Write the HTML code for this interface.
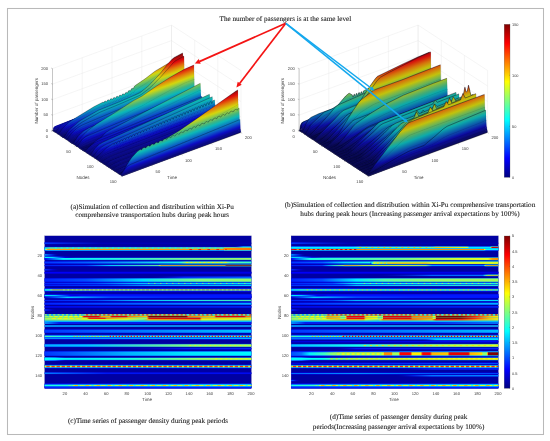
<!DOCTYPE html>
<html><head><meta charset="utf-8"><title>Figure</title>
<style>html,body{margin:0;padding:0;background:#fff;}svg{display:block;}text{text-rendering:geometricPrecision;}</style>
</head><body>
<svg width="550" height="441" viewBox="0 0 550 441">
<rect width="550" height="441" fill="#fff"/>
<rect x="7.5" y="8.5" width="536" height="426" fill="#fff" stroke="#b9b9b9" stroke-width="1.05"/>
<g transform="translate(0.0,0)"><defs><linearGradient id="jza" gradientUnits="userSpaceOnUse" x1="0" y1="0" x2="-13.39" y2="-36.64"><stop offset="0" stop-color="#0c0c72"/><stop offset="0.04167" stop-color="#0c0c8b"/><stop offset="0.08333" stop-color="#0c0ca1"/><stop offset="0.125" stop-color="#0c0cc2"/><stop offset="0.1667" stop-color="#0c2bc6"/><stop offset="0.2083" stop-color="#0c4bc8"/><stop offset="0.25" stop-color="#0c68c4"/><stop offset="0.2917" stop-color="#0c84bf"/><stop offset="0.3333" stop-color="#0c9ebb"/><stop offset="0.375" stop-color="#0cb8b8"/><stop offset="0.4167" stop-color="#29b699"/><stop offset="0.4583" stop-color="#45b67d"/><stop offset="0.5" stop-color="#66bf66"/><stop offset="0.5417" stop-color="#89c74a"/><stop offset="0.5833" stop-color="#afd02c"/><stop offset="0.625" stop-color="#d5d50c"/><stop offset="0.6667" stop-color="#dab80c"/><stop offset="0.7083" stop-color="#de980c"/><stop offset="0.75" stop-color="#e2780c"/><stop offset="0.7917" stop-color="#e1530c"/><stop offset="0.8333" stop-color="#e02f0c"/><stop offset="0.875" stop-color="#e00c0c"/><stop offset="0.9167" stop-color="#bc0c0c"/><stop offset="0.9583" stop-color="#980c0c"/><stop offset="1" stop-color="#750c0c"/></linearGradient></defs><line x1="52.5" y1="130.6" x2="171.5" y2="87.1" stroke="#e3e3e3" stroke-width="0.35"/><line x1="171.5" y1="87.1" x2="241.0" y2="132.5" stroke="#e3e3e3" stroke-width="0.35"/><line x1="52.5" y1="115.1" x2="171.5" y2="71.6" stroke="#e3e3e3" stroke-width="0.35"/><line x1="171.5" y1="71.6" x2="241.0" y2="117.0" stroke="#e3e3e3" stroke-width="0.35"/><line x1="52.5" y1="99.6" x2="171.5" y2="56.1" stroke="#e3e3e3" stroke-width="0.35"/><line x1="171.5" y1="56.1" x2="241.0" y2="101.5" stroke="#e3e3e3" stroke-width="0.35"/><line x1="52.5" y1="84.1" x2="171.5" y2="40.6" stroke="#e3e3e3" stroke-width="0.35"/><line x1="171.5" y1="40.6" x2="241.0" y2="86.0" stroke="#e3e3e3" stroke-width="0.35"/><line x1="52.5" y1="68.6" x2="171.5" y2="25.1" stroke="#e3e3e3" stroke-width="0.35"/><line x1="171.5" y1="25.1" x2="241.0" y2="70.5" stroke="#e3e3e3" stroke-width="0.35"/><line x1="52.5" y1="130.6" x2="52.5" y2="68.6" stroke="#e3e3e3" stroke-width="0.35"/><line x1="52.5" y1="130.6" x2="122.0" y2="176.0" stroke="#e3e3e3" stroke-width="0.35"/><line x1="82.2" y1="119.7" x2="82.2" y2="57.7" stroke="#e3e3e3" stroke-width="0.35"/><line x1="82.2" y1="119.7" x2="151.8" y2="165.1" stroke="#e3e3e3" stroke-width="0.35"/><line x1="112.0" y1="108.8" x2="112.0" y2="46.8" stroke="#e3e3e3" stroke-width="0.35"/><line x1="112.0" y1="108.8" x2="181.5" y2="154.2" stroke="#e3e3e3" stroke-width="0.35"/><line x1="141.8" y1="98.0" x2="141.8" y2="36.0" stroke="#e3e3e3" stroke-width="0.35"/><line x1="141.8" y1="98.0" x2="211.2" y2="143.4" stroke="#e3e3e3" stroke-width="0.35"/><line x1="171.5" y1="87.1" x2="171.5" y2="25.1" stroke="#e3e3e3" stroke-width="0.35"/><line x1="171.5" y1="87.1" x2="241.0" y2="132.5" stroke="#e3e3e3" stroke-width="0.35"/><line x1="171.5" y1="87.1" x2="171.5" y2="25.1" stroke="#e3e3e3" stroke-width="0.35"/><line x1="52.5" y1="130.6" x2="171.5" y2="87.1" stroke="#e3e3e3" stroke-width="0.35"/><line x1="194.7" y1="102.2" x2="194.7" y2="40.2" stroke="#e3e3e3" stroke-width="0.35"/><line x1="75.7" y1="145.7" x2="194.7" y2="102.2" stroke="#e3e3e3" stroke-width="0.35"/><line x1="217.8" y1="117.4" x2="217.8" y2="55.4" stroke="#e3e3e3" stroke-width="0.35"/><line x1="98.8" y1="160.9" x2="217.8" y2="117.4" stroke="#e3e3e3" stroke-width="0.35"/><line x1="241.0" y1="132.5" x2="241.0" y2="70.5" stroke="#e3e3e3" stroke-width="0.35"/><line x1="122.0" y1="176.0" x2="241.0" y2="132.5" stroke="#e3e3e3" stroke-width="0.35"/><polygon points="52.5,130.6 171.5,87.1 241.0,132.5 122.0,176.0" fill="#00005c"/><polygon transform="translate(52.7,130.8)" points="-0.2,-0.2 0.4,-1 1.6,-1.6 118.8,-44.7 119.2,-47.9 18.1,-10.3 2,-4.1 0.8,-2.7 0.2,0.6" fill="url(#jza)" stroke="#001" stroke-opacity="0.20" stroke-width="0.3"/><polygon transform="translate(53.2,131.1)" points="-0.2,-0.2 0.4,-3.5 1.6,-4.8 17.6,-11 118.8,-48.6 119.2,-45.5 2,-2.2 0.8,-1.2 0.2,0.6" fill="url(#jza)" stroke="#001" stroke-opacity="0.20" stroke-width="0.3"/><polygon transform="translate(53.7,131.4)" points="-0.2,-0.2 0.4,-2 1.6,-2.9 118.8,-46.3 119.2,-49.1 18.1,-10.9 6.2,-5.6 2.6,-4.9 1.4,-3.2 0.2,0.6" fill="url(#jza)" stroke="#001" stroke-opacity="0.20" stroke-width="0.3"/><polygon transform="translate(54.1,131.7)" points="-0.2,-0.2 1,-4 2.1,-5.7 5.7,-6.4 17.6,-11.6 118.8,-49.9 119.2,-47.1 18.1,-9.3 6.2,-4.3 2.6,-3.4 1.4,-2.2 0.2,0.6" fill="url(#jza)" stroke="#001" stroke-opacity="0.20" stroke-width="0.3"/><polygon transform="translate(54.6,132)" points="-0.2,-0.2 1,-2.9 2.1,-4.2 5.7,-5.1 17.6,-10.1 118.8,-47.9 119.2,-50.3 18.1,-11.8 5,-6.4 2,-2.5 0.2,0.6" fill="url(#jza)" stroke="#001" stroke-opacity="0.20" stroke-width="0.3"/><polygon transform="translate(55,132.3)" points="-0.2,-0.2 1.6,-3.3 4.5,-7.2 17.6,-12.6 118.8,-51.1 119.2,-46.8 18.1,-9 5,-3.9 0.2,0.4" fill="url(#jza)" stroke="#001" stroke-opacity="0.20" stroke-width="0.3"/><polygon transform="translate(55.5,132.6)" points="-0.2,-0.3 4.5,-4.7 17.6,-9.8 118.8,-47.6 119.2,-52.2 8.6,-8.7 6.2,-7.4 4.4,-5.8 0.2,-0.2" fill="url(#jza)" stroke="#001" stroke-opacity="0.20" stroke-width="0.3"/><polygon transform="translate(56,132.9)" points="-0.2,-1 3.9,-6.6 5.7,-8.1 8.1,-9.4 118.8,-52.9 119.2,-50.4 8.6,-7.5 6.2,-6.3 4.4,-4.9 0.2,-0.1" fill="url(#jza)" stroke="#001" stroke-opacity="0.20" stroke-width="0.3"/><polyline transform="translate(56,132.9)" points="-0.2,-1 3.9,-6.6 5.7,-8.1 8.1,-9.4 118.8,-52.9" fill="none" stroke="#000820" stroke-opacity="0.55" stroke-width="0.45"/><polygon transform="translate(56.4,133.2)" points="-0.2,-0.8 3.9,-5.6 5.7,-7 8.1,-8.2 118.8,-51.2 119.2,-48.7 8.6,-6.3 6.2,-5.2 4.4,-4 0.2,0.1" fill="url(#jza)" stroke="#001" stroke-opacity="0.20" stroke-width="0.3"/><polygon transform="translate(56.9,133.5)" points="-0.2,-0.7 3.9,-4.7 5.7,-5.9 8.1,-7 118.8,-49.4 119.2,-46.9 8.6,-5.1 4.4,-3 0.2,0.3" fill="url(#jza)" stroke="#001" stroke-opacity="0.20" stroke-width="0.3"/><polygon transform="translate(57.4,133.8)" points="-0.2,-0.5 3.9,-3.8 8.1,-5.9 118.8,-47.6 119.2,-45.1 8.6,-3.9 4.4,-2.1 0.2,0.4" fill="url(#jza)" stroke="#001" stroke-opacity="0.20" stroke-width="0.3"/><polygon transform="translate(57.8,134.1)" points="-0.2,-0.3 3.9,-2.9 8.1,-4.7 118.8,-45.9 119.2,-49.6 96.6,-40.5 77.6,-32.1 75.8,-31.3 75.2,-30.7 74.6,-30.4 74,-30.5 72.8,-29.9 72.2,-29.4 69.8,-28.6 68.7,-27.8 68.1,-27.9 66.9,-27.4 66.3,-26.9 65.1,-26.7 63.9,-26.2 63.3,-25.8 60.9,-25.1 59.7,-24.4 59.1,-24.5 57.9,-24 56.8,-23.3 56.2,-23.3 55,-22.9 53.8,-22.2 53.2,-22.2 52,-21.8 50.8,-21.1 50.2,-21.1 49,-20.7 47.8,-20 47.2,-20 46,-19.6 45.5,-19.1 44.9,-19.1 18.1,-8.2 9.2,-4.3 0.2,0.5" fill="url(#jza)" stroke="#001" stroke-opacity="0.20" stroke-width="0.3"/><polygon transform="translate(58.3,134.4)" points="-0.2,-0.3 8.7,-5 17.6,-8.9 44.4,-19.9 45,-19.9 45.6,-20.3 46.8,-20.8 47.4,-20.8 48.6,-21.4 49.7,-21.9 50.3,-21.9 51.5,-22.6 52.7,-23 53.3,-23 54.5,-23.7 55.7,-24.1 56.3,-24.1 57.5,-24.8 58.7,-25.2 59.3,-25.2 60.5,-25.9 62.8,-26.5 63.4,-27 64.6,-27.4 65.8,-27.6 66.4,-28.1 67.6,-28.6 68.2,-28.6 69.4,-29.4 71.8,-30.1 72.4,-30.7 73.5,-31.2 74.1,-31.2 74.7,-31.5 75.3,-32 77.1,-32.9 96.2,-41.3 118.8,-50.4 119.2,-75.1 109.1,-70.1 96.6,-62.7 87.1,-55.3 77.6,-48.8 75.8,-47.3 75.2,-45.4 74.6,-45 74,-45.8 72.8,-44.9 72.2,-43.2 71.6,-42.8 71,-43.6 69.8,-42.8 69.3,-41.2 68.7,-40.8 68.1,-41.6 66.9,-41 66.3,-39.4 65.7,-39.2 65.1,-40.1 63.9,-39.6 63.3,-38.2 62.7,-38 62.1,-38.9 60.9,-38.5 60.3,-37 59.7,-36.8 59.1,-37.7 57.9,-37.3 57.4,-35.9 56.8,-35.6 56.2,-36.6 55,-36.1 54.4,-34.7 53.8,-34.5 53.2,-35.4 52,-34.9 51.4,-33.5 50.8,-33.3 50.2,-34.2 49,-33.7 48.4,-32.3 47.8,-32.1 47.2,-33 46,-32.5 45.5,-31.1 44.9,-31.9 35.9,-27.5 18.1,-16.6 12.1,-12.7 9.2,-10.3 4.4,-5.5 0.2,0" fill="url(#jza)" stroke="#001" stroke-opacity="0.20" stroke-width="0.3"/><polygon transform="translate(58.8,134.7)" points="-0.2,-0.8 3.9,-6.2 8.7,-11 11.7,-13.5 17.6,-17.3 35.5,-28.2 44.4,-32.7 45,-31.8 45.6,-33.2 46.8,-33.8 47.4,-32.9 48,-33.1 48.6,-34.5 49.7,-35 50.3,-34 50.9,-34.3 51.5,-35.7 52.7,-36.1 53.3,-35.2 53.9,-35.4 54.5,-36.8 55.7,-37.3 56.3,-36.4 56.9,-36.6 57.5,-38 58.7,-38.5 59.3,-37.6 59.9,-37.8 60.5,-39.2 61.6,-39.7 62.2,-38.7 62.8,-39 63.4,-40.4 64.6,-40.9 65.2,-39.9 65.8,-40.2 66.4,-41.7 67.6,-42.4 68.2,-41.5 68.8,-41.9 69.4,-43.6 70.6,-44.4 71.2,-43.5 71.8,-43.9 72.4,-45.7 73.5,-46.6 74.1,-45.7 74.7,-46.2 75.3,-48.1 77.1,-49.6 86.6,-56.1 96.2,-63.5 108.7,-70.9 118.8,-75.8 119.2,-69 109.1,-64.3 96.6,-57.4 87.1,-50.7 77.6,-44.8 75.8,-43.5 75.2,-41.9 74.6,-41.5 74,-42.1 72.8,-41.3 72.2,-39.9 71.6,-39.5 71,-40.1 69.8,-39.4 69.3,-38 68.7,-37.7 68.1,-38.3 66.9,-37.7 66.3,-36.4 65.7,-36.2 65.1,-36.9 63.9,-36.4 63.3,-35.2 62.7,-35 62.1,-35.7 60.9,-35.2 60.3,-34.1 59.7,-33.8 59.1,-34.5 57.9,-34.1 57.4,-32.9 56.8,-32.7 56.2,-33.4 55,-32.9 54.4,-31.7 53.8,-31.5 53.2,-32.2 52,-31.8 51.4,-30.6 50.8,-30.4 50.2,-31.1 49,-30.6 48.4,-29.4 47.8,-29.2 47.2,-29.9 46,-29.4 45.5,-28.2 44.9,-28.8 35.9,-24.6 18.1,-14.6 12.1,-11 9.2,-8.8 4.4,-4.6 0.2,0.1" fill="url(#jza)" stroke="#001" stroke-opacity="0.20" stroke-width="0.3"/><polyline transform="translate(58.8,134.7)" points="-0.2,-0.8 3.9,-6.2 8.7,-11 11.7,-13.5 17.6,-17.3 35.5,-28.2 44.4,-32.7 45,-31.8 45.6,-33.2 46.8,-33.8 47.4,-32.9 48,-33.1 48.6,-34.5 49.7,-35 50.3,-34 50.9,-34.3 51.5,-35.7 52.7,-36.1 53.3,-35.2 53.9,-35.4 54.5,-36.8 55.7,-37.3 56.3,-36.4 56.9,-36.6 57.5,-38 58.7,-38.5 59.3,-37.6 59.9,-37.8 60.5,-39.2 61.6,-39.7 62.2,-38.7 62.8,-39 63.4,-40.4 64.6,-40.9 65.2,-39.9 65.8,-40.2 66.4,-41.7 67.6,-42.4 68.2,-41.5 68.8,-41.9 69.4,-43.6 70.6,-44.4 71.2,-43.5 71.8,-43.9 72.4,-45.7 73.5,-46.6 74.1,-45.7 74.7,-46.2 75.3,-48.1 77.1,-49.6 86.6,-56.1 96.2,-63.5 108.7,-70.9 118.8,-75.8" fill="none" stroke="#000820" stroke-opacity="0.55" stroke-width="0.45"/><polygon transform="translate(59.2,135)" points="-0.2,-0.7 3.9,-5.4 8.7,-9.6 11.7,-11.8 17.6,-15.3 35.5,-25.4 44.4,-29.6 45,-28.9 45.6,-30.1 46.8,-30.6 47.4,-29.9 48,-30.2 48.6,-31.4 49.7,-31.8 50.3,-31.1 50.9,-31.3 51.5,-32.5 52.7,-33 53.3,-32.3 53.9,-32.5 54.5,-33.7 55.7,-34.1 56.3,-33.4 56.9,-33.7 57.5,-34.8 58.7,-35.3 59.3,-34.6 59.9,-34.8 60.5,-36 61.6,-36.5 62.2,-35.7 62.8,-36 63.4,-37.2 64.6,-37.6 65.2,-36.9 65.8,-37.2 66.4,-38.4 67.6,-39.1 68.2,-38.4 68.8,-38.8 69.4,-40.2 70.6,-40.9 71.2,-40.2 71.8,-40.6 72.4,-42.1 73.5,-42.9 74.1,-42.2 74.7,-42.6 75.3,-44.2 77.1,-45.5 86.6,-51.5 96.2,-58.2 108.7,-65 118.8,-69.7 119.2,-62.8 109.1,-58.4 96.6,-52.1 87.1,-46.1 77.6,-40.8 75.8,-39.6 75.2,-38.4 74.6,-38 74,-38.4 72.8,-37.7 72.2,-36.5 71.6,-36.2 71,-36.7 69.8,-36 69.3,-34.9 68.7,-34.6 68.1,-35 66.9,-34.4 66.3,-33.4 65.7,-33.1 65.1,-33.6 63.9,-33.2 63.3,-32.2 62.7,-32 62.1,-32.5 60.9,-32 60.3,-31.1 59.7,-30.9 59.1,-31.4 57.9,-30.9 57.4,-29.9 56.8,-29.7 56.2,-30.2 55,-29.8 54.4,-28.8 53.8,-28.6 53.2,-29.1 52,-28.6 51.4,-27.7 50.8,-27.4 50.2,-27.9 49,-27.5 48.4,-26.5 47.8,-26.3 47.2,-26.8 46,-26.3 45.5,-25.3 44.9,-25.8 35.9,-21.8 18.1,-12.5 12.1,-9.3 9.2,-7.4 5,-4.2 0.2,0.2" fill="url(#jza)" stroke="#001" stroke-opacity="0.20" stroke-width="0.3"/><polygon transform="translate(59.7,135.3)" points="-0.2,-0.5 4.5,-5 8.7,-8.1 11.7,-10.1 17.6,-13.3 35.5,-22.5 44.4,-26.5 45,-26.1 45.6,-27 46.8,-27.5 47.4,-27 48,-27.3 48.6,-28.2 49.7,-28.7 50.3,-28.2 50.9,-28.4 51.5,-29.4 52.7,-29.8 53.3,-29.3 53.9,-29.6 54.5,-30.5 55.7,-31 56.3,-30.5 56.9,-30.7 57.5,-31.7 58.7,-32.1 59.3,-31.6 59.9,-31.8 60.5,-32.8 61.6,-33.3 62.2,-32.7 62.8,-33 63.4,-33.9 64.6,-34.4 65.2,-33.9 65.8,-34.2 66.4,-35.2 67.6,-35.8 68.2,-35.3 68.8,-35.6 69.4,-36.7 70.6,-37.4 71.2,-36.9 71.8,-37.3 72.4,-38.5 73.5,-39.2 74.1,-38.7 74.7,-39.1 75.3,-40.4 77.1,-41.5 86.6,-46.9 96.2,-52.8 108.7,-59.1 118.8,-63.6 119.2,-56.7 109.1,-52.5 96.6,-46.7 87.1,-41.5 77.6,-36.8 75.8,-35.8 75.2,-34.8 74.6,-34.5 74,-34.7 72.8,-34.1 72.2,-33.2 71.6,-32.9 71,-33.2 69.8,-32.6 69.3,-31.7 68.7,-31.5 68.1,-31.7 66.9,-31.2 66.3,-30.4 65.7,-30.1 65.1,-30.4 63.9,-30 63.3,-29.2 62.7,-29 62.1,-29.3 60.9,-28.8 60.3,-28.1 59.7,-27.9 59.1,-28.2 57.9,-27.7 57.4,-27 56.8,-26.8 56.2,-27 55,-26.6 54.4,-25.9 53.8,-25.6 53.2,-25.9 52,-25.5 51.4,-24.7 50.8,-24.5 50.2,-24.8 49,-24.3 48.4,-23.6 47.8,-23.4 47.2,-23.6 46,-23.2 45.5,-22.4 44.9,-22.7 35.9,-18.9 18.1,-10.5 12.1,-7.6 9.2,-5.9 5,-3.3 0.2,0.3" fill="url(#jza)" stroke="#001" stroke-opacity="0.20" stroke-width="0.3"/><polygon transform="translate(60.1,135.6)" points="-0.2,-0.4 4.5,-4 8.7,-6.7 11.7,-8.4 17.6,-11.3 35.5,-19.7 44.4,-23.4 45,-23.2 45.6,-23.9 46.8,-24.4 47.4,-24.1 48,-24.4 48.6,-25.1 49.7,-25.5 50.3,-25.3 50.9,-25.5 51.5,-26.2 52.7,-26.7 53.3,-26.4 53.9,-26.6 54.5,-27.3 55.7,-27.8 56.3,-27.5 56.9,-27.7 57.5,-28.5 58.7,-28.9 59.3,-28.6 59.9,-28.9 60.5,-29.6 61.6,-30 62.2,-29.8 62.8,-30 63.4,-30.7 64.6,-31.2 65.2,-30.9 65.8,-31.1 66.4,-31.9 67.6,-32.4 68.2,-32.2 68.8,-32.5 69.4,-33.3 70.6,-33.9 71.2,-33.7 71.8,-34 72.4,-34.9 73.5,-35.5 74.1,-35.2 74.7,-35.6 75.3,-36.5 77.1,-37.5 86.6,-42.3 96.2,-47.5 108.7,-53.3 118.8,-57.5 119.2,-50.6 109.1,-46.6 96.6,-41.4 77.6,-32.7 75.8,-31.9 75.2,-31.3 74.6,-31 74,-31 72.8,-30.5 72.2,-29.9 71.6,-29.6 71,-29.7 69.8,-29.2 68.7,-28.3 68.1,-28.4 66.9,-27.9 66.3,-27.4 65.7,-27.1 65.1,-27.2 63.9,-26.7 63.3,-26.2 62.7,-26 62.1,-26.1 60.9,-25.6 59.7,-24.9 59.1,-25 57.9,-24.5 56.8,-23.8 56.2,-23.9 55,-23.4 53.8,-22.7 53.2,-22.7 52,-22.3 50.8,-21.6 50.2,-21.6 49,-21.2 47.8,-20.5 47.2,-20.5 46,-20.1 45.5,-19.6 44.9,-19.6 35.9,-16.1 18.1,-8.5 9.2,-4.5 5,-2.3 0.2,0.5" fill="url(#jza)" stroke="#001" stroke-opacity="0.20" stroke-width="0.3"/><polygon transform="translate(60.6,135.9)" points="-0.2,-0.3 4.5,-3.1 8.7,-5.2 17.6,-9.2 35.5,-16.8 44.4,-20.4 45,-20.3 45.6,-20.8 46.8,-21.3 47.4,-21.2 48.6,-21.9 49.7,-22.4 50.3,-22.3 51.5,-23.1 52.7,-23.5 53.3,-23.4 54.5,-24.2 55.7,-24.6 56.3,-24.6 57.5,-25.3 58.7,-25.7 59.3,-25.7 60.5,-26.4 61.6,-26.8 62.2,-26.8 62.8,-27 63.4,-27.5 64.6,-27.9 65.2,-27.9 65.8,-28.1 66.4,-28.6 67.6,-29.1 68.2,-29.1 69.4,-29.9 70.6,-30.4 71.2,-30.4 71.8,-30.7 72.4,-31.2 73.5,-31.8 74.1,-31.7 74.7,-32 75.3,-32.6 77.1,-33.5 96.2,-42.1 108.7,-47.4 118.8,-51.4 119.2,-44.5 96.6,-36 68.7,-25.2 18.1,-6.5 0.2,0.6" fill="url(#jza)" stroke="#001" stroke-opacity="0.20" stroke-width="0.3"/><polygon transform="translate(61.1,136.2)" points="-0.2,-0.2 17.6,-7.2 68.2,-26 96.2,-36.8 118.8,-45.3 119.2,-44.2 68.7,-25 18.1,-6.3 0.2,0.6" fill="url(#jza)" stroke="#001" stroke-opacity="0.20" stroke-width="0.3"/><polygon transform="translate(61.5,136.5)" points="-0.2,-0.2 17.6,-7.1 68.2,-25.8 118.8,-44.9 119.2,-43.9 68.7,-24.9 18.1,-6.2 0.2,0.6" fill="url(#jza)" stroke="#001" stroke-opacity="0.20" stroke-width="0.3"/><polygon transform="translate(62,136.8)" points="-0.2,-0.2 17.6,-7 68.2,-25.7 118.8,-44.6 119.2,-43.7 0.2,0.6" fill="url(#jza)" stroke="#001" stroke-opacity="0.20" stroke-width="0.3"/><polygon transform="translate(62.5,137.1)" points="-0.2,-0.2 118.8,-44.4 119.2,-43.5 0.2,0.6" fill="url(#jza)" stroke="#001" stroke-opacity="0.20" stroke-width="0.3"/><polygon transform="translate(62.9,137.4)" points="-0.2,-0.2 118.8,-44.2 119.2,-51.6 108.5,-47.2 88.3,-36.4 77,-31.1 34.7,-15.1 17.5,-8.1 6.2,-2.9 0.2,0.5" fill="url(#jza)" stroke="#001" stroke-opacity="0.20" stroke-width="0.3"/><polygon transform="translate(63.4,137.7)" points="-0.2,-0.3 5.7,-3.6 17,-8.8 34.3,-15.9 76.5,-31.9 87.8,-37.1 108.1,-47.9 118.8,-52.3 119.2,-84.3 110.9,-79.9 108.5,-78 104.4,-73.4 95.4,-62.2 88.3,-54.5 84.7,-51.2 77,-44.9 74.6,-43.5 56.2,-35.4 34.7,-26.9 17.5,-16.9 13.9,-14.4 6.2,-7.7 4.4,-5.6 1.4,-1.3 0.2,0" fill="url(#jza)" stroke="#001" stroke-opacity="0.20" stroke-width="0.3"/><polygon transform="translate(63.9,138)" points="-0.2,-0.7 1,-2.1 3.9,-6.4 5.7,-8.4 13.5,-15.1 17,-17.7 34.3,-27.6 55.7,-36.2 74.1,-44.3 76.5,-45.6 84.3,-51.9 87.8,-55.3 95,-63 103.9,-74.1 108.1,-78.8 110.4,-80.6 118.8,-85.1 119.2,-76.1 110.9,-71.9 108.5,-70.2 104.4,-66.2 95.4,-56.6 88.3,-49.9 84.7,-47 77,-41.4 74.6,-40.1 56.2,-32.3 34.7,-23.9 17.5,-14.7 13.9,-12.4 6.2,-6.5 4.4,-4.7 1.4,-1 0.2,0.1" fill="url(#jza)" stroke="#001" stroke-opacity="0.20" stroke-width="0.3"/><polyline transform="translate(63.9,138)" points="-0.2,-0.7 1,-2.1 3.9,-6.4 5.7,-8.4 13.5,-15.1 17,-17.7 34.3,-27.6 55.7,-36.2 74.1,-44.3 76.5,-45.6 84.3,-51.9 87.8,-55.3 95,-63 103.9,-74.1 108.1,-78.8 110.4,-80.6 118.8,-85.1" fill="none" stroke="#000820" stroke-opacity="0.55" stroke-width="0.45"/><polygon transform="translate(64.3,138.3)" points="-0.2,-0.6 1,-1.8 3.9,-5.4 5.7,-7.2 13.5,-13.1 17,-15.5 34.3,-24.6 55.7,-33.1 74.1,-40.9 76.5,-42.1 84.3,-47.7 87.8,-50.7 95,-57.4 103.9,-66.9 108.1,-71 110.4,-72.6 118.8,-76.8 119.2,-67.8 110.9,-63.9 108.5,-62.4 104.4,-59 95.4,-51 88.3,-45.4 84.7,-42.8 77,-37.9 74.6,-36.7 56.2,-29.2 34.7,-20.9 17.5,-12.5 13.9,-10.4 6.2,-5.2 0.2,0.2" fill="url(#jza)" stroke="#001" stroke-opacity="0.20" stroke-width="0.3"/><polygon transform="translate(64.8,138.6)" points="-0.2,-0.5 5.7,-6 13.5,-11.1 17,-13.2 34.3,-21.7 55.7,-30 74.1,-37.5 76.5,-38.7 84.3,-43.6 87.8,-46.1 95,-51.8 103.9,-59.8 108.1,-63.2 110.4,-64.6 118.8,-68.5 119.2,-82.2 110.9,-77.4 108.5,-75.6 95.4,-60.6 88.3,-53.2 84.7,-50 77,-43.9 74.6,-42.6 56.2,-34.5 34.7,-25.6 17.5,-16 13.9,-13.5 6.2,-7 4.4,-5.1 1.4,-1.2 0.2,0.1" fill="url(#jza)" stroke="#001" stroke-opacity="0.20" stroke-width="0.3"/><polygon transform="translate(65.2,138.9)" points="-0.2,-0.7 1,-1.9 3.9,-5.9 5.7,-7.8 13.5,-14.2 17,-16.7 34.3,-26.4 55.7,-35.3 74.1,-43.3 76.5,-44.7 84.3,-50.7 87.8,-54 95,-61.4 108.1,-76.3 110.4,-78.2 118.8,-82.9 119.2,-63.5 110.9,-59.6 108.5,-58.2 95.4,-48.1 88.3,-42.9 84.7,-40.6 77,-36.1 74.6,-35 56.2,-27.5 34.7,-19.2 17.5,-11.1 13.9,-9.2 6.2,-4.4 0.2,0.3" fill="url(#jza)" stroke="#001" stroke-opacity="0.20" stroke-width="0.3"/><polyline transform="translate(65.2,138.9)" points="-0.2,-0.7 1,-1.9 3.9,-5.9 5.7,-7.8 13.5,-14.2 17,-16.7 34.3,-26.4 55.7,-35.3 74.1,-43.3 76.5,-44.7 84.3,-50.7 87.8,-54 95,-61.4 108.1,-76.3 110.4,-78.2 118.8,-82.9" fill="none" stroke="#000820" stroke-opacity="0.55" stroke-width="0.45"/><polygon transform="translate(65.7,139.2)" points="-0.2,-0.4 5.7,-5.2 13.5,-9.9 17,-11.9 34.3,-19.9 55.7,-28.3 74.1,-35.7 76.5,-36.9 84.3,-41.4 87.8,-43.7 95,-48.8 108.1,-58.9 110.4,-60.3 118.8,-64.3 119.2,-54.6 108.5,-50.1 95.4,-42.1 88.3,-38.1 77,-32.4 56.2,-24.3 34.7,-16.2 17.5,-8.9 6.2,-3.3 0.2,0.4" fill="url(#jza)" stroke="#001" stroke-opacity="0.20" stroke-width="0.3"/><polygon transform="translate(66.2,139.5)" points="-0.2,-0.3 5.7,-4.1 17,-9.6 34.3,-17 55.7,-25 76.5,-33.1 87.8,-38.8 95,-42.9 108.1,-50.8 118.8,-55.4 119.2,-52 108.5,-47.6 88.3,-36.7 77,-31.3 34.7,-15.3 17.5,-8.2 6.2,-2.9 0.2,0.5" fill="url(#jza)" stroke="#001" stroke-opacity="0.20" stroke-width="0.3"/><polygon transform="translate(66.6,139.8)" points="-0.2,-0.3 5.7,-3.7 17,-8.9 34.3,-16 76.5,-32.1 87.8,-37.4 108.1,-48.4 118.8,-52.8 119.2,-58.4 15.7,-14.3 11.5,-11.9 8.6,-9.6 5,-6.1 1.4,-1.2 0.2,0" fill="url(#jza)" stroke="#001" stroke-opacity="0.20" stroke-width="0.3"/><polygon transform="translate(67.1,140.1)" points="-0.2,-0.7 1,-2 4.5,-6.8 8.1,-10.4 11.1,-12.7 15.2,-15 118.8,-59.1 119.2,-55.9 15.7,-12.8 11.5,-10.6 8.6,-8.5 5,-5.3 1.4,-1 0.2,0.1" fill="url(#jza)" stroke="#001" stroke-opacity="0.20" stroke-width="0.3"/><polyline transform="translate(67.1,140.1)" points="-0.2,-0.7 1,-2 4.5,-6.8 8.1,-10.4 11.1,-12.7 15.2,-15 118.8,-59.1" fill="none" stroke="#000820" stroke-opacity="0.55" stroke-width="0.45"/><polygon transform="translate(67.6,140.4)" points="-0.2,-0.6 1,-1.8 4.5,-6 8.1,-9.3 11.1,-11.4 15.2,-13.6 118.8,-56.7 119.2,-53.5 15.7,-11.4 11.5,-9.3 8.6,-7.4 5,-4.5 0.2,0.2" fill="url(#jza)" stroke="#001" stroke-opacity="0.20" stroke-width="0.3"/><polygon transform="translate(68,140.7)" points="-0.2,-0.5 4.5,-5.3 8.1,-8.1 11.1,-10 15.2,-12.1 118.8,-54.2 119.2,-51 15.7,-9.9 11.5,-7.9 8.6,-6.2 5,-3.7 0.2,0.3" fill="url(#jza)" stroke="#001" stroke-opacity="0.20" stroke-width="0.3"/><polygon transform="translate(68.5,141)" points="-0.2,-0.4 4.5,-4.5 8.1,-7 11.1,-8.7 15.2,-10.6 118.8,-51.8 119.2,-48.6 15.7,-8.4 8.6,-5.1 5,-2.9 0.2,0.4" fill="url(#jza)" stroke="#001" stroke-opacity="0.20" stroke-width="0.3"/><polygon transform="translate(68.9,141.3)" points="-0.2,-0.4 4.5,-3.7 8.1,-5.8 15.2,-9.2 118.8,-49.3 119.2,-46.1 15.7,-7 8.6,-3.9 0.2,0.5" fill="url(#jza)" stroke="#001" stroke-opacity="0.20" stroke-width="0.3"/><polygon transform="translate(69.4,141.6)" points="-0.2,-0.3 8.1,-4.7 15.2,-7.7 118.8,-46.9 119.2,-44.5 108.5,-40.5 77,-28.1 14.5,-5.1 0.2,0.6" fill="url(#jza)" stroke="#001" stroke-opacity="0.20" stroke-width="0.3"/><polygon transform="translate(69.9,141.9)" points="-0.2,-0.2 14,-5.8 76.5,-28.9 108.1,-41.2 118.8,-45.2 119.2,-44.1 77,-28 14.5,-5 0.2,0.6" fill="url(#jza)" stroke="#001" stroke-opacity="0.20" stroke-width="0.3"/><polygon transform="translate(70.3,142.3)" points="-0.2,-0.2 14,-5.7 76.5,-28.7 118.8,-44.9 119.2,-43.9 77,-27.9 14.5,-4.9 0.2,0.6" fill="url(#jza)" stroke="#001" stroke-opacity="0.20" stroke-width="0.3"/><polygon transform="translate(70.8,142.6)" points="-0.2,-0.2 14,-5.6 76.5,-28.6 118.8,-44.6 119.2,-43.6 77,-27.8 14.5,-4.8 0.2,0.6" fill="url(#jza)" stroke="#001" stroke-opacity="0.20" stroke-width="0.3"/><polygon transform="translate(71.3,142.9)" points="-0.2,-0.2 14,-5.6 76.5,-28.5 118.8,-44.4 119.2,-43.5 0.2,0.6" fill="url(#jza)" stroke="#001" stroke-opacity="0.20" stroke-width="0.3"/><polygon transform="translate(71.7,143.2)" points="-0.2,-0.2 118.8,-44.2 119.2,-43.4 0.2,0.6" fill="url(#jza)" stroke="#001" stroke-opacity="0.20" stroke-width="0.3"/><polygon transform="translate(72.2,143.5)" points="-0.2,-0.2 118.8,-44.1 119.2,-46.1 16.3,-7.4 8.6,-4.1 0.2,0.5" fill="url(#jza)" stroke="#001" stroke-opacity="0.20" stroke-width="0.3"/><polygon transform="translate(72.7,143.8)" points="-0.2,-0.3 8.1,-4.8 15.8,-8.2 118.8,-46.9 119.2,-58.4 16.3,-15.4 11.5,-12.7 8.6,-10.2 5,-6.4 1.4,-1.3 0.2,0" fill="url(#jza)" stroke="#001" stroke-opacity="0.20" stroke-width="0.3"/><polygon transform="translate(73.1,144.1)" points="-0.2,-0.7 1,-2.1 4.5,-7.2 8.1,-10.9 11.1,-13.4 15.8,-16.2 118.8,-59.1 119.2,-54.8 16.3,-13 11.5,-10.5 8.6,-8.4 5,-5.2 1.4,-1 0.2,0.1" fill="url(#jza)" stroke="#001" stroke-opacity="0.20" stroke-width="0.3"/><polyline transform="translate(73.1,144.1)" points="-0.2,-0.7 1,-2.1 4.5,-7.2 8.1,-10.9 11.1,-13.4 15.8,-16.2 118.8,-59.1" fill="none" stroke="#000820" stroke-opacity="0.55" stroke-width="0.45"/><polygon transform="translate(73.6,144.4)" points="-0.2,-0.6 1,-1.7 4.5,-5.9 8.1,-9.1 11.1,-11.3 15.8,-13.8 118.8,-55.5 119.2,-51.2 16.3,-10.7 11.5,-8.4 8.6,-6.6 5,-4 0.2,0.3" fill="url(#jza)" stroke="#001" stroke-opacity="0.20" stroke-width="0.3"/><polygon transform="translate(74,144.7)" points="-0.2,-0.5 4.5,-4.7 8.1,-7.3 11.1,-9.1 15.8,-11.4 118.8,-51.9 119.2,-50.6 109.7,-46.9 95.4,-41.1 67.5,-29.1 33,-14.7 14.5,-7.6 10.9,-6 6.8,-3.8 0.2,0.4" fill="url(#jza)" stroke="#001" stroke-opacity="0.20" stroke-width="0.3"/><polygon transform="translate(74.5,145)" points="-0.2,-0.3 6.3,-4.5 10.5,-6.7 14,-8.3 32.5,-15.4 67,-29.9 95,-41.9 109.2,-47.7 118.8,-51.3 119.2,-79.4 109.7,-75.2 95.4,-67.2 82.3,-58.8 67.5,-48.4 59.1,-44 38.9,-30.9 21.7,-20.3 13.9,-14.4 11.5,-12.3 6.2,-6.7 2,-1.7 0.2,0.1" fill="url(#jza)" stroke="#001" stroke-opacity="0.20" stroke-width="0.3"/><polygon transform="translate(75,145.3)" points="-0.2,-0.6 1.6,-2.4 5.7,-7.5 11.1,-13.1 13.5,-15.2 21.2,-21.1 38.4,-31.7 58.7,-44.7 67,-49.2 81.9,-59.5 95,-67.9 109.2,-76 118.8,-80.2 119.2,-65.6 109.7,-61.6 95.4,-54.7 82.3,-47.6 67.5,-39.1 59.1,-35.2 38.9,-24.3 21.7,-15.4 11.5,-9 6.2,-4.8 0.2,0.3" fill="url(#jza)" stroke="#001" stroke-opacity="0.20" stroke-width="0.3"/><polyline transform="translate(75,145.3)" points="-0.2,-0.6 1.6,-2.4 5.7,-7.5 11.1,-13.1 13.5,-15.2 21.2,-21.1 38.4,-31.7 58.7,-44.7 67,-49.2 81.9,-59.5 95,-67.9 109.2,-76 118.8,-80.2" fill="none" stroke="#000820" stroke-opacity="0.55" stroke-width="0.45"/><polygon transform="translate(75.4,145.6)" points="-0.2,-0.4 5.7,-5.5 11.1,-9.7 21.2,-16.1 38.4,-25.1 58.7,-36 67,-39.9 81.9,-48.4 95,-55.4 109.2,-62.4 118.8,-66.3 119.2,-51.7 109.7,-48 95.4,-42.1 67.5,-29.8 59.1,-26.5 21.7,-10.4 11.5,-5.6 0.2,0.5" fill="url(#jza)" stroke="#001" stroke-opacity="0.20" stroke-width="0.3"/><polygon transform="translate(75.9,145.9)" points="-0.2,-0.3 11.1,-6.4 21.2,-11.1 58.7,-27.2 67,-30.6 95,-42.9 109.2,-48.8 118.8,-52.4 119.2,-44.6 16.3,-6.4 8.6,-3.3 0.2,0.5" fill="url(#jza)" stroke="#001" stroke-opacity="0.20" stroke-width="0.3"/><polygon transform="translate(76.4,146.2)" points="-0.2,-0.2 8.1,-4 15.8,-7.1 118.8,-45.4 119.2,-44.2 16.3,-6.1 8.6,-3.1 0.2,0.6" fill="url(#jza)" stroke="#001" stroke-opacity="0.20" stroke-width="0.3"/><polygon transform="translate(76.8,146.5)" points="-0.2,-0.2 8.1,-3.9 15.8,-6.9 118.8,-45 119.2,-45.8 10.3,-4.7 5,-2.3 0.2,0.4" fill="url(#jza)" stroke="#001" stroke-opacity="0.20" stroke-width="0.3"/><polygon transform="translate(77.3,146.8)" points="-0.2,-0.3 4.5,-3.1 9.9,-5.4 118.8,-46.5 119.2,-56.5 10.3,-10.6 7.4,-8.9 5,-6.8 3.8,-5.4 0.2,-0.2" fill="url(#jza)" stroke="#001" stroke-opacity="0.20" stroke-width="0.3"/><polygon transform="translate(77.8,147.1)" points="-0.2,-0.9 3.3,-6.1 4.5,-7.6 6.9,-9.7 9.9,-11.3 118.8,-57.3 119.2,-53.3 10.3,-8.8 7.4,-7.3 5,-5.5 0.2,0" fill="url(#jza)" stroke="#001" stroke-opacity="0.20" stroke-width="0.3"/><polyline transform="translate(77.8,147.1)" points="-0.2,-0.9 3.3,-6.1 4.5,-7.6 6.9,-9.7 9.9,-11.3 118.8,-57.3" fill="none" stroke="#000820" stroke-opacity="0.55" stroke-width="0.45"/><polygon transform="translate(78.2,147.4)" points="-0.2,-0.7 4.5,-6.2 6.9,-8 9.9,-9.6 118.8,-54 119.2,-50 10.3,-7 7.4,-5.6 5,-4.1 0.2,0.2" fill="url(#jza)" stroke="#001" stroke-opacity="0.20" stroke-width="0.3"/><polygon transform="translate(78.7,147.7)" points="-0.2,-0.6 4.5,-4.9 6.9,-6.4 9.9,-7.8 118.8,-50.8 119.2,-46.8 10.3,-5.2 5,-2.8 0.2,0.4" fill="url(#jza)" stroke="#001" stroke-opacity="0.20" stroke-width="0.3"/><polygon transform="translate(79.1,148)" points="-0.2,-0.4 4.5,-3.5 9.9,-6 118.8,-47.6 119.2,-43.6 10.3,-3.5 0.2,0.6" fill="url(#jza)" stroke="#001" stroke-opacity="0.20" stroke-width="0.3"/><polygon transform="translate(79.6,148.3)" points="-0.2,-0.2 9.9,-4.2 118.8,-44.3 119.2,-43.4 10.3,-3.4 0.2,0.6" fill="url(#jza)" stroke="#001" stroke-opacity="0.20" stroke-width="0.3"/><polygon transform="translate(80.1,148.6)" points="-0.2,-0.2 9.9,-4.1 118.8,-44.2 119.2,-43.3 10.3,-3.3 0.2,0.6" fill="url(#jza)" stroke="#001" stroke-opacity="0.20" stroke-width="0.3"/><polygon transform="translate(80.5,148.9)" points="-0.2,-0.2 9.9,-4.1 118.8,-44.1 119.2,-47.6 28.2,-11.5 22.2,-8.8 16.9,-5.7 0.2,0.6" fill="url(#jza)" stroke="#001" stroke-opacity="0.20" stroke-width="0.3"/><polygon transform="translate(81,149.2)" points="-0.2,-0.2 16.4,-6.4 21.8,-9.5 27.7,-12.2 118.8,-48.4 119.2,-65.5 28.2,-18.4 25.2,-16.5 22.2,-13.8 20.5,-11.6 17.5,-7 15.7,-5.2 0.2,0.6" fill="url(#jza)" stroke="#001" stroke-opacity="0.20" stroke-width="0.3"/><polygon transform="translate(81.5,149.5)" points="-0.2,-0.2 15.2,-5.9 17,-7.7 20,-12.3 21.8,-14.6 24.8,-17.3 27.7,-19.1 118.8,-66.2 119.2,-59.1 28.2,-15.9 25.2,-14.3 22.2,-12.1 20.5,-10.2 17.5,-6.6 15.7,-5.2 0.2,0.6" fill="url(#jza)" stroke="#001" stroke-opacity="0.20" stroke-width="0.3"/><polyline transform="translate(81.5,149.5)" points="-0.2,-0.2 15.2,-5.9 17,-7.7 20,-12.3 21.8,-14.6 24.8,-17.3 27.7,-19.1 118.8,-66.2" fill="none" stroke="#000820" stroke-opacity="0.55" stroke-width="0.45"/><polygon transform="translate(81.9,149.8)" points="-0.2,-0.2 15.2,-5.9 17,-7.4 20,-11 21.8,-12.8 24.8,-15 27.7,-16.7 118.8,-59.9 119.2,-52.8 28.2,-13.5 25.2,-12 22.2,-10.3 16.3,-5.4 0.2,0.6" fill="url(#jza)" stroke="#001" stroke-opacity="0.20" stroke-width="0.3"/><polygon transform="translate(82.4,150.1)" points="-0.2,-0.2 15.8,-6.2 21.8,-11 24.8,-12.8 27.7,-14.2 118.8,-53.6 119.2,-48.9 28.2,-11.9 24,-10.1 20.5,-8.1 12.1,-4.7 5.6,-1.4 0.2,0.6" fill="url(#jza)" stroke="#001" stroke-opacity="0.20" stroke-width="0.3"/><polygon transform="translate(82.8,150.4)" points="-0.2,-0.2 5.1,-2.2 11.7,-5.5 20,-8.9 23.6,-10.8 27.7,-12.7 118.8,-49.6 119.2,-53.4 18.7,-12.3 15.1,-10.5 12.1,-8.3 9.8,-6.1 6.8,-2.6 5.6,-1.6 4.4,-1 0.2,0.6" fill="url(#jza)" stroke="#001" stroke-opacity="0.20" stroke-width="0.3"/><polygon transform="translate(83.3,150.7)" points="-0.2,-0.2 3.9,-1.7 5.1,-2.4 6.3,-3.4 9.3,-6.8 11.7,-9.1 14.6,-11.2 18.2,-13.1 118.8,-54.2 119.2,-50.1 18.7,-10.4 15.1,-8.7 12.1,-6.9 5.6,-1.5 0.2,0.6" fill="url(#jza)" stroke="#001" stroke-opacity="0.20" stroke-width="0.3"/><polyline transform="translate(83.3,150.7)" points="-0.2,-0.2 3.9,-1.7 5.1,-2.4 6.3,-3.4 9.3,-6.8 11.7,-9.1 14.6,-11.2 18.2,-13.1 118.8,-54.2" fill="none" stroke="#000820" stroke-opacity="0.55" stroke-width="0.45"/><polygon transform="translate(83.8,151)" points="-0.2,-0.2 5.1,-2.3 11.7,-7.6 14.6,-9.4 18.2,-11.1 118.8,-50.8 119.2,-46.8 18.7,-8.4 12.1,-5.4 5.6,-1.4 0.2,0.6" fill="url(#jza)" stroke="#001" stroke-opacity="0.20" stroke-width="0.3"/><polygon transform="translate(84.2,151.3)" points="-0.2,-0.2 5.1,-2.2 11.7,-6.2 18.2,-9.2 118.8,-47.5 119.2,-45.1 85.3,-32.2 12.7,-5.1 6.2,-2.4 0.2,0.5" fill="url(#jza)" stroke="#001" stroke-opacity="0.20" stroke-width="0.3"/><polygon transform="translate(84.7,151.6)" points="-0.2,-0.2 5.7,-3.2 12.3,-5.9 84.9,-33 118.8,-45.8 119.2,-52.2 12.7,-9.5 9.2,-7.7 6.2,-5.7 4.4,-4.1 0.2,0.2" fill="url(#jza)" stroke="#001" stroke-opacity="0.20" stroke-width="0.3"/><polygon transform="translate(85.2,151.9)" points="-0.2,-0.6 3.9,-4.9 5.7,-6.4 8.7,-8.5 12.3,-10.3 118.8,-52.9 119.2,-50 12.7,-8.2 9.2,-6.5 6.2,-4.7 0.2,0.3" fill="url(#jza)" stroke="#001" stroke-opacity="0.20" stroke-width="0.3"/><polyline transform="translate(85.2,151.9)" points="-0.2,-0.6 3.9,-4.9 5.7,-6.4 8.7,-8.5 12.3,-10.3 118.8,-52.9" fill="none" stroke="#000820" stroke-opacity="0.55" stroke-width="0.45"/><polygon transform="translate(85.6,152.2)" points="-0.2,-0.5 5.7,-5.5 8.7,-7.3 12.3,-9 118.8,-50.7 119.2,-47.8 12.7,-6.9 9.2,-5.3 6.2,-3.7 0.2,0.4" fill="url(#jza)" stroke="#001" stroke-opacity="0.20" stroke-width="0.3"/><polygon transform="translate(86.1,152.5)" points="-0.2,-0.4 5.7,-4.5 8.7,-6.1 12.3,-7.6 118.8,-48.5 119.2,-45.6 12.7,-5.6 6.2,-2.8 0.2,0.5" fill="url(#jza)" stroke="#001" stroke-opacity="0.20" stroke-width="0.3"/><polygon transform="translate(86.6,152.8)" points="-0.2,-0.3 5.7,-3.5 12.3,-6.3 118.8,-46.3 119.2,-43.5 12.1,-4 0.2,0.6" fill="url(#jza)" stroke="#001" stroke-opacity="0.20" stroke-width="0.3"/><polygon transform="translate(87,153.1)" points="-0.2,-0.2 11.7,-4.8 118.8,-44.3 119.2,-44.6 12.7,-4.9 6.2,-2.2 0.2,0.5" fill="url(#jza)" stroke="#001" stroke-opacity="0.20" stroke-width="0.3"/><polygon transform="translate(87.5,153.5)" points="-0.2,-0.2 5.7,-3 12.3,-5.6 118.8,-45.3 119.2,-50.9 12.7,-8.3 9.2,-6.6 6.2,-4.8 0.2,0.3" fill="url(#jza)" stroke="#001" stroke-opacity="0.20" stroke-width="0.3"/><polygon transform="translate(87.9,153.8)" points="-0.2,-0.5 5.7,-5.5 8.7,-7.4 12.3,-9.1 118.8,-51.7 119.2,-49 12.7,-7.3 9.2,-5.7 6.2,-4 0.2,0.3" fill="url(#jza)" stroke="#001" stroke-opacity="0.20" stroke-width="0.3"/><polygon transform="translate(88.4,154.1)" points="-0.2,-0.4 5.7,-4.8 8.7,-6.4 12.3,-8 118.8,-49.8 119.2,-47.1 12.7,-6.2 6.2,-3.3 0.2,0.4" fill="url(#jza)" stroke="#001" stroke-opacity="0.20" stroke-width="0.3"/><polygon transform="translate(88.9,154.4)" points="-0.2,-0.3 5.7,-4 12.3,-7 118.8,-47.9 119.2,-45.2 12.7,-5.2 6.2,-2.5 0.2,0.5" fill="url(#jza)" stroke="#001" stroke-opacity="0.20" stroke-width="0.3"/><polygon transform="translate(89.3,154.7)" points="-0.2,-0.2 5.7,-3.2 12.3,-6 118.8,-46 119.2,-43.3 12.7,-4.2 0.2,0.6" fill="url(#jza)" stroke="#001" stroke-opacity="0.20" stroke-width="0.3"/><polygon transform="translate(89.8,155)" points="-0.2,-0.2 12.3,-4.9 118.8,-44.1 119.2,-46.6 12.7,-5.8 6.2,-2.9 0.2,0.5" fill="url(#jza)" stroke="#001" stroke-opacity="0.20" stroke-width="0.3"/><polygon transform="translate(90.3,155.3)" points="-0.2,-0.3 5.7,-3.7 12.3,-6.5 118.8,-47.3 119.2,-60.5 12.7,-12.7 9.2,-10.6 6.2,-8 4.4,-5.9 0.2,-0.1" fill="url(#jza)" stroke="#001" stroke-opacity="0.20" stroke-width="0.3"/><polygon transform="translate(90.7,155.6)" points="-0.2,-0.8 3.9,-6.7 5.7,-8.7 8.7,-11.3 12.3,-13.4 118.8,-61.3 119.2,-54.9 12.7,-9.9 9.2,-8 6.2,-5.9 4.4,-4.3 0.2,0.1" fill="url(#jza)" stroke="#001" stroke-opacity="0.20" stroke-width="0.3"/><polyline transform="translate(90.7,155.6)" points="-0.2,-0.8 3.9,-6.7 5.7,-8.7 8.7,-11.3 12.3,-13.4 118.8,-61.3" fill="none" stroke="#000820" stroke-opacity="0.55" stroke-width="0.45"/><polygon transform="translate(91.2,155.9)" points="-0.2,-0.6 3.9,-5.1 5.7,-6.7 8.7,-8.8 12.3,-10.6 118.8,-55.6 119.2,-49.2 12.7,-7.1 9.2,-5.5 6.2,-3.9 0.2,0.4" fill="url(#jza)" stroke="#001" stroke-opacity="0.20" stroke-width="0.3"/><polygon transform="translate(91.7,156.2)" points="-0.2,-0.4 5.7,-4.6 8.7,-6.3 12.3,-7.8 118.8,-50 119.2,-46 12.7,-5.5 6.2,-2.7 0.2,0.5" fill="url(#jza)" stroke="#001" stroke-opacity="0.20" stroke-width="0.3"/><polygon transform="translate(92.1,156.5)" points="-0.2,-0.3 5.7,-3.5 12.3,-6.3 118.8,-46.8 119.2,-45.3 12.7,-5.2 6.2,-2.5 0.2,0.5" fill="url(#jza)" stroke="#001" stroke-opacity="0.20" stroke-width="0.3"/><polygon transform="translate(92.6,156.8)" points="-0.2,-0.2 5.7,-3.2 12.3,-5.9 118.8,-46.1 119.2,-46.5 12.7,-5.7 6.2,-2.8 0.2,0.5" fill="url(#jza)" stroke="#001" stroke-opacity="0.20" stroke-width="0.3"/><polygon transform="translate(93,157.1)" points="-0.2,-0.3 5.7,-3.6 12.3,-6.4 118.8,-47.2 119.2,-59.9 12.7,-12 9.2,-10 6.2,-7.5 4.4,-5.6 0.2,0" fill="url(#jza)" stroke="#001" stroke-opacity="0.20" stroke-width="0.3"/><polygon transform="translate(93.5,157.4)" points="-0.2,-0.8 3.9,-6.3 5.7,-8.3 8.7,-10.7 12.3,-12.8 118.8,-60.7 119.2,-53.4 12.7,-9 9.2,-7.2 6.2,-5.3 4.4,-3.8 0.2,0.2" fill="url(#jza)" stroke="#001" stroke-opacity="0.20" stroke-width="0.3"/><polyline transform="translate(93.5,157.4)" points="-0.2,-0.8 3.9,-6.3 5.7,-8.3 8.7,-10.7 12.3,-12.8 118.8,-60.7" fill="none" stroke="#000820" stroke-opacity="0.55" stroke-width="0.45"/><polygon transform="translate(94,157.7)" points="-0.2,-0.5 3.9,-4.6 5.7,-6 8.7,-8 12.3,-9.7 118.8,-54.2 119.2,-47 12.7,-5.9 6.2,-3 0.2,0.4" fill="url(#jza)" stroke="#001" stroke-opacity="0.20" stroke-width="0.3"/><polygon transform="translate(94.4,158)" points="-0.2,-0.3 5.7,-3.8 12.3,-6.7 118.8,-47.7 119.2,-43.6 12.7,-4.3 0.2,0.6" fill="url(#jza)" stroke="#001" stroke-opacity="0.20" stroke-width="0.3"/><polygon transform="translate(94.9,158.3)" points="-0.2,-0.2 12.3,-5.1 118.8,-44.4 119.2,-46.1 117.4,-45.4 116.9,-44.7 116.3,-44.5 115.7,-44.7 114.5,-44.3 113.9,-43.6 113.3,-43.4 112.7,-43.6 111.5,-43.2 110.9,-42.5 110.3,-42.3 109.7,-42.5 108.5,-42.1 107.9,-41.4 107.3,-41.2 106.7,-41.4 105.5,-40.9 105,-40.3 104.4,-40.1 103.8,-40.3 102.6,-39.8 102,-39.2 101.4,-38.9 100.8,-39.1 99.6,-38.7 99,-38.1 98.4,-37.8 97.8,-38 96.6,-37.6 96,-36.9 95.4,-36.7 94.8,-36.9 93.6,-36.5 93.1,-35.8 92.5,-35.6 91.9,-35.8 90.7,-35.3 90.1,-34.7 89.5,-34.5 88.9,-34.7 87.7,-34.2 87.1,-33.6 86.5,-33.4 85.9,-33.5 84.7,-33.1 84.1,-32.5 83.5,-32.3 82.9,-32.4 81.7,-32 81.2,-31.4 80.6,-31.1 80,-31.3 78.8,-30.8 78.2,-30.2 77.6,-30 77,-30.2 75.8,-29.7 75.2,-29.1 74.6,-28.9 74,-29 72.8,-28.6 72.2,-28 71.6,-27.8 71,-27.9 69.8,-27.5 69.3,-26.9 68.7,-26.6 68.1,-26.8 66.9,-26.3 66.3,-25.7 65.7,-25.5 65.1,-25.6 63.9,-25.2 63.3,-24.6 62.7,-24.4 62.1,-24.5 60.9,-24.1 60.3,-23.5 59.7,-23.3 59.1,-23.4 57.9,-22.9 57.4,-22.4 56.8,-22.1 56.2,-22.3 55,-21.8 54.4,-21.3 53.8,-21 53.2,-21.1 52,-20.7 51.4,-20.1 50.8,-19.9 50.2,-20 49,-19.6 48.4,-19 47.8,-18.8 47.2,-18.9 46,-18.4 45.5,-17.9 44.9,-17.7 44.3,-17.7 43.1,-17.3 42.5,-16.8 41.9,-16.5 41.3,-16.6 40.1,-16.2 39.5,-15.6 38.9,-15.4 38.3,-15.5 37.1,-15 36.5,-14.5 35.9,-14.3 35.3,-14.3 34.1,-13.9 33.6,-13.4 33,-13.1 32.4,-13.2 31.2,-12.7 30.6,-12.2 30,-12 29.4,-12.1 28.2,-11.6 27.6,-11.1 27,-10.9 26.4,-10.9 25.2,-10.5 24.6,-10 24,-9.7 23.4,-9.8 22.2,-9.3 21.7,-8.8 19.3,-8.2 18.7,-7.7 18.1,-7.7 10.9,-4.7 0.2,0.5" fill="url(#jza)" stroke="#001" stroke-opacity="0.20" stroke-width="0.3"/><polygon transform="translate(95.4,158.6)" points="-0.2,-0.2 10.5,-5.5 17.6,-8.5 18.2,-8.5 18.8,-8.9 21.2,-9.6 21.8,-10.1 23,-10.5 23.6,-10.5 24.2,-10.7 24.8,-11.2 25.9,-11.7 26.5,-11.6 27.1,-11.9 27.7,-12.4 28.9,-12.8 29.5,-12.8 30.1,-13 30.7,-13.5 31.9,-14 32.5,-13.9 33.1,-14.1 33.7,-14.6 34.9,-15.1 35.5,-15 36.1,-15.2 36.7,-15.8 37.8,-16.2 38.4,-16.2 39,-16.4 39.6,-16.9 40.8,-17.4 41.4,-17.3 42,-17.5 42.6,-18 43.8,-18.5 44.4,-18.4 45,-18.6 45.6,-19.2 46.8,-19.6 47.4,-19.5 48,-19.8 48.6,-20.3 49.7,-20.8 50.3,-20.7 50.9,-20.9 51.5,-21.4 52.7,-21.9 53.3,-21.8 53.9,-22 54.5,-22.6 55.7,-23 56.3,-22.9 56.9,-23.1 57.5,-23.7 58.7,-24.1 59.3,-24 59.9,-24.2 60.5,-24.8 61.6,-25.3 62.2,-25.1 62.8,-25.4 63.4,-25.9 64.6,-26.4 65.2,-26.3 65.8,-26.5 66.4,-27.1 67.6,-27.5 68.2,-27.4 68.8,-27.6 69.4,-28.2 70.6,-28.7 71.2,-28.5 71.8,-28.7 72.4,-29.3 73.5,-29.8 74.1,-29.6 74.7,-29.9 75.3,-30.5 76.5,-30.9 77.1,-30.8 77.7,-31 78.3,-31.6 79.5,-32 80.1,-31.9 80.7,-32.1 81.3,-32.7 82.5,-33.2 83.1,-33 83.7,-33.2 84.3,-33.8 85.4,-34.3 86,-34.1 86.6,-34.3 87.2,-35 88.4,-35.4 89,-35.2 89.6,-35.5 90.2,-36.1 91.4,-36.5 92,-36.4 92.6,-36.6 93.2,-37.2 94.4,-37.7 95,-37.5 95.6,-37.7 96.2,-38.3 97.3,-38.8 97.9,-38.6 98.5,-38.8 99.1,-39.4 100.3,-39.9 100.9,-39.7 101.5,-39.9 102.1,-40.6 103.3,-41 103.9,-40.8 104.5,-41 105.1,-41.7 106.3,-42.1 106.9,-41.9 107.5,-42.2 108.1,-42.8 109.2,-43.3 109.8,-43 110.4,-43.3 111,-43.9 112.2,-44.4 112.8,-44.2 113.4,-44.4 114,-45 115.2,-45.5 115.8,-45.3 116.4,-45.5 117,-46.2 118.8,-46.8 119.2,-58.1 117.4,-57.3 116.9,-55 116.3,-54.7 115.7,-56.6 114.5,-56.1 113.9,-53.8 113.3,-53.5 112.7,-55.4 111.5,-54.9 110.9,-52.5 110.3,-52.3 109.7,-54.1 108.5,-53.6 107.9,-51.3 107.3,-51.1 106.7,-52.9 105.5,-52.4 105,-50.1 104.4,-49.9 103.8,-51.6 102.6,-51.1 102,-48.9 101.4,-48.6 100.8,-50.4 99.6,-49.9 99,-47.7 98.4,-47.4 97.8,-49.1 96.6,-48.6 96,-46.4 95.4,-46.2 94.8,-47.9 93.6,-47.4 93.1,-45.2 92.5,-45 91.9,-46.7 90.7,-46.2 90.1,-44 89.5,-43.8 88.9,-45.4 87.7,-44.9 87.1,-42.8 86.5,-42.5 85.9,-44.2 84.7,-43.7 84.1,-41.6 83.5,-41.3 82.9,-42.9 81.7,-42.4 81.2,-40.3 80.6,-40.1 80,-41.6 78.8,-41.1 78.2,-39.1 77.6,-38.8 77,-40.4 75.8,-39.8 75.2,-37.8 74.6,-37.6 74,-39.1 72.8,-38.6 72.2,-36.5 71.6,-36.3 71,-37.8 69.8,-37.3 69.3,-35.3 68.7,-35 68.1,-36.5 66.9,-36 66.3,-34 65.7,-33.8 65.1,-35.2 63.9,-34.7 63.3,-32.8 62.7,-32.5 62.1,-34 60.9,-33.4 60.3,-31.5 59.7,-31.3 59.1,-32.7 57.9,-32.2 57.4,-30.3 56.8,-30 56.2,-31.4 55,-30.9 54.4,-29 53.8,-28.8 53.2,-30.1 52,-29.6 51.4,-27.8 50.8,-27.5 50.2,-28.8 49,-28.3 48.4,-26.5 47.8,-26.3 47.2,-27.5 46,-27 45.5,-25.3 44.9,-25 44.3,-26.2 43.1,-25.7 42.5,-24 41.9,-23.7 41.3,-24.9 40.1,-24.4 39.5,-22.7 38.9,-22.4 38.3,-23.6 37.1,-23.1 36.5,-21.4 35.9,-21.1 35.3,-22.3 34.1,-21.7 33.6,-20.1 33,-19.8 32.4,-21 31.2,-20.4 30.6,-18.8 30,-18.5 29.4,-19.6 28.2,-19.1 27.6,-17.5 27,-17.3 26.4,-18.3 25.2,-17.8 24.6,-16.2 24,-16 23.4,-17 22.2,-16.5 21.7,-14.9 21.1,-14.7 20.5,-15.7 19.3,-15.1 18.7,-13.6 18.1,-14.5 12.7,-11.3 10.9,-9.9 2,-1.2 0.2,0.3" fill="url(#jza)" stroke="#001" stroke-opacity="0.20" stroke-width="0.3"/><polygon transform="translate(95.8,158.9)" points="-0.2,-0.5 1.6,-2 10.5,-10.7 12.3,-12 17.6,-15.3 18.2,-14.4 18.8,-15.9 20,-16.4 20.6,-15.4 21.2,-15.7 21.8,-17.2 23,-17.7 23.6,-16.7 24.2,-17 24.8,-18.5 25.9,-19.1 26.5,-18 27.1,-18.3 27.7,-19.9 28.9,-20.4 29.5,-19.3 30.1,-19.6 30.7,-21.2 31.9,-21.7 32.5,-20.6 33.1,-20.9 33.7,-22.5 34.9,-23 35.5,-21.9 36.1,-22.1 36.7,-23.8 37.8,-24.4 38.4,-23.2 39,-23.4 39.6,-25.1 40.8,-25.7 41.4,-24.5 42,-24.7 42.6,-26.5 43.8,-27 44.4,-25.8 45,-26 45.6,-27.8 46.8,-28.3 47.4,-27 48,-27.3 48.6,-29.1 49.7,-29.6 50.3,-28.3 50.9,-28.5 51.5,-30.4 52.7,-30.9 53.3,-29.5 53.9,-29.8 54.5,-31.6 55.7,-32.1 56.3,-30.8 56.9,-31 57.5,-32.9 58.7,-33.4 59.3,-32 59.9,-32.3 60.5,-34.2 61.6,-34.7 62.2,-33.3 62.8,-33.5 63.4,-35.5 64.6,-36 65.2,-34.5 65.8,-34.8 66.4,-36.8 67.6,-37.3 68.2,-35.8 68.8,-36 69.4,-38 70.6,-38.6 71.2,-37 71.8,-37.3 72.4,-39.3 73.5,-39.8 74.1,-38.3 74.7,-38.6 75.3,-40.6 76.5,-41.1 77.1,-39.6 77.7,-39.8 78.3,-41.9 79.5,-42.4 80.1,-40.8 80.7,-41.1 81.3,-43.2 82.5,-43.7 83.1,-42.1 83.7,-42.3 84.3,-44.4 85.4,-44.9 86,-43.3 86.6,-43.5 87.2,-45.7 88.4,-46.2 89,-44.5 89.6,-44.8 90.2,-46.9 91.4,-47.4 92,-45.7 92.6,-46 93.2,-48.2 94.4,-48.7 95,-46.9 95.6,-47.2 96.2,-49.4 97.3,-49.9 97.9,-48.2 98.5,-48.4 99.1,-50.6 100.3,-51.1 100.9,-49.4 101.5,-49.6 102.1,-51.9 103.3,-52.4 103.9,-50.6 104.5,-50.9 105.1,-53.1 106.3,-53.6 106.9,-51.8 107.5,-52.1 108.1,-54.4 109.2,-54.9 109.8,-53.1 110.4,-53.3 111,-55.6 112.2,-56.1 112.8,-54.3 113.4,-54.5 114,-56.9 115.2,-57.4 115.8,-55.5 116.4,-55.7 117,-58.1 118.8,-58.8 119.2,-54.5 117.4,-53.8 116.9,-51.9 116.3,-51.7 115.7,-53 114.5,-52.6 113.9,-50.7 113.3,-50.5 112.7,-51.8 111.5,-51.3 110.9,-49.5 110.3,-49.3 109.7,-50.6 108.5,-50.1 107.9,-48.3 107.3,-48.1 106.7,-49.4 105.5,-48.9 105,-47.2 104.4,-46.9 103.8,-48.2 102.6,-47.7 102,-46 101.4,-45.7 100.8,-47 99.6,-46.5 99,-44.8 98.4,-44.5 97.8,-45.8 96.6,-45.3 96,-43.6 95.4,-43.3 94.8,-44.6 93.6,-44.1 93.1,-42.4 92.5,-42.2 91.9,-43.4 90.7,-42.9 90.1,-41.2 89.5,-41 88.9,-42.2 87.7,-41.7 87.1,-40 86.5,-39.8 85.9,-41 84.7,-40.5 84.1,-38.8 83.5,-38.6 82.9,-39.8 81.7,-39.3 81.2,-37.6 80.6,-37.4 80,-38.5 78.8,-38 78.2,-36.4 77.6,-36.2 77,-37.3 75.8,-36.8 75.2,-35.2 74.6,-34.9 74,-36.1 72.8,-35.6 72.2,-34 71.6,-33.7 71,-34.8 69.8,-34.3 69.3,-32.8 68.7,-32.5 68.1,-33.6 66.9,-33.1 66.3,-31.5 65.7,-31.3 65.1,-32.4 63.9,-31.9 63.3,-30.3 62.7,-30.1 62.1,-31.1 60.9,-30.6 60.3,-29.1 59.7,-28.9 59.1,-29.9 57.9,-29.4 57.4,-27.9 56.8,-27.7 56.2,-28.6 55,-28.2 54.4,-26.7 53.8,-26.4 53.2,-27.4 52,-26.9 51.4,-25.5 50.8,-25.2 50.2,-26.2 49,-25.7 48.4,-24.3 47.8,-24 47.2,-24.9 46,-24.4 45.5,-23 44.9,-22.8 44.3,-23.7 43.1,-23.2 42.5,-21.8 41.9,-21.6 41.3,-22.4 40.1,-21.9 39.5,-20.6 38.9,-20.3 38.3,-21.2 37.1,-20.7 36.5,-19.3 35.9,-19.1 35.3,-19.9 34.1,-19.4 33.6,-18.1 33,-17.8 32.4,-18.6 31.2,-18.1 30.6,-16.8 30,-16.6 29.4,-17.4 28.2,-16.9 27.6,-15.6 27,-15.3 26.4,-16.1 25.2,-15.6 24.6,-14.3 24,-14.1 23.4,-14.8 22.2,-14.3 21.7,-13.1 21.1,-12.9 20.5,-13.6 19.3,-13 18.7,-11.8 18.1,-12.5 10.9,-8.4 2,-0.9 0.2,0.3" fill="url(#jza)" stroke="#001" stroke-opacity="0.20" stroke-width="0.3"/><polyline transform="translate(95.8,158.9)" points="-0.2,-0.5 1.6,-2 10.5,-10.7 12.3,-12 17.6,-15.3 18.2,-14.4 18.8,-15.9 20,-16.4 20.6,-15.4 21.2,-15.7 21.8,-17.2 23,-17.7 23.6,-16.7 24.2,-17 24.8,-18.5 25.9,-19.1 26.5,-18 27.1,-18.3 27.7,-19.9 28.9,-20.4 29.5,-19.3 30.1,-19.6 30.7,-21.2 31.9,-21.7 32.5,-20.6 33.1,-20.9 33.7,-22.5 34.9,-23 35.5,-21.9 36.1,-22.1 36.7,-23.8 37.8,-24.4 38.4,-23.2 39,-23.4 39.6,-25.1 40.8,-25.7 41.4,-24.5 42,-24.7 42.6,-26.5 43.8,-27 44.4,-25.8 45,-26 45.6,-27.8 46.8,-28.3 47.4,-27 48,-27.3 48.6,-29.1 49.7,-29.6 50.3,-28.3 50.9,-28.5 51.5,-30.4 52.7,-30.9 53.3,-29.5 53.9,-29.8 54.5,-31.6 55.7,-32.1 56.3,-30.8 56.9,-31 57.5,-32.9 58.7,-33.4 59.3,-32 59.9,-32.3 60.5,-34.2 61.6,-34.7 62.2,-33.3 62.8,-33.5 63.4,-35.5 64.6,-36 65.2,-34.5 65.8,-34.8 66.4,-36.8 67.6,-37.3 68.2,-35.8 68.8,-36 69.4,-38 70.6,-38.6 71.2,-37 71.8,-37.3 72.4,-39.3 73.5,-39.8 74.1,-38.3 74.7,-38.6 75.3,-40.6 76.5,-41.1 77.1,-39.6 77.7,-39.8 78.3,-41.9 79.5,-42.4 80.1,-40.8 80.7,-41.1 81.3,-43.2 82.5,-43.7 83.1,-42.1 83.7,-42.3 84.3,-44.4 85.4,-44.9 86,-43.3 86.6,-43.5 87.2,-45.7 88.4,-46.2 89,-44.5 89.6,-44.8 90.2,-46.9 91.4,-47.4 92,-45.7 92.6,-46 93.2,-48.2 94.4,-48.7 95,-46.9 95.6,-47.2 96.2,-49.4 97.3,-49.9 97.9,-48.2 98.5,-48.4 99.1,-50.6 100.3,-51.1 100.9,-49.4 101.5,-49.6 102.1,-51.9 103.3,-52.4 103.9,-50.6 104.5,-50.9 105.1,-53.1 106.3,-53.6 106.9,-51.8 107.5,-52.1 108.1,-54.4 109.2,-54.9 109.8,-53.1 110.4,-53.3 111,-55.6 112.2,-56.1 112.8,-54.3 113.4,-54.5 114,-56.9 115.2,-57.4 115.8,-55.5 116.4,-55.7 117,-58.1 118.8,-58.8" fill="none" stroke="#000820" stroke-opacity="0.55" stroke-width="0.45"/><polygon transform="translate(96.3,159.2)" points="-0.2,-0.4 1.6,-1.7 10.5,-9.1 17.6,-13.2 18.2,-12.6 18.8,-13.8 20,-14.3 20.6,-13.6 21.2,-13.9 21.8,-15.1 23,-15.6 23.6,-14.9 24.2,-15.1 24.8,-16.3 25.9,-16.8 26.5,-16.1 27.1,-16.3 27.7,-17.6 28.9,-18.1 29.5,-17.3 30.1,-17.6 30.7,-18.9 31.9,-19.4 32.5,-18.6 33.1,-18.8 33.7,-20.1 34.9,-20.6 35.5,-19.8 36.1,-20.1 36.7,-21.4 37.8,-21.9 38.4,-21.1 39,-21.3 39.6,-22.7 40.8,-23.2 41.4,-22.3 42,-22.6 42.6,-23.9 43.8,-24.4 44.4,-23.5 45,-23.8 45.6,-25.2 46.8,-25.7 47.4,-24.8 48,-25 48.6,-26.4 49.7,-26.9 50.3,-26 50.9,-26.2 51.5,-27.7 52.7,-28.2 53.3,-27.2 53.9,-27.4 54.5,-28.9 55.7,-29.4 56.3,-28.4 56.9,-28.7 57.5,-30.1 58.7,-30.6 59.3,-29.6 59.9,-29.9 60.5,-31.4 61.6,-31.9 62.2,-30.8 62.8,-31.1 63.4,-32.6 64.6,-33.1 65.2,-32.1 65.8,-32.3 66.4,-33.8 67.6,-34.3 68.2,-33.3 68.8,-33.5 69.4,-35.1 70.6,-35.6 71.2,-34.5 71.8,-34.7 72.4,-36.3 73.5,-36.8 74.1,-35.7 74.7,-35.9 75.3,-37.6 76.5,-38 77.1,-36.9 77.7,-37.2 78.3,-38.8 79.5,-39.3 80.1,-38.1 80.7,-38.4 81.3,-40 82.5,-40.5 83.1,-39.3 83.7,-39.6 84.3,-41.2 85.4,-41.7 86,-40.5 86.6,-40.8 87.2,-42.5 88.4,-42.9 89,-41.7 89.6,-42 90.2,-43.7 91.4,-44.1 92,-42.9 92.6,-43.1 93.2,-44.9 94.4,-45.3 95,-44.1 95.6,-44.3 96.2,-46.1 97.3,-46.6 97.9,-45.3 98.5,-45.5 99.1,-47.3 100.3,-47.8 100.9,-46.5 101.5,-46.7 102.1,-48.5 103.3,-49 103.9,-47.7 104.5,-47.9 105.1,-49.7 106.3,-50.2 106.9,-48.9 107.5,-49.1 108.1,-50.9 109.2,-51.4 109.8,-50 110.4,-50.3 111,-52.1 112.2,-52.6 112.8,-51.2 113.4,-51.5 114,-53.3 115.2,-53.8 115.8,-52.4 116.4,-52.7 117,-54.5 118.8,-55.2 119.2,-50.9 117.4,-50.2 116.9,-48.8 116.3,-48.6 115.7,-49.5 114.5,-49 113.9,-47.7 113.3,-47.4 112.7,-48.3 111.5,-47.8 110.9,-46.5 110.3,-46.3 109.7,-47.1 108.5,-46.7 107.9,-45.4 107.3,-45.1 106.7,-46 105.5,-45.5 105,-44.2 104.4,-44 103.8,-44.8 102.6,-44.3 102,-43 101.4,-42.8 100.8,-43.6 99.6,-43.2 99,-41.9 98.4,-41.7 97.8,-42.5 96.6,-42 96,-40.7 95.4,-40.5 94.8,-41.3 93.6,-40.8 93.1,-39.6 92.5,-39.3 91.9,-40.1 90.7,-39.7 90.1,-38.4 89.5,-38.2 88.9,-39 87.7,-38.5 87.1,-37.3 86.5,-37 85.9,-37.8 84.7,-37.3 84.1,-36.1 83.5,-35.9 82.9,-36.6 81.7,-36.1 81.2,-34.9 80.6,-34.7 80,-35.4 78.8,-34.9 78.2,-33.8 77.6,-33.5 77,-34.2 75.8,-33.8 75.2,-32.6 74.6,-32.3 74,-33 72.8,-32.6 72.2,-31.4 71.6,-31.2 71,-31.9 69.8,-31.4 69.3,-30.2 68.7,-30 68.1,-30.7 66.9,-30.2 66.3,-29.1 65.7,-28.8 65.1,-29.5 63.9,-29 63.3,-27.9 62.7,-27.6 62.1,-28.3 60.9,-27.8 60.3,-26.7 59.7,-26.5 59.1,-27.1 57.9,-26.6 57.4,-25.5 56.8,-25.3 56.2,-25.9 55,-25.4 54.4,-24.4 53.8,-24.1 53.2,-24.7 52,-24.2 51.4,-23.2 50.8,-22.9 50.2,-23.5 49,-23.1 48.4,-22 47.8,-21.8 47.2,-22.3 46,-21.9 45.5,-20.8 44.9,-20.6 44.3,-21.1 43.1,-20.7 42.5,-19.6 41.9,-19.4 41.3,-19.9 40.1,-19.4 39.5,-18.4 38.9,-18.2 38.3,-18.7 37.1,-18.2 36.5,-17.2 35.9,-17 35.3,-17.5 34.1,-17 33.6,-16.1 33,-15.8 32.4,-16.3 31.2,-15.8 30.6,-14.9 30,-14.6 29.4,-15.1 28.2,-14.6 27.6,-13.7 27,-13.4 26.4,-13.9 25.2,-13.4 24.6,-12.5 24,-12.2 23.4,-12.7 22.2,-12.2 21.7,-11.3 21.1,-11 20.5,-11.4 19.3,-11 18.7,-10.1 18.1,-10.4 10.9,-6.8 0.2,0.4" fill="url(#jza)" stroke="#001" stroke-opacity="0.20" stroke-width="0.3"/><polygon transform="translate(96.7,159.5)" points="-0.2,-0.3 10.5,-7.5 17.6,-11.2 18.2,-10.8 18.8,-11.7 20,-12.2 20.6,-11.8 21.2,-12 21.8,-12.9 23,-13.4 23.6,-13 24.2,-13.2 24.8,-14.1 25.9,-14.6 26.5,-14.2 27.1,-14.4 27.7,-15.4 28.9,-15.8 29.5,-15.4 30.1,-15.6 30.7,-16.6 31.9,-17 32.5,-16.6 33.1,-16.8 33.7,-17.8 34.9,-18.3 35.5,-17.8 36.1,-18 36.7,-19 37.8,-19.5 38.4,-19 39,-19.2 39.6,-20.2 40.8,-20.7 41.4,-20.1 42,-20.4 42.6,-21.4 43.8,-21.9 44.4,-21.3 45,-21.6 45.6,-22.6 46.8,-23.1 47.4,-22.5 48,-22.8 48.6,-23.8 49.7,-24.3 50.3,-23.7 50.9,-23.9 51.5,-25 52.7,-25.5 53.3,-24.9 53.9,-25.1 54.5,-26.2 55.7,-26.7 56.3,-26 56.9,-26.3 57.5,-27.4 58.7,-27.8 59.3,-27.2 59.9,-27.5 60.5,-28.6 61.6,-29 62.2,-28.4 62.8,-28.6 63.4,-29.8 64.6,-30.2 65.2,-29.6 65.8,-29.8 66.4,-30.9 67.6,-31.4 68.2,-30.7 68.8,-31 69.4,-32.1 70.6,-32.6 71.2,-31.9 71.8,-32.2 72.4,-33.3 73.5,-33.8 74.1,-33.1 74.7,-33.3 75.3,-34.5 76.5,-35 77.1,-34.3 77.7,-34.5 78.3,-35.7 79.5,-36.2 80.1,-35.4 80.7,-35.7 81.3,-36.9 82.5,-37.4 83.1,-36.6 83.7,-36.8 84.3,-38.1 85.4,-38.5 86,-37.8 86.6,-38 87.2,-39.2 88.4,-39.7 89,-38.9 89.6,-39.2 90.2,-40.4 91.4,-40.9 92,-40.1 92.6,-40.3 93.2,-41.6 94.4,-42 95,-41.2 95.6,-41.5 96.2,-42.7 97.3,-43.2 97.9,-42.4 98.5,-42.6 99.1,-43.9 100.3,-44.4 100.9,-43.6 101.5,-43.8 102.1,-45.1 103.3,-45.5 103.9,-44.7 104.5,-45 105.1,-46.2 106.3,-46.7 106.9,-45.9 107.5,-46.1 108.1,-47.4 109.2,-47.9 109.8,-47 110.4,-47.3 111,-48.6 112.2,-49.1 112.8,-48.2 113.4,-48.4 114,-49.8 115.2,-50.2 115.8,-49.4 116.4,-49.6 117,-50.9 118.8,-51.6 119.2,-47.3 117.4,-46.6 116.9,-45.8 116.3,-45.5 115.7,-45.9 114.5,-45.5 113.9,-44.6 113.3,-44.4 112.7,-44.8 111.5,-44.3 110.9,-43.5 110.3,-43.3 109.7,-43.6 108.5,-43.2 107.9,-42.4 107.3,-42.2 106.7,-42.5 105.5,-42.1 105,-41.3 104.4,-41 103.8,-41.4 102.6,-40.9 102,-40.1 101.4,-39.9 100.8,-40.2 99.6,-39.8 99,-39 98.4,-38.8 97.8,-39.1 96.6,-38.7 96,-37.9 95.4,-37.6 94.8,-38 93.6,-37.5 93.1,-36.7 92.5,-36.5 91.9,-36.9 90.7,-36.4 90.1,-35.6 89.5,-35.4 88.9,-35.7 87.7,-35.3 87.1,-34.5 86.5,-34.3 85.9,-34.6 84.7,-34.1 84.1,-33.4 83.5,-33.1 82.9,-33.5 81.7,-33 81.2,-32.2 80.6,-32 80,-32.3 78.8,-31.9 78.2,-31.1 77.6,-30.9 77,-31.2 75.8,-30.7 75.2,-30 74.6,-29.7 74,-30 72.8,-29.6 72.2,-28.8 71.6,-28.6 71,-28.9 69.8,-28.4 69.3,-27.7 68.7,-27.5 68.1,-27.7 66.9,-27.3 66.3,-26.6 65.7,-26.3 65.1,-26.6 63.9,-26.1 63.3,-25.4 62.7,-25.2 62.1,-25.4 60.9,-25 60.3,-24.3 59.7,-24.1 59.1,-24.3 57.9,-23.8 57.4,-23.2 56.8,-22.9 56.2,-23.2 55,-22.7 54.4,-22 53.8,-21.8 53.2,-22 52,-21.6 51.4,-20.9 50.8,-20.7 50.2,-20.9 49,-20.4 48.4,-19.7 47.8,-19.5 47.2,-19.7 46,-19.3 45.5,-18.6 44.9,-18.4 44.3,-18.6 43.1,-18.1 42.5,-17.5 41.9,-17.2 41.3,-17.4 40.1,-17 39.5,-16.3 38.9,-16.1 38.3,-16.3 37.1,-15.8 36.5,-15.2 35.9,-14.9 35.3,-15.1 34.1,-14.7 33.6,-14 33,-13.8 32.4,-14 31.2,-13.5 30.6,-12.9 30,-12.7 29.4,-12.8 28.2,-12.3 27.6,-11.7 27,-11.5 26.4,-11.7 25.2,-11.2 24.6,-10.6 24,-10.4 23.4,-10.5 22.2,-10 21.7,-9.4 21.1,-9.2 20.5,-9.3 19.3,-8.9 18.7,-8.3 18.1,-8.4 10.9,-5.2 0.2,0.5" fill="url(#jza)" stroke="#001" stroke-opacity="0.20" stroke-width="0.3"/><polygon transform="translate(97.2,159.8)" points="-0.2,-0.2 10.5,-6 17.6,-9.1 18.2,-9 18.8,-9.6 20,-10.1 20.6,-10 21.2,-10.2 21.8,-10.8 23,-11.3 23.6,-11.1 24.2,-11.3 24.8,-11.9 25.9,-12.4 26.5,-12.3 27.1,-12.5 27.7,-13.1 28.9,-13.6 29.5,-13.4 30.1,-13.6 30.7,-14.3 31.9,-14.7 32.5,-14.6 33.1,-14.8 33.7,-15.4 34.9,-15.9 35.5,-15.7 36.1,-15.9 36.7,-16.6 37.8,-17 38.4,-16.8 39,-17.1 39.6,-17.7 40.8,-18.2 41.4,-18 42,-18.2 42.6,-18.9 43.8,-19.3 44.4,-19.1 45,-19.4 45.6,-20 46.8,-20.5 47.4,-20.3 48,-20.5 48.6,-21.2 49.7,-21.6 50.3,-21.4 50.9,-21.6 51.5,-22.3 52.7,-22.8 53.3,-22.5 53.9,-22.8 54.5,-23.5 55.7,-23.9 56.3,-23.7 56.9,-23.9 57.5,-24.6 58.7,-25.1 59.3,-24.8 59.9,-25 60.5,-25.7 61.6,-26.2 62.2,-25.9 62.8,-26.2 63.4,-26.9 64.6,-27.3 65.2,-27.1 65.8,-27.3 66.4,-28 67.6,-28.5 68.2,-28.2 68.8,-28.4 69.4,-29.2 70.6,-29.6 71.2,-29.4 71.8,-29.6 72.4,-30.3 73.5,-30.8 74.1,-30.5 74.7,-30.7 75.3,-31.5 76.5,-31.9 77.1,-31.6 77.7,-31.9 78.3,-32.6 79.5,-33.1 80.1,-32.8 80.7,-33 81.3,-33.7 82.5,-34.2 83.1,-33.9 83.7,-34.1 84.3,-34.9 85.4,-35.3 86,-35 86.6,-35.2 87.2,-36 88.4,-36.5 89,-36.1 89.6,-36.4 90.2,-37.2 91.4,-37.6 92,-37.3 92.6,-37.5 93.2,-38.3 94.4,-38.7 95,-38.4 95.6,-38.6 96.2,-39.4 97.3,-39.9 97.9,-39.5 98.5,-39.8 99.1,-40.5 100.3,-41 100.9,-40.7 101.5,-40.9 102.1,-41.7 103.3,-42.1 103.9,-41.8 104.5,-42 105.1,-42.8 106.3,-43.3 106.9,-42.9 107.5,-43.1 108.1,-43.9 109.2,-44.4 109.8,-44 110.4,-44.3 111,-45.1 112.2,-45.5 112.8,-45.2 113.4,-45.4 114,-46.2 115.2,-46.7 115.8,-46.3 116.4,-46.5 117,-47.3 118.8,-48 119.2,-45.2 7.4,-2.7 0.2,0.5" fill="url(#jza)" stroke="#001" stroke-opacity="0.20" stroke-width="0.3"/><polygon transform="translate(97.7,160.1)" points="-0.2,-0.3 6.9,-3.5 118.8,-45.9 119.2,-44.2 10.3,-3.8 5,-1.6 0.2,0.5" fill="url(#jza)" stroke="#001" stroke-opacity="0.20" stroke-width="0.3"/><polygon transform="translate(98.1,160.4)" points="-0.2,-0.2 4.5,-2.4 9.9,-4.5 118.8,-44.9 119.2,-49.1 10.3,-6.2 7.4,-4.9 5,-3.5 0.2,0.3" fill="url(#jza)" stroke="#001" stroke-opacity="0.20" stroke-width="0.3"/><polygon transform="translate(98.6,160.7)" points="-0.2,-0.5 4.5,-4.3 6.9,-5.6 9.9,-7 118.8,-49.8 119.2,-47.1 10.3,-5.2 5,-2.8 0.2,0.4" fill="url(#jza)" stroke="#001" stroke-opacity="0.20" stroke-width="0.3"/><polygon transform="translate(99.1,161)" points="-0.2,-0.4 4.5,-3.5 9.9,-6 118.8,-47.9 119.2,-45.2 10.3,-4.2 5,-2 0.2,0.5" fill="url(#jza)" stroke="#001" stroke-opacity="0.20" stroke-width="0.3"/><polygon transform="translate(99.5,161.3)" points="-0.2,-0.3 4.5,-2.8 9.9,-5 118.8,-45.9 119.2,-43.2 0.2,0.6" fill="url(#jza)" stroke="#001" stroke-opacity="0.20" stroke-width="0.3"/><polygon transform="translate(100,161.6)" points="-0.2,-0.2 118.8,-44 119.2,-43.1 0.2,0.6" fill="url(#jza)" stroke="#001" stroke-opacity="0.20" stroke-width="0.3"/><polygon transform="translate(100.5,161.9)" points="-0.2,-0.2 118.8,-43.9 119.2,-43.2 0.2,0.6" fill="url(#jza)" stroke="#001" stroke-opacity="0.20" stroke-width="0.3"/><polygon transform="translate(100.9,162.2)" points="-0.2,-0.2 118.8,-43.9 119.2,-44.2 8,-2.9 3.8,-1.2 0.2,0.5" fill="url(#jza)" stroke="#001" stroke-opacity="0.20" stroke-width="0.3"/><polygon transform="translate(101.4,162.5)" points="-0.2,-0.3 3.3,-2 7.5,-3.6 118.8,-44.9 119.2,-47.8 10.3,-5.6 5,-3 0.2,0.3" fill="url(#jza)" stroke="#001" stroke-opacity="0.20" stroke-width="0.3"/><polygon transform="translate(101.8,162.8)" points="-0.2,-0.4 4.5,-3.8 9.9,-6.3 118.8,-48.6 119.2,-46.3 10.3,-4.8 5,-2.4 0.2,0.4" fill="url(#jza)" stroke="#001" stroke-opacity="0.20" stroke-width="0.3"/><polygon transform="translate(102.3,163.1)" points="-0.2,-0.3 4.5,-3.2 9.9,-5.6 118.8,-47 119.2,-44.7 10.3,-4 5,-1.8 0.2,0.5" fill="url(#jza)" stroke="#001" stroke-opacity="0.20" stroke-width="0.3"/><polygon transform="translate(102.8,163.4)" points="-0.2,-0.3 4.5,-2.6 9.9,-4.8 118.8,-45.5 119.2,-43.6 7.4,-2.3 0.2,0.6" fill="url(#jza)" stroke="#001" stroke-opacity="0.20" stroke-width="0.3"/><polygon transform="translate(103.2,163.7)" points="-0.2,-0.2 6.9,-3 118.8,-44.4 119.2,-43.3 0.2,0.6" fill="url(#jza)" stroke="#001" stroke-opacity="0.20" stroke-width="0.3"/><polygon transform="translate(103.7,164)" points="-0.2,-0.2 118.8,-44 119.2,-44.7 8,-3 3.8,-1.3 0.2,0.5" fill="url(#jza)" stroke="#001" stroke-opacity="0.20" stroke-width="0.3"/><polygon transform="translate(104.2,164.3)" points="-0.2,-0.3 3.3,-2.1 7.5,-3.8 118.8,-45.4 119.2,-43.6 8,-2.5 0.2,0.6" fill="url(#jza)" stroke="#001" stroke-opacity="0.20" stroke-width="0.3"/><polygon transform="translate(104.6,164.6)" points="-0.2,-0.2 7.5,-3.3 118.8,-44.4 119.2,-43.8 10.3,-3.6 0.2,0.5" fill="url(#jza)" stroke="#001" stroke-opacity="0.20" stroke-width="0.3"/><polygon transform="translate(105.1,165)" points="-0.2,-0.2 9.9,-4.4 118.8,-44.6 119.2,-47.2 10.3,-5.6 5,-3 0.2,0.3" fill="url(#jza)" stroke="#001" stroke-opacity="0.20" stroke-width="0.3"/><polygon transform="translate(105.6,165.3)" points="-0.2,-0.4 4.5,-3.8 9.9,-6.3 118.8,-48 119.2,-45.9 10.3,-4.8 5,-2.4 0.2,0.4" fill="url(#jza)" stroke="#001" stroke-opacity="0.20" stroke-width="0.3"/><polygon transform="translate(106,165.6)" points="-0.2,-0.3 4.5,-3.2 9.9,-5.6 118.8,-46.6 119.2,-44.5 10.3,-4 5,-1.8 0.2,0.5" fill="url(#jza)" stroke="#001" stroke-opacity="0.20" stroke-width="0.3"/><polygon transform="translate(106.5,165.9)" points="-0.2,-0.2 4.5,-2.6 9.9,-4.8 118.8,-45.2 119.2,-45 8,-3.1 3.8,-1.4 0.2,0.5" fill="url(#jza)" stroke="#001" stroke-opacity="0.20" stroke-width="0.3"/><polygon transform="translate(106.9,166.2)" points="-0.2,-0.3 3.3,-2.2 7.5,-3.9 118.8,-45.7 119.2,-43.7 8,-2.6 0.2,0.5" fill="url(#jza)" stroke="#001" stroke-opacity="0.20" stroke-width="0.3"/><polygon transform="translate(107.4,166.5)" points="-0.2,-0.2 7.5,-3.3 118.8,-44.5 119.2,-43.1 0.2,0.6" fill="url(#jza)" stroke="#001" stroke-opacity="0.20" stroke-width="0.3"/><polygon transform="translate(107.9,166.8)" points="-0.2,-0.2 118.8,-43.8 119.2,-43.4 8,-2.5 0.2,0.6" fill="url(#jza)" stroke="#001" stroke-opacity="0.20" stroke-width="0.3"/><polygon transform="translate(108.3,167.1)" points="-0.2,-0.2 7.5,-3.3 118.8,-44.1 119.2,-45.1 8,-3.7 3.8,-1.9 0.2,0.4" fill="url(#jza)" stroke="#001" stroke-opacity="0.20" stroke-width="0.3"/><polygon transform="translate(108.8,167.4)" points="-0.2,-0.4 3.3,-2.6 7.5,-4.5 118.8,-45.8 119.2,-47.2 10.3,-5.6 5,-3 0.2,0.3" fill="url(#jza)" stroke="#001" stroke-opacity="0.20" stroke-width="0.3"/><polygon transform="translate(109.3,167.7)" points="-0.2,-0.4 4.5,-3.8 9.9,-6.3 118.8,-48 119.2,-45.9 10.3,-4.8 5,-2.4 0.2,0.4" fill="url(#jza)" stroke="#001" stroke-opacity="0.20" stroke-width="0.3"/><polygon transform="translate(109.7,168)" points="-0.2,-0.3 4.5,-3.2 9.9,-5.6 118.8,-46.6 119.2,-44.5 10.3,-4 5,-1.8 0.2,0.5" fill="url(#jza)" stroke="#001" stroke-opacity="0.20" stroke-width="0.3"/><polygon transform="translate(110.2,168.3)" points="-0.2,-0.2 4.5,-2.6 9.9,-4.8 118.8,-45.2 119.2,-44.6 8,-3.1 3.8,-1.4 0.2,0.5" fill="url(#jza)" stroke="#001" stroke-opacity="0.20" stroke-width="0.3"/><polygon transform="translate(110.6,168.6)" points="-0.2,-0.3 3.3,-2.1 7.5,-3.9 118.8,-45.4 119.2,-43.6 8,-2.6 0.2,0.5" fill="url(#jza)" stroke="#001" stroke-opacity="0.20" stroke-width="0.3"/><polygon transform="translate(111.1,168.9)" points="-0.2,-0.2 7.5,-3.3 118.8,-44.4 119.2,-43.3 8,-2.4 0.2,0.6" fill="url(#jza)" stroke="#001" stroke-opacity="0.20" stroke-width="0.3"/><polygon transform="translate(111.6,169.2)" points="-0.2,-0.2 7.5,-3.2 118.8,-44.1 119.2,-44.9 8,-3.1 3.8,-1.4 0.2,0.5" fill="url(#jza)" stroke="#001" stroke-opacity="0.20" stroke-width="0.3"/><polygon transform="translate(112,169.5)" points="-0.2,-0.3 3.3,-2.2 7.5,-3.9 118.8,-45.6 119.2,-43.7 10.3,-3.6 0.2,0.5" fill="url(#jza)" stroke="#001" stroke-opacity="0.20" stroke-width="0.3"/><polygon transform="translate(112.5,169.8)" points="-0.2,-0.2 9.9,-4.3 118.8,-44.5 119.2,-46.9 10.3,-5.3 5,-2.8 0.2,0.4" fill="url(#jza)" stroke="#001" stroke-opacity="0.20" stroke-width="0.3"/><polygon transform="translate(113,170.1)" points="-0.2,-0.4 4.5,-3.5 9.9,-6 118.8,-47.7 119.2,-45.6 10.3,-4.6 5,-2.3 0.2,0.4" fill="url(#jza)" stroke="#001" stroke-opacity="0.20" stroke-width="0.3"/><polygon transform="translate(113.4,170.4)" points="-0.2,-0.3 4.5,-3 9.9,-5.3 118.8,-46.4 119.2,-44.4 10.3,-3.9 5,-1.7 0.2,0.5" fill="url(#jza)" stroke="#001" stroke-opacity="0.20" stroke-width="0.3"/><polygon transform="translate(113.9,170.7)" points="-0.2,-0.2 4.5,-2.5 9.9,-4.6 118.8,-45.1 119.2,-43.1 0.2,0.6" fill="url(#jza)" stroke="#001" stroke-opacity="0.20" stroke-width="0.3"/><polygon transform="translate(114.4,171)" points="-0.2,-0.2 118.8,-43.9 119.2,-43.2 8,-2.4 0.2,0.6" fill="url(#jza)" stroke="#001" stroke-opacity="0.20" stroke-width="0.3"/><polygon transform="translate(114.8,171.3)" points="-0.2,-0.2 7.5,-3.2 118.8,-44 119.2,-44.4 8,-3.1 3.8,-1.4 0.2,0.5" fill="url(#jza)" stroke="#001" stroke-opacity="0.20" stroke-width="0.3"/><polygon transform="translate(115.3,171.6)" points="-0.2,-0.3 3.3,-2.2 7.5,-3.9 118.8,-45.2 119.2,-43.7 10.3,-3.6 0.2,0.5" fill="url(#jza)" stroke="#001" stroke-opacity="0.20" stroke-width="0.3"/><polygon transform="translate(115.7,171.9)" points="-0.2,-0.2 9.9,-4.3 118.8,-44.5 119.2,-46.9 10.3,-5.3 5,-2.8 0.2,0.4" fill="url(#jza)" stroke="#001" stroke-opacity="0.20" stroke-width="0.3"/><polygon transform="translate(116.2,172.2)" points="-0.2,-0.4 4.5,-3.5 9.9,-6 118.8,-47.7 119.2,-45.6 10.3,-4.6 5,-2.3 0.2,0.4" fill="url(#jza)" stroke="#001" stroke-opacity="0.20" stroke-width="0.3"/><polygon transform="translate(116.7,172.5)" points="-0.2,-0.3 4.5,-3 9.9,-5.3 118.8,-46.4 119.2,-44.4 10.3,-3.9 5,-1.7 0.2,0.5" fill="url(#jza)" stroke="#001" stroke-opacity="0.20" stroke-width="0.3"/><polygon transform="translate(117.1,172.8)" points="-0.2,-0.2 4.5,-2.5 9.9,-4.6 118.8,-45.1 119.2,-44.2 8,-3.5 3.8,-1.7 0.2,0.4" fill="url(#jza)" stroke="#001" stroke-opacity="0.20" stroke-width="0.3"/><polygon transform="translate(117.6,173.1)" points="-0.2,-0.4 3.3,-2.5 7.5,-4.3 118.8,-44.9 119.2,-43.4 8,-2.7 0.2,0.5" fill="url(#jza)" stroke="#001" stroke-opacity="0.20" stroke-width="0.3"/><polygon transform="translate(118.1,173.4)" points="-0.2,-0.2 7.5,-3.5 118.8,-44.2 119.2,-51.4 60.3,-25.8 42.5,-18.4 25.2,-11.5 15.1,-7.2 10.3,-4.7 5,-1.3 0.2,0.6" fill="url(#jza)" stroke="#001" stroke-opacity="0.20" stroke-width="0.3"/><polygon transform="translate(118.5,173.7)" points="-0.2,-0.2 4.5,-2.1 9.9,-5.5 14.6,-7.9 24.8,-12.3 42,-19.1 59.9,-26.5 118.8,-52.1 119.2,-83.3 117.4,-82.3 76.4,-53.3 60.3,-42.3 42.5,-31.6 25.2,-22.7 15.1,-15.9 12.7,-13.8 10.3,-10.9 8.6,-8.2 6.2,-3.8 5,-2 3.8,-0.9 0.2,0.6" fill="url(#jza)" stroke="#001" stroke-opacity="0.20" stroke-width="0.3"/><polygon transform="translate(119,174)" points="-0.2,-0.2 3.3,-1.6 4.5,-2.8 5.7,-4.5 8.1,-9 9.9,-11.7 12.3,-14.6 14.6,-16.7 24.8,-23.5 42,-32.4 59.9,-43.1 75.9,-54 117,-83 118.8,-84.1 119.2,-69.2 76.4,-44.2 60.3,-35 42.5,-25.8 25.2,-17.7 15.1,-12 12.7,-10.4 10.3,-8.2 5,-1.7 3.8,-0.8 0.2,0.6" fill="url(#jza)" stroke="#001" stroke-opacity="0.20" stroke-width="0.3"/><polyline transform="translate(119,174)" points="-0.2,-0.2 3.3,-1.6 4.5,-2.8 5.7,-4.5 8.1,-9 9.9,-11.7 12.3,-14.6 14.6,-16.7 24.8,-23.5 42,-32.4 59.9,-43.1 75.9,-54 117,-83 118.8,-84.1" fill="none" stroke="#000820" stroke-opacity="0.55" stroke-width="0.45"/><polygon transform="translate(119.5,174.3)" points="-0.2,-0.2 3.3,-1.6 4.5,-2.5 9.9,-8.9 12.3,-11.1 14.6,-12.8 24.8,-18.5 42,-26.5 59.9,-35.8 75.9,-44.9 118.8,-69.9 119.2,-55 60.3,-27.7 42.5,-19.9 25.2,-12.8 15.1,-8.2 12.1,-6.6 3.8,-1.4 0.2,0.5" fill="url(#jza)" stroke="#001" stroke-opacity="0.20" stroke-width="0.3"/><polygon transform="translate(119.9,174.6)" points="-0.2,-0.2 3.3,-2.1 11.7,-7.3 14.6,-8.9 24.8,-13.5 42,-20.6 59.9,-28.4 118.8,-55.8 119.2,-66.1 118.6,-65.9 118,-64.5 116.9,-64 116.3,-64.9 114.5,-64.2 113.9,-62.8 112.7,-62.3 112.1,-63.2 110.3,-62.4 109.7,-61 108.5,-60.5 107.9,-61.4 106.1,-60.7 105.5,-59.3 104.4,-58.8 103.8,-59.7 102,-58.9 101.4,-57.6 100.2,-57.1 99.6,-57.9 97.8,-57.2 97.2,-55.8 96,-55.4 95.4,-56.2 93.6,-55.5 93.1,-54.1 91.9,-53.6 91.3,-54.5 89.5,-53.7 88.9,-52.4 87.7,-51.9 87.1,-52.7 85.3,-52 84.7,-50.7 83.5,-50.2 82.9,-51 81.2,-50.2 80.6,-48.9 79.4,-48.4 78.8,-49.3 77,-48.5 76.4,-47.2 75.2,-46.7 74.6,-47.5 72.8,-46.8 72.2,-45.5 71,-45 70.4,-45.8 68.7,-45 68.1,-43.7 66.9,-43.3 66.3,-44 64.5,-43.3 63.9,-42 62.7,-41.5 62.1,-42.3 60.3,-41.5 59.7,-40.3 58.5,-39.8 57.9,-40.6 56.2,-39.8 55.6,-38.6 54.4,-38.1 53.8,-38.8 52,-38.1 51.4,-36.9 50.2,-36.4 49.6,-37.1 47.8,-36.4 47.2,-35.2 46,-34.7 45.5,-35.4 43.7,-34.7 43.1,-33.4 41.9,-33 41.3,-33.7 39.5,-32.9 38.9,-31.7 37.7,-31.2 37.1,-32 35.3,-31.2 34.7,-30 33.6,-29.5 33,-30.2 31.2,-29.5 30.6,-28.3 29.4,-27.8 28.8,-28.5 27,-27.8 26.4,-26.6 25.2,-26.1 24.6,-26.8 22.8,-26.1 22.2,-24.9 21.1,-24.3 20.5,-24.9 17.5,-22.6 12.1,-16.9 9.8,-13.6 4.4,-4.8 2,-1.7 0.2,0.1" fill="url(#jza)" stroke="#001" stroke-opacity="0.20" stroke-width="0.3"/><polygon transform="translate(120.4,174.9)" points="-0.2,-0.6 1.6,-2.4 3.9,-5.6 9.3,-14.4 11.7,-17.7 17,-23.3 20,-25.6 20.6,-25 21.8,-25.6 22.4,-26.8 24.2,-27.5 24.8,-26.9 25.9,-27.4 26.5,-28.5 28.3,-29.3 28.9,-28.6 30.1,-29.1 30.7,-30.2 32.5,-31 33.1,-30.3 34.3,-30.8 34.9,-32 36.7,-32.7 37.3,-32 38.4,-32.5 39,-33.7 40.8,-34.4 41.4,-33.7 42.6,-34.2 43.2,-35.4 45,-36.1 45.6,-35.4 46.8,-35.9 47.4,-37.1 49.2,-37.9 49.7,-37.1 50.9,-37.6 51.5,-38.9 53.3,-39.6 53.9,-38.8 55.1,-39.3 55.7,-40.6 57.5,-41.3 58.1,-40.6 59.3,-41 59.9,-42.3 61.6,-43 62.2,-42.3 63.4,-42.8 64,-44 65.8,-44.8 66.4,-44 67.6,-44.5 68.2,-45.8 70,-46.5 70.6,-45.7 71.8,-46.2 72.4,-47.5 74.1,-48.3 74.7,-47.5 75.9,-48 76.5,-49.3 78.3,-50 78.9,-49.2 80.1,-49.7 80.7,-51 82.5,-51.7 83.1,-50.9 84.3,-51.4 84.9,-52.7 86.6,-53.5 87.2,-52.7 88.4,-53.1 89,-54.5 90.8,-55.2 91.4,-54.4 92.6,-54.9 93.2,-56.2 95,-57 95.6,-56.1 96.8,-56.6 97.3,-58 99.1,-58.7 99.7,-57.8 100.9,-58.3 101.5,-59.7 103.3,-60.4 103.9,-59.6 105.1,-60.1 105.7,-61.4 107.5,-62.2 108.1,-61.3 109.2,-61.8 109.8,-63.2 111.6,-63.9 112.2,-63 113.4,-63.5 114,-64.9 115.8,-65.7 116.4,-64.8 117.6,-65.2 118.2,-66.6 118.8,-66.9 119.2,-53.9 118.6,-53.6 118,-52.9 116.9,-52.4 116.3,-52.7 114.5,-52 113.9,-51.2 112.7,-50.8 112.1,-51.1 110.3,-50.4 109.7,-49.6 108.5,-49.2 107.9,-49.5 106.1,-48.8 105.5,-48 104.4,-47.5 103.8,-47.8 102,-47.1 101.4,-46.4 100.2,-45.9 99.6,-46.2 97.8,-45.5 97.2,-44.8 96,-44.3 95.4,-44.6 93.6,-43.9 93.1,-43.1 91.9,-42.7 91.3,-43 89.5,-42.3 88.9,-41.5 87.7,-41.1 87.1,-41.3 85.3,-40.6 84.7,-39.9 83.5,-39.4 82.9,-39.7 81.2,-39 80.6,-38.3 79.4,-37.8 78.8,-38.1 77,-37.4 76.4,-36.7 75.2,-36.2 74.6,-36.5 72.8,-35.8 72.2,-35 71,-34.6 70.4,-34.8 68.7,-34.1 68.1,-33.4 66.9,-33 66.3,-33.2 64.5,-32.5 63.9,-31.8 62.7,-31.3 62.1,-31.6 60.3,-30.9 59.7,-30.2 58.5,-29.7 57.9,-30 56.2,-29.3 55.6,-28.6 54.4,-28.1 53.8,-28.4 52,-27.7 51.4,-27 50.2,-26.5 49.6,-26.7 47.8,-26 47.2,-25.4 46,-24.9 45.5,-25.1 43.7,-24.4 43.1,-23.7 41.9,-23.3 41.3,-23.5 39.5,-22.8 38.9,-22.1 37.7,-21.7 37.1,-21.9 35.3,-21.2 34.7,-20.5 33.6,-20.1 33,-20.3 31.2,-19.6 30.6,-18.9 29.4,-18.4 28.8,-18.7 27,-18 26.4,-17.3 25.2,-16.8 24.6,-17 22.8,-16.3 22.2,-15.7 21.1,-15.2 20.5,-15.3 17.5,-13.7 12.1,-10 9.8,-7.9 4.4,-2.8 0.2,0.4" fill="url(#jza)" stroke="#001" stroke-opacity="0.20" stroke-width="0.3"/><polyline transform="translate(120.4,174.9)" points="-0.2,-0.6 1.6,-2.4 3.9,-5.6 9.3,-14.4 11.7,-17.7 17,-23.3 20,-25.6 20.6,-25 21.8,-25.6 22.4,-26.8 24.2,-27.5 24.8,-26.9 25.9,-27.4 26.5,-28.5 28.3,-29.3 28.9,-28.6 30.1,-29.1 30.7,-30.2 32.5,-31 33.1,-30.3 34.3,-30.8 34.9,-32 36.7,-32.7 37.3,-32 38.4,-32.5 39,-33.7 40.8,-34.4 41.4,-33.7 42.6,-34.2 43.2,-35.4 45,-36.1 45.6,-35.4 46.8,-35.9 47.4,-37.1 49.2,-37.9 49.7,-37.1 50.9,-37.6 51.5,-38.9 53.3,-39.6 53.9,-38.8 55.1,-39.3 55.7,-40.6 57.5,-41.3 58.1,-40.6 59.3,-41 59.9,-42.3 61.6,-43 62.2,-42.3 63.4,-42.8 64,-44 65.8,-44.8 66.4,-44 67.6,-44.5 68.2,-45.8 70,-46.5 70.6,-45.7 71.8,-46.2 72.4,-47.5 74.1,-48.3 74.7,-47.5 75.9,-48 76.5,-49.3 78.3,-50 78.9,-49.2 80.1,-49.7 80.7,-51 82.5,-51.7 83.1,-50.9 84.3,-51.4 84.9,-52.7 86.6,-53.5 87.2,-52.7 88.4,-53.1 89,-54.5 90.8,-55.2 91.4,-54.4 92.6,-54.9 93.2,-56.2 95,-57 95.6,-56.1 96.8,-56.6 97.3,-58 99.1,-58.7 99.7,-57.8 100.9,-58.3 101.5,-59.7 103.3,-60.4 103.9,-59.6 105.1,-60.1 105.7,-61.4 107.5,-62.2 108.1,-61.3 109.2,-61.8 109.8,-63.2 111.6,-63.9 112.2,-63 113.4,-63.5 114,-64.9 115.8,-65.7 116.4,-64.8 117.6,-65.2 118.2,-66.6 118.8,-66.9" fill="none" stroke="#000820" stroke-opacity="0.55" stroke-width="0.45"/><polygon transform="translate(120.8,175.2)" points="-0.2,-0.4 3.9,-3.5 9.3,-8.7 11.7,-10.7 17,-14.4 20,-16.1 20.6,-15.9 21.8,-16.4 22.4,-17.1 24.2,-17.8 24.8,-17.6 25.9,-18 26.5,-18.7 28.3,-19.4 28.9,-19.2 30.1,-19.7 30.7,-20.3 32.5,-21 33.1,-20.8 34.3,-21.3 34.9,-21.9 36.7,-22.6 37.3,-22.4 38.4,-22.9 39,-23.6 40.8,-24.3 41.4,-24 42.6,-24.5 43.2,-25.2 45,-25.9 45.6,-25.6 46.8,-26.1 47.4,-26.8 49.2,-27.5 49.7,-27.3 50.9,-27.7 51.5,-28.4 53.3,-29.1 53.9,-28.9 55.1,-29.3 55.7,-30 57.5,-30.7 58.1,-30.5 59.3,-30.9 59.9,-31.6 61.6,-32.3 62.2,-32.1 63.4,-32.6 64,-33.3 65.8,-34 66.4,-33.7 67.6,-34.2 68.2,-34.9 70,-35.6 70.6,-35.3 71.8,-35.8 72.4,-36.5 74.1,-37.2 74.7,-37 75.9,-37.4 76.5,-38.1 78.3,-38.8 78.9,-38.6 80.1,-39 80.7,-39.8 82.5,-40.5 83.1,-40.2 84.3,-40.7 84.9,-41.4 86.6,-42.1 87.2,-41.8 88.4,-42.3 89,-43 90.8,-43.7 91.4,-43.4 92.6,-43.9 93.2,-44.6 95,-45.3 95.6,-45.1 96.8,-45.5 97.3,-46.3 99.1,-47 99.7,-46.7 100.9,-47.1 101.5,-47.9 103.3,-48.6 103.9,-48.3 105.1,-48.8 105.7,-49.5 107.5,-50.2 108.1,-49.9 109.2,-50.4 109.8,-51.1 111.6,-51.8 112.2,-51.5 113.4,-52 114,-52.8 115.8,-53.5 116.4,-53.2 117.6,-53.6 118.2,-54.4 118.8,-54.6 119.2,-55.3 10.3,-10.6 7.4,-8.9 5,-6.8 3.8,-5.4 0.2,-0.2" fill="url(#jza)" stroke="#001" stroke-opacity="0.20" stroke-width="0.3"/><polygon transform="translate(121.3,175.5)" points="-0.2,-0.9 3.3,-6.1 4.5,-7.6 6.9,-9.7 9.9,-11.3 118.8,-56 119.2,-45.6 58.5,-22.1 8.6,-3.2 0.2,0.5" fill="url(#jza)" stroke="#001" stroke-opacity="0.20" stroke-width="0.3"/><polyline transform="translate(121.3,175.5)" points="-0.2,-0.9 3.3,-6.1 4.5,-7.6 6.9,-9.7 9.9,-11.3 118.8,-56" fill="none" stroke="#000820" stroke-opacity="0.55" stroke-width="0.45"/><polygon transform="translate(121.8,175.8)" points="-0.2,-0.2 8.1,-4 58.1,-22.8 118.8,-46.3 119.2,-43.8 0.2,0.6" fill="url(#jza)" stroke="#001" stroke-opacity="0.20" stroke-width="0.3"/><line x1="52.5" y1="130.6" x2="52.5" y2="68.6" stroke="#555" stroke-width="0.30"/><line x1="52.5" y1="130.6" x2="122.0" y2="176.0" stroke="#555" stroke-width="0.30"/><line x1="122.0" y1="176.0" x2="241.0" y2="132.5" stroke="#555" stroke-width="0.30"/><line x1="52.5" y1="130.6" x2="51.2" y2="130.1" stroke="#555" stroke-width="0.30"/><text x="48.1" y="131.5" font-size="4.1" text-anchor="end" style="font-family:'Liberation Sans',sans-serif" fill="#3a3a3a">0</text><line x1="52.5" y1="115.1" x2="51.2" y2="114.6" stroke="#555" stroke-width="0.30"/><text x="48.1" y="116.0" font-size="4.1" text-anchor="end" style="font-family:'Liberation Sans',sans-serif" fill="#3a3a3a">50</text><line x1="52.5" y1="99.6" x2="51.2" y2="99.1" stroke="#555" stroke-width="0.30"/><text x="48.1" y="100.5" font-size="4.1" text-anchor="end" style="font-family:'Liberation Sans',sans-serif" fill="#3a3a3a">100</text><line x1="52.5" y1="84.1" x2="51.2" y2="83.6" stroke="#555" stroke-width="0.30"/><text x="48.1" y="85.0" font-size="4.1" text-anchor="end" style="font-family:'Liberation Sans',sans-serif" fill="#3a3a3a">150</text><line x1="52.5" y1="68.6" x2="51.2" y2="68.1" stroke="#555" stroke-width="0.30"/><text x="48.1" y="69.5" font-size="4.1" text-anchor="end" style="font-family:'Liberation Sans',sans-serif" fill="#3a3a3a">200</text><line x1="52.5" y1="130.6" x2="51.3" y2="131.5" stroke="#555" stroke-width="0.30"/><text x="47.0" y="138.1" font-size="4.1" text-anchor="middle" style="font-family:'Liberation Sans',sans-serif" fill="#3a3a3a">0</text><line x1="75.7" y1="145.7" x2="74.5" y2="146.6" stroke="#555" stroke-width="0.30"/><text x="68.6" y="152.7" font-size="4.1" text-anchor="middle" style="font-family:'Liberation Sans',sans-serif" fill="#3a3a3a">50</text><line x1="98.8" y1="160.9" x2="97.6" y2="161.8" stroke="#555" stroke-width="0.30"/><text x="90.2" y="168.1" font-size="4.1" text-anchor="middle" style="font-family:'Liberation Sans',sans-serif" fill="#3a3a3a">100</text><line x1="122.0" y1="176.0" x2="120.8" y2="176.9" stroke="#555" stroke-width="0.30"/><text x="113.2" y="183.0" font-size="4.1" text-anchor="middle" style="font-family:'Liberation Sans',sans-serif" fill="#3a3a3a">150</text><line x1="151.8" y1="165.1" x2="152.9" y2="166.0" stroke="#555" stroke-width="0.30"/><text x="157.9" y="173.2" font-size="4.1" text-anchor="middle" style="font-family:'Liberation Sans',sans-serif" fill="#3a3a3a">50</text><line x1="181.5" y1="154.2" x2="182.7" y2="155.2" stroke="#555" stroke-width="0.30"/><text x="188.4" y="161.9" font-size="4.1" text-anchor="middle" style="font-family:'Liberation Sans',sans-serif" fill="#3a3a3a">100</text><line x1="211.2" y1="143.4" x2="212.4" y2="144.3" stroke="#555" stroke-width="0.30"/><text x="218.5" y="150.3" font-size="4.1" text-anchor="middle" style="font-family:'Liberation Sans',sans-serif" fill="#3a3a3a">150</text><line x1="241.0" y1="132.5" x2="242.2" y2="133.4" stroke="#555" stroke-width="0.30"/><text x="248.4" y="139.0" font-size="4.1" text-anchor="middle" style="font-family:'Liberation Sans',sans-serif" fill="#3a3a3a">200</text><text x="83" y="179.2" font-size="4.5" text-anchor="middle" style="font-family:'Liberation Sans',sans-serif" fill="#3a3a3a">Nodes</text><text x="172" y="179.0" font-size="4.5" text-anchor="middle" style="font-family:'Liberation Sans',sans-serif" fill="#3a3a3a">Time</text><text transform="translate(37.6,100.8) rotate(-90)" font-size="4.5" text-anchor="middle" style="font-family:'Liberation Sans',sans-serif" fill="#3a3a3a">Number of passengers</text></g>
<g transform="translate(246.6,0)"><defs><linearGradient id="jzb" gradientUnits="userSpaceOnUse" x1="0" y1="0" x2="-14.99" y2="-41.02"><stop offset="0" stop-color="#0c0c59"/><stop offset="0.04167" stop-color="#0c0c6e"/><stop offset="0.08333" stop-color="#0c0c83"/><stop offset="0.125" stop-color="#0c0ca1"/><stop offset="0.1667" stop-color="#0c25a6"/><stop offset="0.2083" stop-color="#0c41aa"/><stop offset="0.25" stop-color="#0c5baa"/><stop offset="0.2917" stop-color="#0c75aa"/><stop offset="0.3333" stop-color="#0c8faa"/><stop offset="0.375" stop-color="#0caaaa"/><stop offset="0.4167" stop-color="#27aa8f"/><stop offset="0.4583" stop-color="#41ab76"/><stop offset="0.5" stop-color="#5fb15f"/><stop offset="0.5417" stop-color="#7eb745"/><stop offset="0.5833" stop-color="#9fbc29"/><stop offset="0.625" stop-color="#c2c20c"/><stop offset="0.6667" stop-color="#c9aa0c"/><stop offset="0.7083" stop-color="#cf8e0c"/><stop offset="0.75" stop-color="#d5710c"/><stop offset="0.7917" stop-color="#d54f0c"/><stop offset="0.8333" stop-color="#d52d0c"/><stop offset="0.875" stop-color="#d40c0c"/><stop offset="0.9167" stop-color="#b30c0c"/><stop offset="0.9583" stop-color="#910c0c"/><stop offset="1" stop-color="#700c0c"/></linearGradient></defs><line x1="52.5" y1="130.6" x2="171.5" y2="87.1" stroke="#e3e3e3" stroke-width="0.35"/><line x1="171.5" y1="87.1" x2="241.0" y2="132.5" stroke="#e3e3e3" stroke-width="0.35"/><line x1="52.5" y1="115.1" x2="171.5" y2="71.6" stroke="#e3e3e3" stroke-width="0.35"/><line x1="171.5" y1="71.6" x2="241.0" y2="117.0" stroke="#e3e3e3" stroke-width="0.35"/><line x1="52.5" y1="99.6" x2="171.5" y2="56.1" stroke="#e3e3e3" stroke-width="0.35"/><line x1="171.5" y1="56.1" x2="241.0" y2="101.5" stroke="#e3e3e3" stroke-width="0.35"/><line x1="52.5" y1="84.1" x2="171.5" y2="40.6" stroke="#e3e3e3" stroke-width="0.35"/><line x1="171.5" y1="40.6" x2="241.0" y2="86.0" stroke="#e3e3e3" stroke-width="0.35"/><line x1="52.5" y1="68.6" x2="171.5" y2="25.1" stroke="#e3e3e3" stroke-width="0.35"/><line x1="171.5" y1="25.1" x2="241.0" y2="70.5" stroke="#e3e3e3" stroke-width="0.35"/><line x1="52.5" y1="130.6" x2="52.5" y2="68.6" stroke="#e3e3e3" stroke-width="0.35"/><line x1="52.5" y1="130.6" x2="122.0" y2="176.0" stroke="#e3e3e3" stroke-width="0.35"/><line x1="82.2" y1="119.7" x2="82.2" y2="57.7" stroke="#e3e3e3" stroke-width="0.35"/><line x1="82.2" y1="119.7" x2="151.8" y2="165.1" stroke="#e3e3e3" stroke-width="0.35"/><line x1="112.0" y1="108.8" x2="112.0" y2="46.8" stroke="#e3e3e3" stroke-width="0.35"/><line x1="112.0" y1="108.8" x2="181.5" y2="154.2" stroke="#e3e3e3" stroke-width="0.35"/><line x1="141.8" y1="98.0" x2="141.8" y2="36.0" stroke="#e3e3e3" stroke-width="0.35"/><line x1="141.8" y1="98.0" x2="211.2" y2="143.4" stroke="#e3e3e3" stroke-width="0.35"/><line x1="171.5" y1="87.1" x2="171.5" y2="25.1" stroke="#e3e3e3" stroke-width="0.35"/><line x1="171.5" y1="87.1" x2="241.0" y2="132.5" stroke="#e3e3e3" stroke-width="0.35"/><line x1="171.5" y1="87.1" x2="171.5" y2="25.1" stroke="#e3e3e3" stroke-width="0.35"/><line x1="52.5" y1="130.6" x2="171.5" y2="87.1" stroke="#e3e3e3" stroke-width="0.35"/><line x1="194.7" y1="102.2" x2="194.7" y2="40.2" stroke="#e3e3e3" stroke-width="0.35"/><line x1="75.7" y1="145.7" x2="194.7" y2="102.2" stroke="#e3e3e3" stroke-width="0.35"/><line x1="217.8" y1="117.4" x2="217.8" y2="55.4" stroke="#e3e3e3" stroke-width="0.35"/><line x1="98.8" y1="160.9" x2="217.8" y2="117.4" stroke="#e3e3e3" stroke-width="0.35"/><line x1="241.0" y1="132.5" x2="241.0" y2="70.5" stroke="#e3e3e3" stroke-width="0.35"/><line x1="122.0" y1="176.0" x2="241.0" y2="132.5" stroke="#e3e3e3" stroke-width="0.35"/><polygon points="52.5,130.6 171.5,87.1 241.0,132.5 122.0,176.0" fill="#000045"/><polygon transform="translate(52.7,130.8)" points="-0.2,-0.2 1,-1.8 2.1,-2.6 118.8,-45.6 119.2,-52.2 18.1,-14 2.6,-7.7 1.4,-5.8 0.8,-3.3 0.2,0.6" fill="url(#jzb)" stroke="#001" stroke-opacity="0.26" stroke-width="0.3"/><polygon transform="translate(53.2,131.1)" points="-0.2,-0.2 0.4,-4.1 1,-6.5 2.1,-8.5 17.6,-14.7 118.8,-53 119.2,-47.8 18.1,-10.2 2.6,-4.2 1.4,-3 0.2,0.6" fill="url(#jzb)" stroke="#001" stroke-opacity="0.26" stroke-width="0.3"/><polyline transform="translate(53.2,131.1)" points="-0.2,-0.2 0.4,-4.1 1,-6.5 2.1,-8.5 17.6,-14.7 118.8,-53" fill="none" stroke="#000820" stroke-opacity="0.70" stroke-width="0.50"/><polygon transform="translate(53.7,131.4)" points="-0.2,-0.2 1,-3.7 2.1,-4.9 17.6,-10.9 118.8,-48.5 119.2,-53.4 18.1,-15.5 3.2,-9.2 1.4,-6.7 0.2,0.6" fill="url(#jzb)" stroke="#001" stroke-opacity="0.26" stroke-width="0.3"/><polygon transform="translate(54.1,131.7)" points="-0.2,-0.2 1,-7.4 2.7,-9.9 17.6,-16.3 118.8,-54.2 119.2,-50.1 18.1,-12.5 3.2,-6.4 1.4,-4.5 0.2,0.6" fill="url(#jzb)" stroke="#001" stroke-opacity="0.26" stroke-width="0.3"/><polyline transform="translate(54.1,131.7)" points="-0.2,-0.2 1,-7.4 2.7,-9.9 17.6,-16.3 118.8,-54.2" fill="none" stroke="#000820" stroke-opacity="0.70" stroke-width="0.50"/><polygon transform="translate(54.6,132)" points="-0.2,-0.2 1,-5.2 2.7,-7.2 17.6,-13.2 118.8,-50.9 119.2,-46.8 18.1,-9.4 3.2,-3.7 1.4,-2.3 0.2,0.6" fill="url(#jzb)" stroke="#001" stroke-opacity="0.26" stroke-width="0.3"/><polygon transform="translate(55,132.3)" points="-0.2,-0.2 1,-3.1 2.7,-4.4 17.6,-10.2 118.8,-47.5 119.2,-45.9 13.3,-6.9 6.8,-4.1 4.4,-2.6 0.2,0.4" fill="url(#jzb)" stroke="#001" stroke-opacity="0.26" stroke-width="0.3"/><polygon transform="translate(55.5,132.6)" points="-0.2,-0.4 3.9,-3.4 6.3,-4.9 12.9,-7.6 118.8,-46.6 119.2,-57.2 37.1,-25.9 16.9,-18.5 13.3,-17 9.2,-15 8,-14.1 6.8,-12.8 4.4,-9.2 0.2,-0.6" fill="url(#jzb)" stroke="#001" stroke-opacity="0.26" stroke-width="0.3"/><polygon transform="translate(56,132.9)" points="-0.2,-1.3 3.9,-9.9 6.3,-13.6 7.5,-14.8 8.7,-15.7 12.9,-17.7 16.4,-19.3 36.7,-26.7 118.8,-57.9 119.2,-53.8 13.3,-13.9 9.2,-12 6.8,-10.2 4.4,-7.2 0.2,-0.3" fill="url(#jzb)" stroke="#001" stroke-opacity="0.26" stroke-width="0.3"/><polyline transform="translate(56,132.9)" points="-0.2,-1.3 3.9,-9.9 6.3,-13.6 7.5,-14.8 8.7,-15.7 12.9,-17.7 16.4,-19.3 36.7,-26.7 118.8,-57.9" fill="none" stroke="#000820" stroke-opacity="0.70" stroke-width="0.50"/><polygon transform="translate(56.4,133.2)" points="-0.2,-1 3.9,-8 6.3,-11 8.7,-12.8 12.9,-14.7 118.8,-54.5 119.2,-50.4 13.3,-10.9 9.2,-9.1 6.8,-7.6 4.4,-5.2 0.2,0" fill="url(#jzb)" stroke="#001" stroke-opacity="0.26" stroke-width="0.3"/><polygon transform="translate(56.9,133.5)" points="-0.2,-0.8 3.9,-6 6.3,-8.3 8.7,-9.9 12.9,-11.7 118.8,-51.1 119.2,-47 13.3,-7.9 9.2,-6.2 6.8,-5 4.4,-3.3 0.2,0.3" fill="url(#jzb)" stroke="#001" stroke-opacity="0.26" stroke-width="0.3"/><polygon transform="translate(57.4,133.8)" points="-0.2,-0.5 3.9,-4 6.3,-5.7 8.7,-7 12.9,-8.6 118.8,-47.7 119.2,-43.8 9.2,-3.3 0.2,0.5" fill="url(#jzb)" stroke="#001" stroke-opacity="0.26" stroke-width="0.3"/><polygon transform="translate(57.8,134.1)" points="-0.2,-0.2 8.7,-4 118.8,-44.6 119.2,-48.7 62.7,-27 58.5,-25.4 57.9,-24.7 57.4,-24.5 56.8,-24.7 56.2,-24.5 55.6,-23.8 55,-23.6 54.4,-23.8 53.8,-23.6 53.2,-22.9 52.6,-22.7 52,-23 51.4,-22.8 50.8,-22.1 50.2,-21.9 49.6,-22.1 49,-21.9 48.4,-21.2 47.8,-21 47.2,-21.3 43.7,-20.6 33,-15 27,-12.5 19.3,-9.6 6.8,-3.6 0.2,0.5" fill="url(#jzb)" stroke="#001" stroke-opacity="0.26" stroke-width="0.3"/><polygon transform="translate(58.3,134.4)" points="-0.2,-0.2 6.3,-4.3 18.8,-10.3 26.5,-13.3 32.5,-15.8 43.2,-21.3 46.8,-22.1 47.4,-21.8 48,-22 48.6,-22.7 49.2,-22.9 49.7,-22.6 50.3,-22.8 50.9,-23.5 51.5,-23.7 52.1,-23.5 52.7,-23.7 53.3,-24.4 53.9,-24.6 54.5,-24.3 55.1,-24.6 55.7,-25.2 56.3,-25.5 56.9,-25.2 57.5,-25.4 58.1,-26.1 62.2,-27.8 118.8,-49.5 119.2,-70.8 62.7,-45.1 58.5,-43 57.9,-40.5 57.4,-40.3 56.8,-42.2 56.2,-42 55.6,-39.6 55,-39.4 54.4,-41.4 53.8,-41.2 53.2,-38.8 52.6,-38.6 52,-40.6 51.4,-40.4 50.8,-37.9 50.2,-37.7 49.6,-39.7 49,-39.5 48.4,-37.1 47.8,-36.9 47.2,-39.1 46.6,-39.3 44.9,-40.5 44.3,-40.6 43.7,-40.4 40.7,-37.9 33,-28.8 27,-25 19.3,-21.8 6.8,-10.2 5.6,-8.6 0.2,0.3" fill="url(#jzb)" stroke="#001" stroke-opacity="0.26" stroke-width="0.3"/><polygon transform="translate(58.8,134.7)" points="-0.2,-0.4 5.1,-9.4 6.3,-10.9 18.8,-22.5 26.5,-25.8 32.5,-29.6 40.2,-38.6 43.2,-41.2 43.8,-41.4 44.4,-41.3 46.2,-40.1 46.8,-39.9 47.4,-37.6 48,-37.8 48.6,-40.3 49.2,-40.5 49.7,-38.5 50.3,-38.7 50.9,-41.1 51.5,-41.3 52.1,-39.3 52.7,-39.5 53.3,-41.9 53.9,-42.2 54.5,-40.1 55.1,-40.4 55.7,-42.8 56.3,-43 56.9,-41 57.5,-41.3 58.1,-43.8 62.2,-45.9 118.8,-71.5 119.2,-65.5 62.7,-40.8 58.5,-38.8 57.9,-36.7 57.4,-36.5 56.8,-38 56.2,-37.8 55.6,-35.8 55,-35.6 54.4,-37.2 53.8,-37 53.2,-35 52.6,-34.8 52,-36.3 51.4,-36.1 50.8,-34.1 50.2,-33.9 49.6,-35.5 49,-35.3 48.4,-33.3 47.8,-33.1 47.2,-34.8 44.9,-35.8 43.7,-35.7 40.7,-33.4 33,-25.5 27,-22 19.3,-18.8 6.8,-8.6 5.6,-7.2 0.2,0.4" fill="url(#jzb)" stroke="#001" stroke-opacity="0.26" stroke-width="0.3"/><polyline transform="translate(58.8,134.7)" points="-0.2,-0.4 5.1,-9.4 6.3,-10.9 18.8,-22.5 26.5,-25.8 32.5,-29.6 40.2,-38.6 43.2,-41.2 43.8,-41.4 44.4,-41.3 46.2,-40.1 46.8,-39.9 47.4,-37.6 48,-37.8 48.6,-40.3 49.2,-40.5 49.7,-38.5 50.3,-38.7 50.9,-41.1 51.5,-41.3 52.1,-39.3 52.7,-39.5 53.3,-41.9 53.9,-42.2 54.5,-40.1 55.1,-40.4 55.7,-42.8 56.3,-43 56.9,-41 57.5,-41.3 58.1,-43.8 62.2,-45.9 118.8,-71.5" fill="none" stroke="#000820" stroke-opacity="0.70" stroke-width="0.50"/><polygon transform="translate(59.2,135)" points="-0.2,-0.4 5.1,-8 6.3,-9.3 18.8,-19.6 26.5,-22.8 32.5,-26.3 40.2,-34.1 43.2,-36.4 44.4,-36.6 46.8,-35.6 47.4,-33.8 48,-34 48.6,-36 49.2,-36.3 49.7,-34.7 50.3,-34.9 50.9,-36.9 51.5,-37.1 52.1,-35.5 52.7,-35.7 53.3,-37.7 53.9,-37.9 54.5,-36.3 55.1,-36.6 55.7,-38.6 56.3,-38.8 56.9,-37.2 57.5,-37.5 58.1,-39.5 62.2,-41.5 118.8,-66.2 119.2,-60.2 62.7,-36.4 58.5,-34.6 57.9,-32.9 57.4,-32.7 56.8,-33.8 56.2,-33.6 55.6,-32 55,-31.8 54.4,-33 53.8,-32.7 53.2,-31.2 52.6,-30.9 52,-32.1 51.4,-31.9 50.8,-30.3 50.2,-30.1 49.6,-31.3 49,-31.1 48.4,-29.5 47.8,-29.2 47.2,-30.5 44.9,-31.1 43.7,-30.9 40.7,-28.9 33,-22.2 27,-19 19.3,-15.9 6.8,-7 5.6,-5.9 0.2,0.4" fill="url(#jzb)" stroke="#001" stroke-opacity="0.26" stroke-width="0.3"/><polygon transform="translate(59.7,135.3)" points="-0.2,-0.3 5.1,-6.6 6.3,-7.8 18.8,-16.7 26.5,-19.8 32.5,-22.9 40.2,-29.6 43.2,-31.6 44.4,-31.8 46.8,-31.3 47.4,-30 48,-30.2 48.6,-31.8 49.2,-32 49.7,-30.9 50.3,-31.1 50.9,-32.7 51.5,-32.9 52.1,-31.7 52.7,-31.9 53.3,-33.5 53.9,-33.7 54.5,-32.5 55.1,-32.8 55.7,-34.3 56.3,-34.6 56.9,-33.4 57.5,-33.7 58.1,-35.3 62.2,-37.2 118.8,-60.9 119.2,-54.9 62.7,-32.1 58.5,-30.3 57.9,-29.1 57.4,-28.9 56.8,-29.6 56.2,-29.4 55.6,-28.2 55,-28 54.4,-28.7 53.8,-28.5 53.2,-27.4 52.6,-27.1 52,-27.9 51.4,-27.7 50.8,-26.5 50.2,-26.3 49.6,-27 49,-26.8 48.4,-25.6 47.8,-25.4 47.2,-26.3 44.9,-26.4 43.7,-26.1 40.7,-24.4 33,-18.9 27,-16 19.3,-13 6.8,-5.4 0.2,0.5" fill="url(#jzb)" stroke="#001" stroke-opacity="0.26" stroke-width="0.3"/><polygon transform="translate(60.1,135.6)" points="-0.2,-0.3 6.3,-6.2 18.8,-13.7 26.5,-16.8 32.5,-19.6 40.2,-25.1 43.2,-26.9 44.4,-27.1 46.8,-27 47.4,-26.2 48,-26.4 48.6,-27.6 49.2,-27.8 49.7,-27 50.3,-27.3 50.9,-28.4 51.5,-28.6 52.1,-27.9 52.7,-28.1 53.3,-29.3 53.9,-29.5 54.5,-28.8 55.1,-29 55.7,-30.1 56.3,-30.3 56.9,-29.6 57.5,-29.9 58.1,-31.1 62.2,-32.8 118.8,-55.6 119.2,-49.6 62.7,-27.7 58.5,-26.1 57.9,-25.3 57.4,-25.1 56.8,-25.4 56.2,-25.2 55.6,-24.4 55,-24.2 54.4,-24.5 53.8,-24.3 53.2,-23.6 52.6,-23.3 52,-23.7 51.4,-23.4 50.8,-22.7 50.2,-22.5 49.6,-22.8 49,-22.6 48.4,-21.8 47.8,-21.6 47.2,-22 43.7,-21.3 40.7,-19.9 33,-15.6 27,-13 19.3,-10.1 6.8,-3.8 0.2,0.5" fill="url(#jzb)" stroke="#001" stroke-opacity="0.26" stroke-width="0.3"/><polygon transform="translate(60.6,135.9)" points="-0.2,-0.2 6.3,-4.6 18.8,-10.8 26.5,-13.7 32.5,-16.3 40.2,-20.6 43.2,-22.1 46.8,-22.7 47.4,-22.4 48,-22.6 48.6,-23.3 49.2,-23.6 49.7,-23.2 50.3,-23.4 50.9,-24.2 51.5,-24.4 52.1,-24.1 52.7,-24.3 53.3,-25.1 53.9,-25.3 54.5,-25 55.1,-25.2 55.7,-25.9 56.3,-26.1 56.9,-25.8 57.5,-26.1 58.1,-26.8 62.2,-28.5 118.8,-50.3 119.2,-48.5 30.6,-14.8 27,-13.1 8,-3.1 0.2,0.6" fill="url(#jzb)" stroke="#001" stroke-opacity="0.26" stroke-width="0.3"/><polygon transform="translate(61.1,136.2)" points="-0.2,-0.2 7.5,-3.8 26.5,-13.9 30.1,-15.5 118.8,-49.2 119.2,-69.5 30.6,-30.9 28.8,-29.6 27,-27.8 21.7,-21.5 8,-6.4 3.2,-1.5 1.4,-0.1 0.2,0.6" fill="url(#jzb)" stroke="#001" stroke-opacity="0.26" stroke-width="0.3"/><polygon transform="translate(61.5,136.5)" points="-0.2,-0.2 1,-0.9 2.7,-2.3 7.5,-7.1 21.2,-22.2 26.5,-28.6 28.3,-30.4 30.1,-31.6 118.8,-70.3 119.2,-61.1 30.6,-24.4 28.8,-23.4 27,-21.9 21.7,-17 8,-5.1 3.2,-1.2 0.2,0.6" fill="url(#jzb)" stroke="#001" stroke-opacity="0.26" stroke-width="0.3"/><polyline transform="translate(61.5,136.5)" points="-0.2,-0.2 1,-0.9 2.7,-2.3 7.5,-7.1 21.2,-22.2 26.5,-28.6 28.3,-30.4 30.1,-31.6 118.8,-70.3" fill="none" stroke="#000820" stroke-opacity="0.70" stroke-width="0.50"/><polygon transform="translate(62,136.8)" points="-0.2,-0.2 2.7,-1.9 7.5,-5.8 21.2,-17.7 26.5,-22.7 28.3,-24.1 30.1,-25.2 118.8,-61.8 119.2,-52.7 30.6,-18 27,-16 8,-3.7 3.2,-0.9 0.2,0.6" fill="url(#jzb)" stroke="#001" stroke-opacity="0.26" stroke-width="0.3"/><polygon transform="translate(62.5,137.1)" points="-0.2,-0.2 2.7,-1.6 7.5,-4.5 26.5,-16.8 30.1,-18.7 118.8,-53.4 119.2,-45.6 32.4,-12.7 18.1,-6.5 10.9,-3.9 7.4,-2.2 0.2,0.6" fill="url(#jzb)" stroke="#001" stroke-opacity="0.26" stroke-width="0.3"/><polygon transform="translate(62.9,137.4)" points="-0.2,-0.2 6.9,-2.9 10.5,-4.6 17.6,-7.3 31.9,-13.5 118.8,-46.4 119.2,-51.7 67.5,-31.7 59.7,-27.4 41.9,-16.6 35.9,-13.4 0.2,0.6" fill="url(#jzb)" stroke="#001" stroke-opacity="0.26" stroke-width="0.3"/><polygon transform="translate(63.4,137.7)" points="-0.2,-0.2 35.5,-14.1 41.4,-17.3 59.3,-28.1 67,-32.5 118.8,-52.5 119.2,-85 107.3,-80 91.9,-72.8 67.5,-60.9 66.3,-59.9 65.1,-58.4 59.7,-50.9 41.9,-24 35.9,-16.9 24,-10.6 0.2,0.6" fill="url(#jzb)" stroke="#001" stroke-opacity="0.26" stroke-width="0.3"/><polygon transform="translate(63.9,138)" points="-0.2,-0.2 23.6,-11.3 35.5,-17.7 41.4,-24.7 59.3,-51.6 64.6,-59.1 65.8,-60.6 67,-61.7 91.4,-73.6 106.9,-80.8 118.8,-85.8 119.2,-76.6 107.3,-71.7 91.9,-64.8 67.5,-53.6 66.3,-52.6 65.1,-51.3 59.7,-44.9 41.9,-22.1 35.9,-16 24,-10.1 0.2,0.6" fill="url(#jzb)" stroke="#001" stroke-opacity="0.26" stroke-width="0.3"/><polyline transform="translate(63.9,138)" points="-0.2,-0.2 23.6,-11.3 35.5,-17.7 41.4,-24.7 59.3,-51.6 64.6,-59.1 65.8,-60.6 67,-61.7 91.4,-73.6 106.9,-80.8 118.8,-85.8" fill="none" stroke="#000820" stroke-opacity="0.70" stroke-width="0.50"/><polygon transform="translate(64.3,138.3)" points="-0.2,-0.2 23.6,-10.8 35.5,-16.8 41.4,-22.9 59.3,-45.7 64.6,-52.1 65.8,-53.4 67,-54.3 91.4,-65.6 106.9,-72.5 118.8,-77.4 119.2,-68.2 107.3,-63.4 67.5,-46.2 65.1,-44.3 59.7,-39 41.9,-20.2 35.9,-15.1 24,-9.6 0.2,0.6" fill="url(#jzb)" stroke="#001" stroke-opacity="0.26" stroke-width="0.3"/><polygon transform="translate(64.8,138.6)" points="-0.2,-0.2 23.6,-10.3 35.5,-15.9 41.4,-21 59.3,-39.7 64.6,-45 67,-46.9 106.9,-64.2 118.8,-68.9 119.2,-86.3 107.3,-80.9 77,-65.4 69.3,-61 68.1,-60 65.1,-56.6 60.3,-49.8 43.7,-24.6 37.1,-16.7 24,-10 0.2,0.6" fill="url(#jzb)" stroke="#001" stroke-opacity="0.26" stroke-width="0.3"/><polygon transform="translate(65.2,138.9)" points="-0.2,-0.2 23.6,-10.7 36.7,-17.5 43.2,-25.4 59.9,-50.6 64.6,-57.3 67.6,-60.8 68.8,-61.8 76.5,-66.1 106.9,-81.7 118.8,-87 119.2,-65.7 107.3,-60.8 77,-47.4 69.3,-43.7 65.1,-40.7 43.7,-20.2 38.3,-15.8 21.1,-8.9 12.1,-4.4 0.2,0.6" fill="url(#jzb)" stroke="#001" stroke-opacity="0.26" stroke-width="0.3"/><polyline transform="translate(65.2,138.9)" points="-0.2,-0.2 23.6,-10.7 36.7,-17.5 43.2,-25.4 59.9,-50.6 64.6,-57.3 67.6,-60.8 68.8,-61.8 76.5,-66.1 106.9,-81.7 118.8,-87" fill="none" stroke="#000820" stroke-opacity="0.70" stroke-width="0.50"/><polygon transform="translate(65.7,139.2)" points="-0.2,-0.2 11.7,-5.1 20.6,-9.7 37.8,-16.5 43.2,-20.9 64.6,-41.4 68.8,-44.5 76.5,-48.1 106.9,-61.6 118.8,-66.4 119.2,-54.8 107.3,-50.3 67.5,-34.5 59.7,-29.6 41.9,-17.3 35.9,-13.7 0.2,0.6" fill="url(#jzb)" stroke="#001" stroke-opacity="0.26" stroke-width="0.3"/><polygon transform="translate(66.2,139.5)" points="-0.2,-0.2 35.5,-14.5 41.4,-18 59.3,-30.3 67,-35.2 106.9,-51.1 118.8,-55.6 119.2,-52.2 67.5,-32.1 60.3,-28.1 50.2,-21.8 28.8,-13.6 9.2,-3.7 0.2,0.6" fill="url(#jzb)" stroke="#001" stroke-opacity="0.26" stroke-width="0.3"/><polygon transform="translate(66.6,139.8)" points="-0.2,-0.2 8.7,-4.5 28.3,-14.4 49.7,-22.6 59.9,-28.8 67,-32.9 118.8,-53 119.2,-65.8 30.6,-29 27.6,-26.8 21.7,-20.4 9.8,-8.3 2,-1 0.2,0.4" fill="url(#jzb)" stroke="#001" stroke-opacity="0.26" stroke-width="0.3"/><polygon transform="translate(67.1,140.1)" points="-0.2,-0.4 1.6,-1.7 9.3,-9.1 21.2,-21.2 27.1,-27.6 30.1,-29.8 118.8,-66.6 119.2,-59.6 30.6,-24 27.6,-22.1 21.7,-16.8 9.8,-6.8 2,-0.7 0.2,0.4" fill="url(#jzb)" stroke="#001" stroke-opacity="0.26" stroke-width="0.3"/><polyline transform="translate(67.1,140.1)" points="-0.2,-0.4 1.6,-1.7 9.3,-9.1 21.2,-21.2 27.1,-27.6 30.1,-29.8 118.8,-66.6" fill="none" stroke="#000820" stroke-opacity="0.70" stroke-width="0.50"/><polygon transform="translate(67.6,140.4)" points="-0.2,-0.3 1.6,-1.5 9.3,-7.6 21.2,-17.6 27.1,-22.8 30.1,-24.7 118.8,-60.3 119.2,-53.4 30.6,-19 27.6,-17.4 9.8,-5.4 0.2,0.5" fill="url(#jzb)" stroke="#001" stroke-opacity="0.26" stroke-width="0.3"/><polygon transform="translate(68,140.7)" points="-0.2,-0.3 9.3,-6.1 27.1,-18.1 30.1,-19.7 118.8,-54.1 119.2,-47.2 30.6,-13.9 0.2,0.6" fill="url(#jzb)" stroke="#001" stroke-opacity="0.26" stroke-width="0.3"/><polygon transform="translate(68.5,141)" points="-0.2,-0.2 30.1,-14.7 118.8,-47.9 119.2,-45.6 67.5,-26.3 45.5,-16.8 28.8,-10.6 0.2,0.6" fill="url(#jzb)" stroke="#001" stroke-opacity="0.26" stroke-width="0.3"/><polygon transform="translate(68.9,141.3)" points="-0.2,-0.2 28.3,-11.4 45,-17.5 67,-27.1 118.8,-46.3 119.2,-47.1 33,-14.7 9.2,-3.1 5,-1.7 0.2,0.6" fill="url(#jzb)" stroke="#001" stroke-opacity="0.26" stroke-width="0.3"/><polygon transform="translate(69.4,141.6)" points="-0.2,-0.2 4.5,-2.4 8.7,-3.9 32.5,-15.5 118.8,-47.8 119.2,-62.7 33,-27.4 30,-25.2 24.6,-19.7 14.5,-9.7 8,-3.8 4.4,-1.1 0.2,0.6" fill="url(#jzb)" stroke="#001" stroke-opacity="0.26" stroke-width="0.3"/><polygon transform="translate(69.9,141.9)" points="-0.2,-0.2 3.9,-1.9 7.5,-4.5 14,-10.5 24.2,-20.4 29.5,-26 32.5,-28.2 118.8,-63.5 119.2,-58 33,-23.6 30,-21.7 14.5,-8.5 8,-3.4 4.4,-1.1 0.2,0.6" fill="url(#jzb)" stroke="#001" stroke-opacity="0.26" stroke-width="0.3"/><polyline transform="translate(69.9,141.9)" points="-0.2,-0.2 3.9,-1.9 7.5,-4.5 14,-10.5 24.2,-20.4 29.5,-26 32.5,-28.2 118.8,-63.5" fill="none" stroke="#000820" stroke-opacity="0.70" stroke-width="0.50"/><polygon transform="translate(70.3,142.3)" points="-0.2,-0.2 3.9,-1.8 7.5,-4.2 14,-9.3 29.5,-22.4 32.5,-24.3 118.8,-58.8 119.2,-53.3 33,-19.8 30,-18.1 14.5,-7.3 8,-3 4.4,-1 0.2,0.6" fill="url(#jzb)" stroke="#001" stroke-opacity="0.26" stroke-width="0.3"/><polygon transform="translate(70.8,142.6)" points="-0.2,-0.2 3.9,-1.8 7.5,-3.8 14,-8.1 29.5,-18.9 32.5,-20.5 118.8,-54.1 119.2,-48.6 33,-16 30,-14.6 8,-2.7 4.4,-1 0.2,0.6" fill="url(#jzb)" stroke="#001" stroke-opacity="0.26" stroke-width="0.3"/><polygon transform="translate(71.3,142.9)" points="-0.2,-0.2 3.9,-1.7 7.5,-3.4 29.5,-15.3 32.5,-16.7 118.8,-49.3 119.2,-43.9 33,-12.2 19.9,-7.2 16.9,-5.8 0.2,0.6" fill="url(#jzb)" stroke="#001" stroke-opacity="0.26" stroke-width="0.3"/><polygon transform="translate(71.7,143.2)" points="-0.2,-0.2 16.4,-6.6 19.4,-8 32.5,-12.9 118.8,-44.6 119.2,-47 20.5,-9.9 19.3,-9.2 15.7,-5.6 15.1,-5.3 11.5,-3.7 0.2,0.6" fill="url(#jzb)" stroke="#001" stroke-opacity="0.26" stroke-width="0.3"/><polygon transform="translate(72.2,143.5)" points="-0.2,-0.2 11.1,-4.4 14.6,-6 15.2,-6.4 18.8,-10 20,-10.7 118.8,-47.8 119.2,-48.4 36.5,-17.2 33,-15.5 8.6,-2.7 5.6,-1.4 0.2,0.6" fill="url(#jzb)" stroke="#001" stroke-opacity="0.26" stroke-width="0.3"/><polygon transform="translate(72.7,143.8)" points="-0.2,-0.2 5.1,-2.2 8.1,-3.5 32.5,-16.3 36.1,-17.9 118.8,-49.1 119.2,-68.9 36.5,-34.3 34.7,-33 33,-31.3 27.6,-24.8 16.3,-12.1 8.6,-3.9 5.6,-1.6 0.2,0.6" fill="url(#jzb)" stroke="#001" stroke-opacity="0.26" stroke-width="0.3"/><polygon transform="translate(73.1,144.1)" points="-0.2,-0.2 5.1,-2.4 8.1,-4.7 15.8,-12.8 27.1,-25.5 32.5,-32 34.3,-33.8 36.1,-35 118.8,-69.7 119.2,-60.7 36.5,-27.4 34.7,-26.4 33,-25 27.6,-19.9 16.3,-9.9 8.6,-3.4 5.6,-1.5 0.2,0.6" fill="url(#jzb)" stroke="#001" stroke-opacity="0.26" stroke-width="0.3"/><polyline transform="translate(73.1,144.1)" points="-0.2,-0.2 5.1,-2.4 8.1,-4.7 15.8,-12.8 27.1,-25.5 32.5,-32 34.3,-33.8 36.1,-35 118.8,-69.7" fill="none" stroke="#000820" stroke-opacity="0.70" stroke-width="0.50"/><polygon transform="translate(73.6,144.4)" points="-0.2,-0.2 5.1,-2.3 8.1,-4.2 15.8,-10.7 27.1,-20.7 32.5,-25.7 34.3,-27.1 36.1,-28.2 118.8,-61.4 119.2,-52.4 36.5,-20.6 33,-18.7 16.3,-7.8 8.6,-3 5.6,-1.5 0.2,0.6" fill="url(#jzb)" stroke="#001" stroke-opacity="0.26" stroke-width="0.3"/><polygon transform="translate(74,144.7)" points="-0.2,-0.2 5.1,-2.2 8.1,-3.7 15.8,-8.5 32.5,-19.4 36.1,-21.3 118.8,-53.2 119.2,-50.6 51.4,-25.5 37.7,-19.2 24,-10.9 19.9,-9.2 16.3,-6.2 12.7,-4.4 9.2,-2.8 0.2,0.6" fill="url(#jzb)" stroke="#001" stroke-opacity="0.26" stroke-width="0.3"/><polygon transform="translate(74.5,145)" points="-0.2,-0.2 8.7,-3.5 12.3,-5.1 15.8,-6.9 19.4,-9.9 23.6,-11.6 37.3,-20 50.9,-26.3 118.8,-51.4 119.2,-79.8 81.7,-65 54.4,-55.1 51.4,-53.5 40.1,-44.7 37.7,-42.3 31.8,-33.7 18.7,-12.6 16.9,-10.3 12.7,-5.8 10.9,-4.3 9.2,-3.2 0.2,0.6" fill="url(#jzb)" stroke="#001" stroke-opacity="0.26" stroke-width="0.3"/><polygon transform="translate(75,145.3)" points="-0.2,-0.2 8.7,-3.9 10.5,-5 12.3,-6.6 16.4,-11 18.2,-13.4 31.3,-34.5 37.3,-43.1 39.6,-45.5 50.9,-54.3 53.9,-55.9 81.3,-65.8 118.8,-80.5 119.2,-65.8 81.7,-51.4 54.4,-41.5 51.4,-40.1 40.1,-33 37.7,-31.2 31.8,-25.1 18.7,-10.2 16.3,-8 12.7,-5.1 9.2,-3 0.2,0.6" fill="url(#jzb)" stroke="#001" stroke-opacity="0.26" stroke-width="0.3"/><polyline transform="translate(75,145.3)" points="-0.2,-0.2 8.7,-3.9 10.5,-5 12.3,-6.6 16.4,-11 18.2,-13.4 31.3,-34.5 37.3,-43.1 39.6,-45.5 50.9,-54.3 53.9,-55.9 81.3,-65.8 118.8,-80.5" fill="none" stroke="#000820" stroke-opacity="0.70" stroke-width="0.50"/><polygon transform="translate(75.4,145.6)" points="-0.2,-0.2 8.7,-3.7 12.3,-5.9 15.8,-8.7 18.2,-10.9 31.3,-25.8 37.3,-32 39.6,-33.8 50.9,-40.8 53.9,-42.2 81.3,-52.2 118.8,-66.5 119.2,-51.7 51.4,-26.6 37.7,-20.1 31.8,-16.4 18.7,-7.7 12.7,-4.4 9.2,-2.8 0.2,0.6" fill="url(#jzb)" stroke="#001" stroke-opacity="0.26" stroke-width="0.3"/><polygon transform="translate(75.9,145.9)" points="-0.2,-0.2 8.7,-3.5 12.3,-5.2 18.2,-8.5 31.3,-17.1 37.3,-20.9 50.9,-27.4 118.8,-52.5 119.2,-46.6 29.4,-13.3 26.4,-11.8 19.9,-7.8 17.5,-6.5 9.2,-2.7 0.2,0.6" fill="url(#jzb)" stroke="#001" stroke-opacity="0.26" stroke-width="0.3"/><polygon transform="translate(76.4,146.2)" points="-0.2,-0.2 8.7,-3.5 17,-7.2 19.4,-8.5 25.9,-12.6 28.9,-14 118.8,-47.3 119.2,-44.4 29.4,-11.3 17.5,-6 9.8,-2.9 0.2,0.6" fill="url(#jzb)" stroke="#001" stroke-opacity="0.26" stroke-width="0.3"/><polygon transform="translate(76.8,146.5)" points="-0.2,-0.2 9.3,-3.7 17,-6.8 28.9,-12.1 118.8,-45.1 119.2,-46.8 30.6,-13.9 6.8,-2.1 0.2,0.6" fill="url(#jzb)" stroke="#001" stroke-opacity="0.26" stroke-width="0.3"/><polygon transform="translate(77.3,146.8)" points="-0.2,-0.2 6.3,-2.9 30.1,-14.6 118.8,-47.5 119.2,-61.5 30.6,-26.5 28.8,-25.4 27.6,-24.3 22.2,-18.6 13.3,-9.6 6.8,-3.4 3.8,-1 0.2,0.6" fill="url(#jzb)" stroke="#001" stroke-opacity="0.26" stroke-width="0.3"/><polygon transform="translate(77.8,147.1)" points="-0.2,-0.2 3.3,-1.8 6.3,-4.1 12.9,-10.3 21.8,-19.3 27.1,-25.1 28.3,-26.1 30.1,-27.3 118.8,-62.2 119.2,-55.6 30.6,-21.4 27.6,-19.6 13.3,-7.9 6.8,-2.9 3.8,-0.9 0.2,0.6" fill="url(#jzb)" stroke="#001" stroke-opacity="0.26" stroke-width="0.3"/><polyline transform="translate(77.8,147.1)" points="-0.2,-0.2 3.3,-1.8 6.3,-4.1 12.9,-10.3 21.8,-19.3 27.1,-25.1 28.3,-26.1 30.1,-27.3 118.8,-62.2" fill="none" stroke="#000820" stroke-opacity="0.70" stroke-width="0.50"/><polygon transform="translate(78.2,147.4)" points="-0.2,-0.2 3.3,-1.7 6.3,-3.6 12.9,-8.6 27.1,-20.3 30.1,-22.2 118.8,-56.4 119.2,-49.7 30.6,-16.4 27.6,-14.9 6.8,-2.4 3.8,-0.8 0.2,0.6" fill="url(#jzb)" stroke="#001" stroke-opacity="0.26" stroke-width="0.3"/><polygon transform="translate(78.7,147.7)" points="-0.2,-0.2 3.3,-1.6 6.3,-3.1 27.1,-15.6 30.1,-17.1 118.8,-50.5 119.2,-44 25.2,-9.6 19.9,-7.1 0.2,0.6" fill="url(#jzb)" stroke="#001" stroke-opacity="0.26" stroke-width="0.3"/><polygon transform="translate(79.1,148)" points="-0.2,-0.2 19.4,-7.8 24.8,-10.3 118.8,-44.7 119.2,-43.6 30.6,-11.1 0.2,0.6" fill="url(#jzb)" stroke="#001" stroke-opacity="0.26" stroke-width="0.3"/><polygon transform="translate(79.6,148.3)" points="-0.2,-0.2 30.1,-11.9 118.8,-44.4 119.2,-43.5 30.6,-11 0.2,0.6" fill="url(#jzb)" stroke="#001" stroke-opacity="0.26" stroke-width="0.3"/><polygon transform="translate(80.1,148.6)" points="-0.2,-0.2 30.1,-11.7 118.8,-44.2 119.2,-43.3 30.6,-10.9 0.2,0.6" fill="url(#jzb)" stroke="#001" stroke-opacity="0.26" stroke-width="0.3"/><polygon transform="translate(80.5,148.9)" points="-0.2,-0.2 30.1,-11.6 118.8,-44.1 119.2,-48.7 75.8,-32.6 56.8,-25 28.2,-12.9 10.9,-3.6 0.2,0.6" fill="url(#jzb)" stroke="#001" stroke-opacity="0.26" stroke-width="0.3"/><polygon transform="translate(81,149.2)" points="-0.2,-0.2 10.5,-4.4 27.7,-13.6 56.3,-25.8 75.3,-33.3 118.8,-49.4 119.2,-70.5 105.5,-65.5 75.8,-53.6 60.3,-45.8 56.8,-43.8 43.1,-35.5 28.2,-25.1 25.2,-22 16.9,-11.2 10.9,-4.8 9.8,-3.8 8,-2.7 0.2,0.6" fill="url(#jzb)" stroke="#001" stroke-opacity="0.26" stroke-width="0.3"/><polygon transform="translate(81.5,149.5)" points="-0.2,-0.2 7.5,-3.5 9.3,-4.6 10.5,-5.6 16.4,-12 24.8,-22.8 27.7,-25.9 42.6,-36.2 56.3,-44.6 59.9,-46.6 75.3,-54.3 105.1,-66.2 118.8,-71.2 119.2,-60 105.5,-55 75.8,-43.5 56.8,-34.8 43.1,-27.7 28.2,-19.2 25.2,-16.9 16.9,-9 10.9,-4.2 8,-2.5 0.2,0.6" fill="url(#jzb)" stroke="#001" stroke-opacity="0.26" stroke-width="0.3"/><polyline transform="translate(81.5,149.5)" points="-0.2,-0.2 7.5,-3.5 9.3,-4.6 10.5,-5.6 16.4,-12 24.8,-22.8 27.7,-25.9 42.6,-36.2 56.3,-44.6 59.9,-46.6 75.3,-54.3 105.1,-66.2 118.8,-71.2" fill="none" stroke="#000820" stroke-opacity="0.70" stroke-width="0.50"/><polygon transform="translate(81.9,149.8)" points="-0.2,-0.2 7.5,-3.3 10.5,-5 16.4,-9.8 24.8,-17.7 27.7,-20 42.6,-28.5 56.3,-35.5 75.3,-44.2 105.1,-55.7 118.8,-60.8 119.2,-49.5 75.8,-33.4 56.8,-25.8 43.1,-20 28.2,-13.3 16.9,-6.9 10.9,-3.7 8,-2.3 0.2,0.6" fill="url(#jzb)" stroke="#001" stroke-opacity="0.26" stroke-width="0.3"/><polygon transform="translate(82.4,150.1)" points="-0.2,-0.2 7.5,-3.1 10.5,-4.4 16.4,-7.6 27.7,-14.1 42.6,-20.7 56.3,-26.5 75.3,-34.1 118.8,-50.3 119.2,-44.1 56.8,-21.1 28.2,-10.3 10.9,-3.4 0.2,0.6" fill="url(#jzb)" stroke="#001" stroke-opacity="0.26" stroke-width="0.3"/><polygon transform="translate(82.8,150.4)" points="-0.2,-0.2 10.5,-4.1 27.7,-11.1 56.3,-21.9 118.8,-44.9 119.2,-45.4 40.1,-16.2 11.5,-3.8 0.2,0.6" fill="url(#jzb)" stroke="#001" stroke-opacity="0.26" stroke-width="0.3"/><polygon transform="translate(83.3,150.7)" points="-0.2,-0.2 11.1,-4.5 39.6,-16.9 118.8,-46.1 119.2,-54.7 40.1,-24.5 36.5,-22.4 18.7,-9.3 11.5,-4.6 6.2,-1.7 0.2,0.6" fill="url(#jzb)" stroke="#001" stroke-opacity="0.26" stroke-width="0.3"/><polygon transform="translate(83.8,151)" points="-0.2,-0.2 5.7,-2.4 11.1,-5.4 18.2,-10.1 36.1,-23.1 39.6,-25.2 118.8,-55.4 119.2,-50.9 40.1,-21.1 37.1,-19.7 22.8,-10.8 19.9,-9.4 12.1,-4.8 4.4,-1 0.2,0.6" fill="url(#jzb)" stroke="#001" stroke-opacity="0.26" stroke-width="0.3"/><polyline transform="translate(83.8,151)" points="-0.2,-0.2 5.7,-2.4 11.1,-5.4 18.2,-10.1 36.1,-23.1 39.6,-25.2 118.8,-55.4" fill="none" stroke="#000820" stroke-opacity="0.70" stroke-width="0.50"/><polygon transform="translate(84.2,151.3)" points="-0.2,-0.2 3.9,-1.8 11.7,-5.5 19.4,-10.1 22.4,-11.6 36.7,-20.4 39.6,-21.9 118.8,-51.7 119.2,-47.2 40.1,-17.8 36.5,-16.2 18.7,-7.3 11.5,-3.9 0.2,0.6" fill="url(#jzb)" stroke="#001" stroke-opacity="0.26" stroke-width="0.3"/><polygon transform="translate(84.7,151.6)" points="-0.2,-0.2 11.1,-4.7 18.2,-8.1 36.1,-17 39.6,-18.6 118.8,-48 119.2,-43.8 20.5,-7.4 10.9,-3.5 0.2,0.6" fill="url(#jzb)" stroke="#001" stroke-opacity="0.26" stroke-width="0.3"/><polygon transform="translate(85.2,151.9)" points="-0.2,-0.2 10.5,-4.2 20,-8.1 118.8,-44.6 119.2,-47.3 20.5,-9.6 17.5,-8.1 10.9,-4.1 5,-1.2 0.2,0.6" fill="url(#jzb)" stroke="#001" stroke-opacity="0.26" stroke-width="0.3"/><polygon transform="translate(85.6,152.2)" points="-0.2,-0.2 4.5,-2 10.5,-4.9 17,-8.9 20,-10.3 118.8,-48.1 119.2,-55.9 36.5,-24.4 33,-22.2 16.3,-9 9.2,-3.9 5,-1.3 0.2,0.6" fill="url(#jzb)" stroke="#001" stroke-opacity="0.26" stroke-width="0.3"/><polygon transform="translate(86.1,152.5)" points="-0.2,-0.2 4.5,-2.1 8.7,-4.6 15.8,-9.7 32.5,-22.9 36.1,-25.1 118.8,-56.7 119.2,-51.8 36.5,-20.7 33,-18.7 16.3,-7.8 9.2,-3.5 5,-1.3 0.2,0.6" fill="url(#jzb)" stroke="#001" stroke-opacity="0.26" stroke-width="0.3"/><polyline transform="translate(86.1,152.5)" points="-0.2,-0.2 4.5,-2.1 8.7,-4.6 15.8,-9.7 32.5,-22.9 36.1,-25.1 118.8,-56.7" fill="none" stroke="#000820" stroke-opacity="0.70" stroke-width="0.50"/><polygon transform="translate(86.6,152.8)" points="-0.2,-0.2 4.5,-2 8.7,-4.2 15.8,-8.5 32.5,-19.5 36.1,-21.4 118.8,-52.5 119.2,-47.7 36.5,-17 33,-15.3 16.3,-6.6 9.2,-3.1 5,-1.2 0.2,0.6" fill="url(#jzb)" stroke="#001" stroke-opacity="0.26" stroke-width="0.3"/><polygon transform="translate(87,153.1)" points="-0.2,-0.2 4.5,-2 8.7,-3.9 15.8,-7.4 32.5,-16.1 36.1,-17.7 118.8,-48.4 119.2,-43.5 34.1,-12.4 0.2,0.6" fill="url(#jzb)" stroke="#001" stroke-opacity="0.26" stroke-width="0.3"/><polygon transform="translate(87.5,153.5)" points="-0.2,-0.2 33.7,-13.2 118.8,-44.3 119.2,-45.8 34.1,-14.7 31.2,-13.4 19.9,-7.4 9.8,-2.9 0.2,0.6" fill="url(#jzb)" stroke="#001" stroke-opacity="0.26" stroke-width="0.3"/><polygon transform="translate(87.9,153.8)" points="-0.2,-0.2 9.3,-3.7 19.4,-8.1 30.7,-14.1 33.7,-15.5 118.8,-46.5 119.2,-56.5 41.3,-26.7 39.5,-25.8 37.7,-24.5 32.4,-19.9 21.1,-10.9 13.3,-5.2 10.9,-3.8 8,-2.3 0.2,0.6" fill="url(#jzb)" stroke="#001" stroke-opacity="0.26" stroke-width="0.3"/><polygon transform="translate(88.4,154.1)" points="-0.2,-0.2 7.5,-3.1 10.5,-4.5 12.9,-6 20.6,-11.6 31.9,-20.7 37.3,-25.2 39,-26.5 40.8,-27.5 118.8,-57.3 119.2,-52.2 41.3,-22.8 37.7,-20.9 21.1,-9.7 13.3,-4.9 8,-2.3 0.2,0.6" fill="url(#jzb)" stroke="#001" stroke-opacity="0.26" stroke-width="0.3"/><polyline transform="translate(88.4,154.1)" points="-0.2,-0.2 7.5,-3.1 10.5,-4.5 12.9,-6 20.6,-11.6 31.9,-20.7 37.3,-25.2 39,-26.5 40.8,-27.5 118.8,-57.3" fill="none" stroke="#000820" stroke-opacity="0.70" stroke-width="0.50"/><polygon transform="translate(88.9,154.4)" points="-0.2,-0.2 7.5,-3.1 12.9,-5.7 20.6,-10.4 37.3,-21.6 40.8,-23.6 118.8,-53 119.2,-47.9 41.3,-18.9 37.7,-17.3 21.1,-8.4 13.3,-4.6 8,-2.3 0.2,0.6" fill="url(#jzb)" stroke="#001" stroke-opacity="0.26" stroke-width="0.3"/><polygon transform="translate(89.3,154.7)" points="-0.2,-0.2 7.5,-3 12.9,-5.3 20.6,-9.2 37.3,-18 40.8,-19.7 118.8,-48.6 119.2,-43.7 30.6,-11 0.2,0.6" fill="url(#jzb)" stroke="#001" stroke-opacity="0.26" stroke-width="0.3"/><polygon transform="translate(89.8,155)" points="-0.2,-0.2 30.1,-11.8 118.8,-44.5 119.2,-47 43.7,-19 34.1,-14.5 27.6,-11.8 14.5,-5.4 9.2,-3.2 4.4,-1 0.2,0.6" fill="url(#jzb)" stroke="#001" stroke-opacity="0.26" stroke-width="0.3"/><polygon transform="translate(90.3,155.3)" points="-0.2,-0.2 3.9,-1.7 8.7,-4 14,-6.1 27.1,-12.6 33.7,-15.2 43.2,-19.8 118.8,-47.7 119.2,-62.4 43.7,-33.2 41.9,-32.1 40.1,-30.6 34.1,-24.6 21.7,-12.8 13.3,-5.4 11.5,-4.2 9.2,-2.9 0.2,0.6" fill="url(#jzb)" stroke="#001" stroke-opacity="0.26" stroke-width="0.3"/><polygon transform="translate(90.7,155.6)" points="-0.2,-0.2 8.7,-3.6 11.1,-4.9 12.9,-6.2 21.2,-13.5 33.7,-25.4 39.6,-31.4 41.4,-32.8 43.2,-33.9 118.8,-63.2 119.2,-57.1 43.7,-28.3 40.1,-26.1 34.1,-21.1 21.7,-11.3 13.3,-5.1 10.9,-3.7 8.6,-2.6 0.2,0.6" fill="url(#jzb)" stroke="#001" stroke-opacity="0.26" stroke-width="0.3"/><polyline transform="translate(90.7,155.6)" points="-0.2,-0.2 8.7,-3.6 11.1,-4.9 12.9,-6.2 21.2,-13.5 33.7,-25.4 39.6,-31.4 41.4,-32.8 43.2,-33.9 118.8,-63.2" fill="none" stroke="#000820" stroke-opacity="0.70" stroke-width="0.50"/><polygon transform="translate(91.2,155.9)" points="-0.2,-0.2 8.1,-3.3 10.5,-4.4 12.9,-5.8 21.2,-12 33.7,-21.9 39.6,-26.8 43.2,-29.1 118.8,-57.9 119.2,-51.8 43.7,-23.5 40.1,-21.6 21.7,-9.8 13.3,-4.8 8.6,-2.5 0.2,0.6" fill="url(#jzb)" stroke="#001" stroke-opacity="0.26" stroke-width="0.3"/><polygon transform="translate(91.7,156.2)" points="-0.2,-0.2 8.1,-3.3 12.9,-5.5 21.2,-10.5 39.6,-22.3 43.2,-24.2 118.8,-52.6 119.2,-46.5 43.7,-18.6 13.3,-4.4 0.2,0.6" fill="url(#jzb)" stroke="#001" stroke-opacity="0.26" stroke-width="0.3"/><polygon transform="translate(92.1,156.5)" points="-0.2,-0.2 12.9,-5.2 43.2,-19.4 118.8,-47.3 119.2,-43.8 43.7,-16.1 13.3,-4.2 0.2,0.6" fill="url(#jzb)" stroke="#001" stroke-opacity="0.26" stroke-width="0.3"/><polygon transform="translate(92.6,156.8)" points="-0.2,-0.2 12.9,-5 43.2,-16.8 118.8,-44.5 119.2,-47.1 43.7,-19 10.9,-3.6 0.2,0.6" fill="url(#jzb)" stroke="#001" stroke-opacity="0.26" stroke-width="0.3"/><polygon transform="translate(93,157.1)" points="-0.2,-0.2 10.5,-4.3 43.2,-19.8 118.8,-47.8 119.2,-62.7 97.8,-54.4 95.4,-56.6 93.1,-52.5 43.7,-33.2 41.3,-31.7 39.5,-30.2 33.6,-24.4 19.9,-12 10.9,-4.5 8.6,-2.9 6.8,-2 0.2,0.6" fill="url(#jzb)" stroke="#001" stroke-opacity="0.26" stroke-width="0.3"/><polygon transform="translate(93.5,157.4)" points="-0.2,-0.2 6.3,-2.7 8.1,-3.6 10.5,-5.3 19.4,-12.8 33.1,-25.2 39,-31 40.8,-32.5 43.2,-33.9 92.6,-53.3 95,-57.3 97.3,-55.1 118.8,-63.5 119.2,-57.3 97.8,-49.1 95.4,-49.8 93.1,-47.3 43.7,-28.3 41.3,-27 39.5,-25.7 33.6,-20.9 19.9,-10.6 10.9,-4.2 6.8,-1.9 0.2,0.6" fill="url(#jzb)" stroke="#001" stroke-opacity="0.26" stroke-width="0.3"/><polyline transform="translate(93.5,157.4)" points="-0.2,-0.2 6.3,-2.7 8.1,-3.6 10.5,-5.3 19.4,-12.8 33.1,-25.2 39,-31 40.8,-32.5 43.2,-33.9 92.6,-53.3 95,-57.3 97.3,-55.1 118.8,-63.5" fill="none" stroke="#000820" stroke-opacity="0.70" stroke-width="0.50"/><polygon transform="translate(94,157.7)" points="-0.2,-0.2 6.3,-2.7 10.5,-4.9 19.4,-11.3 33.1,-21.7 39,-26.5 40.8,-27.8 43.2,-29.1 92.6,-48.1 95,-50.5 97.3,-49.9 118.8,-58.1 119.2,-52 43.7,-23.5 39.5,-21.3 19.9,-9.1 10.9,-3.9 6.8,-1.9 0.2,0.6" fill="url(#jzb)" stroke="#001" stroke-opacity="0.26" stroke-width="0.3"/><polygon transform="translate(94.4,158)" points="-0.2,-0.2 6.3,-2.6 10.5,-4.6 19.4,-9.8 39,-22 43.2,-24.2 118.8,-52.7 119.2,-46.6 43.7,-18.6 10.9,-3.5 0.2,0.6" fill="url(#jzb)" stroke="#001" stroke-opacity="0.26" stroke-width="0.3"/><polygon transform="translate(94.9,158.3)" points="-0.2,-0.2 10.5,-4.3 43.2,-19.4 118.8,-47.3 119.2,-43.9 43.1,-15.8 0.2,0.6" fill="url(#jzb)" stroke="#001" stroke-opacity="0.26" stroke-width="0.3"/><polygon transform="translate(95.4,158.6)" points="-0.2,-0.2 42.6,-16.6 118.8,-44.7 119.2,-47.8 25.8,-11.4 10.9,-4.1 6.2,-2.2 0.2,0.6" fill="url(#jzb)" stroke="#001" stroke-opacity="0.26" stroke-width="0.3"/><polygon transform="translate(95.8,158.9)" points="-0.2,-0.2 5.7,-2.9 10.5,-4.9 25.4,-12.2 118.8,-48.5 119.2,-60.2 82.9,-46.1 80.6,-48.2 78.2,-44.2 47.2,-32 43.7,-29.7 37.1,-23.8 24,-12.7 15.7,-6.2 12.7,-4.4 0.2,0.6" fill="url(#jzb)" stroke="#001" stroke-opacity="0.26" stroke-width="0.3"/><polygon transform="translate(96.3,159.2)" points="-0.2,-0.2 12.3,-5.1 15.2,-6.9 23.6,-13.4 36.7,-24.5 43.2,-30.4 46.8,-32.8 77.7,-45 80.1,-49 82.5,-46.8 118.8,-61 119.2,-56.1 82.9,-42.2 80.6,-42.8 78.2,-40.3 47.2,-28.4 43.7,-26.3 37.1,-21.2 24,-11.6 15.7,-5.9 10.3,-3.2 0.2,0.6" fill="url(#jzb)" stroke="#001" stroke-opacity="0.26" stroke-width="0.3"/><polyline transform="translate(96.3,159.2)" points="-0.2,-0.2 12.3,-5.1 15.2,-6.9 23.6,-13.4 36.7,-24.5 43.2,-30.4 46.8,-32.8 77.7,-45 80.1,-49 82.5,-46.8 118.8,-61" fill="none" stroke="#000820" stroke-opacity="0.70" stroke-width="0.50"/><polygon transform="translate(96.7,159.5)" points="-0.2,-0.2 9.9,-4 15.2,-6.7 23.6,-12.4 36.7,-22 43.2,-27 46.8,-29.1 77.7,-41.1 80.1,-43.5 82.5,-42.9 118.8,-56.9 119.2,-52 47.2,-24.7 43.1,-22.5 36.5,-18.2 19.9,-8 11.5,-4.1 6.2,-2.1 2.6,-0.3 0.2,0.6" fill="url(#jzb)" stroke="#001" stroke-opacity="0.26" stroke-width="0.3"/><polygon transform="translate(97.2,159.8)" points="-0.2,-0.2 2.1,-1.1 5.7,-2.8 11.1,-4.9 19.4,-8.8 36.1,-19 42.6,-23.2 46.8,-25.4 118.8,-52.8 119.2,-47.9 47.2,-21 43.7,-19.4 16.9,-5.9 0.2,0.6" fill="url(#jzb)" stroke="#001" stroke-opacity="0.26" stroke-width="0.3"/><polygon transform="translate(97.7,160.1)" points="-0.2,-0.2 16.4,-6.7 43.2,-20.2 46.8,-21.8 118.8,-48.6 119.2,-43.8 47.2,-17.4 18.7,-6.3 0.2,0.6" fill="url(#jzb)" stroke="#001" stroke-opacity="0.26" stroke-width="0.3"/><polygon transform="translate(98.1,160.4)" points="-0.2,-0.2 18.2,-7 46.8,-18.1 118.8,-44.5 119.2,-47.4 49.6,-21.5 45.5,-19.6 16.9,-5.8 0.2,0.6" fill="url(#jzb)" stroke="#001" stroke-opacity="0.26" stroke-width="0.3"/><polygon transform="translate(98.6,160.7)" points="-0.2,-0.2 16.4,-6.5 45,-20.4 49.2,-22.2 118.8,-48.2 119.2,-64.6 91.9,-53.6 89.5,-56.4 87.1,-51.7 74,-46.5 71.6,-49.9 69.3,-44.6 50.8,-37.2 47.2,-35.1 44.9,-33 38.9,-26.9 25.2,-14 16.3,-6.3 13.9,-4.8 10.3,-3.2 0.2,0.6" fill="url(#jzb)" stroke="#001" stroke-opacity="0.26" stroke-width="0.3"/><polygon transform="translate(99.1,161)" points="-0.2,-0.2 9.9,-4 13.5,-5.6 15.8,-7 24.8,-14.8 38.4,-27.7 44.4,-33.7 46.8,-35.8 50.3,-37.9 68.8,-45.3 71.2,-50.6 73.5,-47.2 86.6,-52.5 89,-57.1 91.4,-54.4 118.8,-65.3 119.2,-59.4 91.9,-48.7 89.5,-49.6 87.1,-46.8 74,-41.7 71.6,-42.9 69.3,-39.8 49.6,-32.1 47.2,-30.7 45.5,-29.3 39.5,-24.2 25.8,-13.2 16.9,-6.4 14.5,-5 10.3,-3.2 0.2,0.6" fill="url(#jzb)" stroke="#001" stroke-opacity="0.26" stroke-width="0.3"/><polyline transform="translate(99.1,161)" points="-0.2,-0.2 9.9,-4 13.5,-5.6 15.8,-7 24.8,-14.8 38.4,-27.7 44.4,-33.7 46.8,-35.8 50.3,-37.9 68.8,-45.3 71.2,-50.6 73.5,-47.2 86.6,-52.5 89,-57.1 91.4,-54.4 118.8,-65.3" fill="none" stroke="#000820" stroke-opacity="0.70" stroke-width="0.50"/><polygon transform="translate(99.5,161.3)" points="-0.2,-0.2 9.9,-3.9 14,-5.8 16.4,-7.2 25.4,-14 39,-25 45,-30.1 46.8,-31.4 49.2,-32.8 68.8,-40.6 71.2,-43.7 73.5,-42.4 86.6,-47.6 89,-50.4 91.4,-49.5 118.8,-60.2 119.2,-54.3 49.6,-27.5 45.5,-25.2 25.8,-11.8 16.9,-6.1 9.2,-2.7 0.2,0.6" fill="url(#jzb)" stroke="#001" stroke-opacity="0.26" stroke-width="0.3"/><polygon transform="translate(100,161.6)" points="-0.2,-0.2 8.7,-3.4 16.4,-6.9 25.4,-12.6 45,-25.9 49.2,-28.3 118.8,-55 119.2,-49.1 49.6,-23 45.5,-21 25.8,-10.4 16.9,-5.8 9.8,-2.9 0.2,0.6" fill="url(#jzb)" stroke="#001" stroke-opacity="0.26" stroke-width="0.3"/><polygon transform="translate(100.5,161.9)" points="-0.2,-0.2 9.3,-3.7 16.4,-6.6 25.4,-11.2 45,-21.7 49.2,-23.7 118.8,-49.9 119.2,-44 49.6,-18.4 16.9,-5.6 0.2,0.6" fill="url(#jzb)" stroke="#001" stroke-opacity="0.26" stroke-width="0.3"/><polygon transform="translate(100.9,162.2)" points="-0.2,-0.2 16.4,-6.3 49.2,-19.2 118.8,-44.7 119.2,-46.7 47.8,-20.1 13.3,-4.4 0.2,0.6" fill="url(#jzb)" stroke="#001" stroke-opacity="0.26" stroke-width="0.3"/><polygon transform="translate(101.4,162.5)" points="-0.2,-0.2 12.9,-5.2 47.4,-20.9 118.8,-47.4 119.2,-60.9 49.6,-33.6 47.8,-32.8 44.3,-30.4 37.7,-24.7 22.8,-12.5 13.3,-5.3 11.5,-4.1 6.8,-1.9 0.2,0.6" fill="url(#jzb)" stroke="#001" stroke-opacity="0.26" stroke-width="0.3"/><polygon transform="translate(101.8,162.8)" points="-0.2,-0.2 6.3,-2.7 11.1,-4.9 12.9,-6 22.4,-13.3 37.3,-25.4 43.8,-31.1 47.4,-33.5 49.2,-34.4 118.8,-61.6 119.2,-56.6 47.8,-29 44.3,-26.8 37.7,-21.9 22.8,-11.4 13.3,-5 8.6,-2.6 0.2,0.6" fill="url(#jzb)" stroke="#001" stroke-opacity="0.26" stroke-width="0.3"/><polyline transform="translate(101.8,162.8)" points="-0.2,-0.2 6.3,-2.7 11.1,-4.9 12.9,-6 22.4,-13.3 37.3,-25.4 43.8,-31.1 47.4,-33.5 49.2,-34.4 118.8,-61.6" fill="none" stroke="#000820" stroke-opacity="0.70" stroke-width="0.50"/><polygon transform="translate(102.3,163.1)" points="-0.2,-0.2 8.1,-3.3 12.9,-5.8 22.4,-12.1 37.3,-22.7 43.8,-27.6 47.4,-29.7 118.8,-57.4 119.2,-52.3 47.8,-25.2 44.3,-23.3 22.8,-10.2 13.3,-4.8 8,-2.3 0.2,0.6" fill="url(#jzb)" stroke="#001" stroke-opacity="0.26" stroke-width="0.3"/><polygon transform="translate(102.8,163.4)" points="-0.2,-0.2 7.5,-3 12.9,-5.5 22.4,-11 43.8,-24.1 47.4,-25.9 118.8,-53.1 119.2,-48.1 47.8,-21.4 13.3,-4.5 8,-2.3 0.2,0.6" fill="url(#jzb)" stroke="#001" stroke-opacity="0.26" stroke-width="0.3"/><polygon transform="translate(103.2,163.7)" points="-0.2,-0.2 7.5,-3 12.9,-5.3 47.4,-22.1 118.8,-48.8 119.2,-43.8 47.8,-17.6 13.3,-4.2 0.2,0.6" fill="url(#jzb)" stroke="#001" stroke-opacity="0.26" stroke-width="0.3"/><polygon transform="translate(103.7,164)" points="-0.2,-0.2 12.9,-5 47.4,-18.3 118.8,-44.5 119.2,-48.4 52,-23.1 47.8,-21.2 16.9,-5.8 10.9,-3.3 0.2,0.6" fill="url(#jzb)" stroke="#001" stroke-opacity="0.26" stroke-width="0.3"/><polygon transform="translate(104.2,164.3)" points="-0.2,-0.2 10.5,-4.1 16.4,-6.5 47.4,-22 51.5,-23.9 118.8,-49.1 119.2,-68.9 105,-63.1 102.6,-67 100.2,-61.1 85.9,-55.2 83.5,-59.8 81.2,-53.3 68.1,-47.9 65.7,-51.9 63.3,-45.9 53.2,-41.8 51.4,-40.8 49.6,-39.6 47.2,-37.4 41.3,-30.9 25.8,-15.3 16.3,-6.4 14.5,-5.2 12.1,-4 0.2,0.6" fill="url(#jzb)" stroke="#001" stroke-opacity="0.26" stroke-width="0.3"/><polygon transform="translate(104.6,164.6)" points="-0.2,-0.2 11.7,-4.8 14,-5.9 15.8,-7.1 25.4,-16 40.8,-31.6 46.8,-38.1 49.2,-40.3 50.9,-41.6 52.7,-42.5 62.8,-46.7 65.2,-52.6 67.6,-48.6 80.7,-54 83.1,-60.6 85.4,-56 99.7,-61.9 102.1,-67.8 104.5,-63.8 118.8,-69.7 119.2,-62.7 105,-57 102.6,-58.6 100.2,-55.1 85.9,-49.4 83.5,-51.3 81.2,-47.5 68.1,-42.3 65.7,-43.8 63.3,-40.4 52.6,-36 49,-33.9 40.7,-26.4 25.8,-13.7 19.9,-8.9 9.8,-3.7 5,-1.7 0.2,0.6" fill="url(#jzb)" stroke="#001" stroke-opacity="0.26" stroke-width="0.3"/><polyline transform="translate(104.6,164.6)" points="-0.2,-0.2 11.7,-4.8 14,-5.9 15.8,-7.1 25.4,-16 40.8,-31.6 46.8,-38.1 49.2,-40.3 50.9,-41.6 52.7,-42.5 62.8,-46.7 65.2,-52.6 67.6,-48.6 80.7,-54 83.1,-60.6 85.4,-56 99.7,-61.9 102.1,-67.8 104.5,-63.8 118.8,-69.7" fill="none" stroke="#000820" stroke-opacity="0.70" stroke-width="0.50"/><polygon transform="translate(105.1,165)" points="-0.2,-0.2 4.5,-2.5 9.3,-4.5 19.4,-9.7 25.4,-14.5 40.2,-27.2 48.6,-34.6 52.1,-36.8 62.8,-41.1 65.2,-44.5 67.6,-43 80.7,-48.3 83.1,-52 85.4,-50.2 99.7,-55.9 102.1,-59.3 104.5,-57.8 118.8,-63.5 119.2,-56.6 52,-30.3 47.8,-27.9 40.7,-22.6 25.2,-11.8 17.5,-6.6 0.2,0.6" fill="url(#jzb)" stroke="#001" stroke-opacity="0.26" stroke-width="0.3"/><polygon transform="translate(105.6,165.3)" points="-0.2,-0.2 17,-7.3 24.8,-12.5 40.2,-23.4 47.4,-28.7 51.5,-31.1 118.8,-57.3 119.2,-50.4 52,-24.9 47.8,-22.9 26.4,-10.9 16.9,-5.9 13.9,-4.5 0.2,0.6" fill="url(#jzb)" stroke="#001" stroke-opacity="0.26" stroke-width="0.3"/><polygon transform="translate(106,165.6)" points="-0.2,-0.2 13.5,-5.3 16.4,-6.6 25.9,-11.7 47.4,-23.6 51.5,-25.6 118.8,-51.1 119.2,-44.2 52,-19.5 20.5,-7 0.2,0.6" fill="url(#jzb)" stroke="#001" stroke-opacity="0.26" stroke-width="0.3"/><polygon transform="translate(106.5,165.9)" points="-0.2,-0.2 20,-7.7 51.5,-20.2 118.8,-45 119.2,-43.9 52,-19.2 27.6,-10.1 0.2,0.6" fill="url(#jzb)" stroke="#001" stroke-opacity="0.26" stroke-width="0.3"/><polygon transform="translate(106.9,166.2)" points="-0.2,-0.2 27.1,-10.8 51.5,-20 118.8,-44.7 119.2,-48.9 55,-24.8 50.8,-22.9 41.3,-17.8 27.6,-12.6 12.7,-4.9 7.4,-2.6 3.2,-0.5 0.2,0.6" fill="url(#jzb)" stroke="#001" stroke-opacity="0.26" stroke-width="0.3"/><polygon transform="translate(107.4,166.5)" points="-0.2,-0.2 2.7,-1.3 6.9,-3.4 12.3,-5.7 27.1,-13.3 40.8,-18.6 50.3,-23.6 54.5,-25.6 118.8,-49.7 119.2,-71.7 116.9,-70.8 114.5,-80.9 113.3,-74.9 112.1,-74.1 110.9,-78.9 108.5,-67.3 97.8,-63 95.4,-68.2 93.1,-61 78.8,-55.2 76.4,-59.2 74,-53.2 56.8,-46.2 55,-45.2 53.2,-43.9 50.8,-41.6 44.3,-34 28.8,-17.4 18.7,-7.3 16.9,-6.1 0.2,0.6" fill="url(#jzb)" stroke="#001" stroke-opacity="0.26" stroke-width="0.3"/><polygon transform="translate(107.9,166.8)" points="-0.2,-0.2 16.4,-6.9 18.2,-8 28.3,-18.2 43.8,-34.7 50.3,-42.3 52.7,-44.7 54.5,-46 56.3,-46.9 73.5,-54 75.9,-59.9 78.3,-55.9 92.6,-61.8 95,-68.9 97.3,-63.7 108.1,-68.1 110.4,-79.6 111.6,-74.8 112.8,-75.6 114,-81.7 116.4,-71.5 118.8,-72.5 119.2,-62.6 116.9,-61.7 114.5,-66.3 113.3,-63 112.1,-62.4 110.9,-64.6 108.5,-58.4 97.8,-54.1 95.4,-56.3 93.1,-52.3 78.8,-46.6 76.4,-48.1 74,-44.7 56.8,-37.9 55,-37 51.4,-34.6 44.3,-28.1 29.4,-15.5 18.7,-6.9 16.3,-5.6 12.1,-3.8 0.2,0.6" fill="url(#jzb)" stroke="#001" stroke-opacity="0.26" stroke-width="0.3"/><polyline transform="translate(107.9,166.8)" points="-0.2,-0.2 16.4,-6.9 18.2,-8 28.3,-18.2 43.8,-34.7 50.3,-42.3 52.7,-44.7 54.5,-46 56.3,-46.9 73.5,-54 75.9,-59.9 78.3,-55.9 92.6,-61.8 95,-68.9 97.3,-63.7 108.1,-68.1 110.4,-79.6 111.6,-74.8 112.8,-75.6 114,-81.7 116.4,-71.5 118.8,-72.5" fill="none" stroke="#000820" stroke-opacity="0.70" stroke-width="0.50"/><polygon transform="translate(108.3,167.1)" points="-0.2,-0.2 11.7,-4.6 15.8,-6.3 18.2,-7.7 28.9,-16.3 43.8,-28.9 50.9,-35.3 54.5,-37.8 56.3,-38.7 73.5,-45.5 75.9,-48.9 78.3,-47.4 92.6,-53 95,-57 97.3,-54.9 108.1,-59.1 110.4,-65.3 111.6,-63.2 112.8,-63.8 114,-67.1 116.4,-62.4 118.8,-63.3 119.2,-53.5 55,-28.9 51.4,-26.9 29.4,-13 18.7,-6.6 13.3,-4.3 0.2,0.6" fill="url(#jzb)" stroke="#001" stroke-opacity="0.26" stroke-width="0.3"/><polygon transform="translate(108.8,167.4)" points="-0.2,-0.2 12.9,-5 18.2,-7.3 28.9,-13.7 50.9,-27.7 54.5,-29.6 118.8,-54.2 119.2,-44.3 55,-20.7 19.3,-6.5 0.2,0.6" fill="url(#jzb)" stroke="#001" stroke-opacity="0.26" stroke-width="0.3"/><polygon transform="translate(109.3,167.7)" points="-0.2,-0.2 18.8,-7.3 54.5,-21.5 118.8,-45.1 119.2,-46.7 25.8,-10.5 23.4,-9.4 18.1,-6.5 9.8,-2.9 0.2,0.6" fill="url(#jzb)" stroke="#001" stroke-opacity="0.26" stroke-width="0.3"/><polygon transform="translate(109.7,168)" points="-0.2,-0.2 9.3,-3.7 17.6,-7.3 23,-10.2 25.4,-11.3 118.8,-47.4 119.2,-49.5 55,-25.3 50.8,-23.4 16.9,-5.8 10.3,-3.1 0.2,0.6" fill="url(#jzb)" stroke="#001" stroke-opacity="0.26" stroke-width="0.3"/><polygon transform="translate(110.2,168.3)" points="-0.2,-0.2 9.9,-3.9 16.4,-6.5 50.3,-24.1 54.5,-26.1 118.8,-50.2 119.2,-74.2 108.5,-69.8 106.1,-74.4 103.8,-67.9 91.9,-63 89.5,-66.4 87.1,-61.1 56.8,-48.7 55,-47.7 53.2,-46.4 50.8,-44.1 43.1,-34.9 25.8,-16.1 16.9,-6.9 14.5,-5.2 10.9,-3.5 0.2,0.6" fill="url(#jzb)" stroke="#001" stroke-opacity="0.26" stroke-width="0.3"/><polygon transform="translate(110.6,168.6)" points="-0.2,-0.2 10.5,-4.2 14,-5.9 16.4,-7.7 25.4,-16.9 42.6,-35.7 50.3,-44.8 52.7,-47.1 54.5,-48.4 56.3,-49.4 86.6,-61.8 89,-67.1 91.4,-63.8 103.3,-68.6 105.7,-75.2 108.1,-70.6 118.8,-74.9 119.2,-64.3 108.5,-60.1 106.1,-61.9 103.8,-58.2 91.9,-53.5 89.5,-54.7 87.1,-51.6 56.8,-39.6 55,-38.7 53.2,-37.6 50.8,-35.8 43.1,-28.6 25.8,-13.8 16.9,-6.5 14.5,-5 10.9,-3.4 0.2,0.6" fill="url(#jzb)" stroke="#001" stroke-opacity="0.26" stroke-width="0.3"/><polyline transform="translate(110.6,168.6)" points="-0.2,-0.2 10.5,-4.2 14,-5.9 16.4,-7.7 25.4,-16.9 42.6,-35.7 50.3,-44.8 52.7,-47.1 54.5,-48.4 56.3,-49.4 86.6,-61.8 89,-67.1 91.4,-63.8 103.3,-68.6 105.7,-75.2 108.1,-70.6 118.8,-74.9" fill="none" stroke="#000820" stroke-opacity="0.70" stroke-width="0.50"/><polygon transform="translate(111.1,168.9)" points="-0.2,-0.2 10.5,-4.2 14,-5.7 16.4,-7.2 25.4,-14.5 42.6,-29.4 50.3,-36.5 52.7,-38.4 54.5,-39.5 56.3,-40.4 86.6,-52.3 89,-55.5 91.4,-54.2 103.3,-58.9 105.7,-62.7 108.1,-60.8 118.8,-65 119.2,-54.4 55,-29.8 50.8,-27.5 43.7,-22.7 22.8,-9.6 19.9,-8.2 15.1,-5.4 8,-2.3 0.2,0.6" fill="url(#jzb)" stroke="#001" stroke-opacity="0.26" stroke-width="0.3"/><polygon transform="translate(111.6,169.2)" points="-0.2,-0.2 7.5,-3 14.6,-6.2 19.4,-8.9 22.4,-10.4 43.2,-23.5 50.3,-28.2 54.5,-30.5 118.8,-55.1 119.2,-44.5 55,-20.8 40.7,-15.1 21.7,-8 15.7,-5.3 8.6,-2.5 0.2,0.6" fill="url(#jzb)" stroke="#001" stroke-opacity="0.26" stroke-width="0.3"/><polygon transform="translate(112,169.5)" points="-0.2,-0.2 8.1,-3.2 15.2,-6.1 21.2,-8.7 40.2,-15.8 54.5,-21.6 118.8,-45.2 119.2,-44.1 55,-20.5 16.9,-5.6 0.2,0.6" fill="url(#jzb)" stroke="#001" stroke-opacity="0.26" stroke-width="0.3"/><polygon transform="translate(112.5,169.8)" points="-0.2,-0.2 16.4,-6.3 54.5,-21.3 118.8,-44.9 119.2,-46.4 47.8,-19.8 13.3,-4.4 0.2,0.6" fill="url(#jzb)" stroke="#001" stroke-opacity="0.26" stroke-width="0.3"/><polygon transform="translate(113,170.1)" points="-0.2,-0.2 12.9,-5.2 47.4,-20.5 118.8,-47.2 119.2,-59.6 47.8,-30.9 44.3,-28.7 37.7,-23.3 22.8,-11.9 13.3,-5.2 8,-2.3 0.2,0.6" fill="url(#jzb)" stroke="#001" stroke-opacity="0.26" stroke-width="0.3"/><polygon transform="translate(113.4,170.4)" points="-0.2,-0.2 7.5,-3.1 12.9,-6 22.4,-12.7 37.3,-24.1 43.8,-29.4 47.4,-31.7 118.8,-60.4 119.2,-55.6 47.8,-27.6 44.3,-25.5 37.7,-20.9 22.8,-10.9 13.3,-5 8,-2.3 0.2,0.6" fill="url(#jzb)" stroke="#001" stroke-opacity="0.26" stroke-width="0.3"/><polyline transform="translate(113.4,170.4)" points="-0.2,-0.2 7.5,-3.1 12.9,-6 22.4,-12.7 37.3,-24.1 43.8,-29.4 47.4,-31.7 118.8,-60.4" fill="none" stroke="#000820" stroke-opacity="0.70" stroke-width="0.50"/><polygon transform="translate(113.9,170.7)" points="-0.2,-0.2 7.5,-3.1 12.9,-5.7 22.4,-11.7 37.3,-21.7 43.8,-26.3 47.4,-28.3 118.8,-56.4 119.2,-51.7 47.8,-24.2 44.3,-22.4 22.8,-9.9 13.3,-4.7 8,-2.3 0.2,0.6" fill="url(#jzb)" stroke="#001" stroke-opacity="0.26" stroke-width="0.3"/><polygon transform="translate(114.4,171)" points="-0.2,-0.2 7.5,-3 12.9,-5.5 22.4,-10.7 43.8,-23.2 47.4,-25 118.8,-52.4 119.2,-47.7 47.8,-20.9 13.3,-4.5 8,-2.3 0.2,0.6" fill="url(#jzb)" stroke="#001" stroke-opacity="0.26" stroke-width="0.3"/><polygon transform="translate(114.8,171.3)" points="-0.2,-0.2 7.5,-3 12.9,-5.2 47.4,-21.6 118.8,-48.5 119.2,-43.7 47.8,-17.5 13.3,-4.2 0.2,0.6" fill="url(#jzb)" stroke="#001" stroke-opacity="0.26" stroke-width="0.3"/><polygon transform="translate(115.3,171.6)" points="-0.2,-0.2 12.9,-5 47.4,-18.3 118.8,-44.5 119.2,-46 45.5,-18.5 11.5,-3.8 0.2,0.6" fill="url(#jzb)" stroke="#001" stroke-opacity="0.26" stroke-width="0.3"/><polygon transform="translate(115.7,171.9)" points="-0.2,-0.2 11.1,-4.5 45,-19.3 118.8,-46.8 119.2,-57.8 45.5,-28.2 41.3,-25.6 35.3,-21.1 19.9,-10.1 11.5,-4.6 6.8,-2 0.2,0.6" fill="url(#jzb)" stroke="#001" stroke-opacity="0.26" stroke-width="0.3"/><polygon transform="translate(116.2,172.2)" points="-0.2,-0.2 6.3,-2.7 11.1,-5.4 19.4,-10.8 34.9,-21.9 40.8,-26.4 45,-29 118.8,-58.5 119.2,-54.2 45.5,-25.3 41.3,-23 35.3,-19 19.9,-9.3 11.5,-4.4 5.6,-1.9 0.2,0.6" fill="url(#jzb)" stroke="#001" stroke-opacity="0.26" stroke-width="0.3"/><polyline transform="translate(116.2,172.2)" points="-0.2,-0.2 6.3,-2.7 11.1,-5.4 19.4,-10.8 34.9,-21.9 40.8,-26.4 45,-29 118.8,-58.5" fill="none" stroke="#000820" stroke-opacity="0.70" stroke-width="0.50"/><polygon transform="translate(116.7,172.5)" points="-0.2,-0.2 5.1,-2.7 11.1,-5.1 19.4,-10 34.9,-19.8 40.8,-23.7 45,-26.1 118.8,-55 119.2,-50.7 45.5,-22.4 41.3,-20.3 19.9,-8.4 11.5,-4.1 8.6,-2.7 0.2,0.6" fill="url(#jzb)" stroke="#001" stroke-opacity="0.26" stroke-width="0.3"/><polygon transform="translate(117.1,172.8)" points="-0.2,-0.2 8.1,-3.4 11.1,-4.9 19.4,-9.2 40.8,-21.1 45,-23.1 118.8,-51.5 119.2,-47.2 45.5,-19.5 11.5,-3.9 0.2,0.6" fill="url(#jzb)" stroke="#001" stroke-opacity="0.26" stroke-width="0.3"/><polygon transform="translate(117.6,173.1)" points="-0.2,-0.2 11.1,-4.6 45,-20.2 118.8,-47.9 119.2,-43.8 25.8,-9.3 0.2,0.6" fill="url(#jzb)" stroke="#001" stroke-opacity="0.26" stroke-width="0.3"/><polygon transform="translate(118.1,173.4)" points="-0.2,-0.2 25.4,-10.1 118.8,-44.5 119.2,-50.4 43.7,-22.7 34.7,-18.1 6.2,-2.1 3.2,-0.6 0.2,0.6" fill="url(#jzb)" stroke="#001" stroke-opacity="0.26" stroke-width="0.3"/><polygon transform="translate(118.5,173.7)" points="-0.2,-0.2 2.7,-1.3 5.7,-2.8 34.3,-18.9 43.2,-23.4 118.8,-51.2 119.2,-78.9 60.3,-57 44.9,-51.1 43.7,-50.5 41.3,-48.5 34.7,-41.3 5,-2.4 2.6,-0.4 0.2,0.6" fill="url(#jzb)" stroke="#001" stroke-opacity="0.26" stroke-width="0.3"/><polygon transform="translate(119,174)" points="-0.2,-0.2 2.1,-1.1 4.5,-3.1 34.3,-42 40.8,-49.3 43.2,-51.2 44.4,-51.8 59.9,-57.8 118.8,-79.6 119.2,-66.3 60.3,-44.5 43.7,-38.1 41.3,-36.6 34.7,-31 5,-1.9 2.6,-0.3 0.2,0.6" fill="url(#jzb)" stroke="#001" stroke-opacity="0.26" stroke-width="0.3"/><polyline transform="translate(119,174)" points="-0.2,-0.2 2.1,-1.1 4.5,-3.1 34.3,-42 40.8,-49.3 43.2,-51.2 44.4,-51.8 59.9,-57.8 118.8,-79.6" fill="none" stroke="#000820" stroke-opacity="0.70" stroke-width="0.50"/><polygon transform="translate(119.5,174.3)" points="-0.2,-0.2 2.1,-1.1 4.5,-2.7 34.3,-31.8 40.8,-37.3 43.2,-38.9 59.9,-45.3 118.8,-67 119.2,-53.7 43.7,-25.8 41.3,-24.6 34.7,-20.8 5,-1.5 2.6,-0.3 0.2,0.6" fill="url(#jzb)" stroke="#001" stroke-opacity="0.26" stroke-width="0.3"/><polygon transform="translate(119.9,174.6)" points="-0.2,-0.2 2.1,-1 4.5,-2.3 34.3,-21.5 40.8,-25.4 43.2,-26.6 118.8,-54.4 119.2,-64 80.6,-47.8 76.4,-45 69.3,-38.6 57.4,-28.6 44.9,-24 41.3,-22.4 34.1,-18.5 5.6,-1.8 3.2,-0.5 0.2,0.6" fill="url(#jzb)" stroke="#001" stroke-opacity="0.26" stroke-width="0.3"/><polygon transform="translate(120.4,174.9)" points="-0.2,-0.2 2.7,-1.3 5.1,-2.5 33.7,-19.3 40.8,-23.1 44.4,-24.7 56.9,-29.4 68.8,-39.3 75.9,-45.7 80.1,-48.6 118.8,-64.7 119.2,-54 80.6,-38.8 76.4,-36.5 65.7,-29.8 44.9,-22.1 41.9,-20.9 34.7,-17.3 6.8,-2.3 0.2,0.6" fill="url(#jzb)" stroke="#001" stroke-opacity="0.26" stroke-width="0.3"/><polyline transform="translate(120.4,174.9)" points="-0.2,-0.2 2.7,-1.3 5.1,-2.5 33.7,-19.3 40.8,-23.1 44.4,-24.7 56.9,-29.4 68.8,-39.3 75.9,-45.7 80.1,-48.6 118.8,-64.7" fill="none" stroke="#000820" stroke-opacity="0.70" stroke-width="0.50"/><polygon transform="translate(120.8,175.2)" points="-0.2,-0.2 6.3,-3.1 34.3,-18.1 41.4,-21.6 44.4,-22.9 65.2,-30.6 75.9,-37.3 80.1,-39.5 118.8,-54.7 119.2,-48 43.7,-20.3 35.9,-16.7 24.6,-11.1 21.1,-9.6 8,-3.1 3.2,-1.1 0.2,0.4" fill="url(#jzb)" stroke="#001" stroke-opacity="0.26" stroke-width="0.3"/><polygon transform="translate(121.3,175.5)" points="-0.2,-0.3 2.7,-1.9 7.5,-3.8 20.6,-10.4 24.2,-11.9 35.5,-17.5 43.2,-21 118.8,-48.7 119.2,-45.3 43.7,-17.6 5.6,-1.5 0.2,0.6" fill="url(#jzb)" stroke="#001" stroke-opacity="0.26" stroke-width="0.3"/><polygon transform="translate(121.8,175.8)" points="-0.2,-0.2 5.1,-2.2 43.2,-18.4 118.8,-46 119.2,-43.7 43.7,-16 0.2,0.6" fill="url(#jzb)" stroke="#001" stroke-opacity="0.26" stroke-width="0.3"/><line x1="52.5" y1="130.6" x2="52.5" y2="68.6" stroke="#555" stroke-width="0.30"/><line x1="52.5" y1="130.6" x2="122.0" y2="176.0" stroke="#555" stroke-width="0.30"/><line x1="122.0" y1="176.0" x2="241.0" y2="132.5" stroke="#555" stroke-width="0.30"/><line x1="52.5" y1="130.6" x2="51.2" y2="130.1" stroke="#555" stroke-width="0.30"/><text x="48.1" y="131.5" font-size="4.1" text-anchor="end" style="font-family:'Liberation Sans',sans-serif" fill="#3a3a3a">0</text><line x1="52.5" y1="115.1" x2="51.2" y2="114.6" stroke="#555" stroke-width="0.30"/><text x="48.1" y="116.0" font-size="4.1" text-anchor="end" style="font-family:'Liberation Sans',sans-serif" fill="#3a3a3a">50</text><line x1="52.5" y1="99.6" x2="51.2" y2="99.1" stroke="#555" stroke-width="0.30"/><text x="48.1" y="100.5" font-size="4.1" text-anchor="end" style="font-family:'Liberation Sans',sans-serif" fill="#3a3a3a">100</text><line x1="52.5" y1="84.1" x2="51.2" y2="83.6" stroke="#555" stroke-width="0.30"/><text x="48.1" y="85.0" font-size="4.1" text-anchor="end" style="font-family:'Liberation Sans',sans-serif" fill="#3a3a3a">150</text><line x1="52.5" y1="68.6" x2="51.2" y2="68.1" stroke="#555" stroke-width="0.30"/><text x="48.1" y="69.5" font-size="4.1" text-anchor="end" style="font-family:'Liberation Sans',sans-serif" fill="#3a3a3a">200</text><line x1="52.5" y1="130.6" x2="51.3" y2="131.5" stroke="#555" stroke-width="0.30"/><text x="47.0" y="138.1" font-size="4.1" text-anchor="middle" style="font-family:'Liberation Sans',sans-serif" fill="#3a3a3a">0</text><line x1="75.7" y1="145.7" x2="74.5" y2="146.6" stroke="#555" stroke-width="0.30"/><text x="68.6" y="152.7" font-size="4.1" text-anchor="middle" style="font-family:'Liberation Sans',sans-serif" fill="#3a3a3a">50</text><line x1="98.8" y1="160.9" x2="97.6" y2="161.8" stroke="#555" stroke-width="0.30"/><text x="90.2" y="168.1" font-size="4.1" text-anchor="middle" style="font-family:'Liberation Sans',sans-serif" fill="#3a3a3a">100</text><line x1="122.0" y1="176.0" x2="120.8" y2="176.9" stroke="#555" stroke-width="0.30"/><text x="113.2" y="183.0" font-size="4.1" text-anchor="middle" style="font-family:'Liberation Sans',sans-serif" fill="#3a3a3a">150</text><line x1="151.8" y1="165.1" x2="152.9" y2="166.0" stroke="#555" stroke-width="0.30"/><text x="157.9" y="173.2" font-size="4.1" text-anchor="middle" style="font-family:'Liberation Sans',sans-serif" fill="#3a3a3a">50</text><line x1="181.5" y1="154.2" x2="182.7" y2="155.2" stroke="#555" stroke-width="0.30"/><text x="188.4" y="161.9" font-size="4.1" text-anchor="middle" style="font-family:'Liberation Sans',sans-serif" fill="#3a3a3a">100</text><line x1="211.2" y1="143.4" x2="212.4" y2="144.3" stroke="#555" stroke-width="0.30"/><text x="218.5" y="150.3" font-size="4.1" text-anchor="middle" style="font-family:'Liberation Sans',sans-serif" fill="#3a3a3a">150</text><line x1="241.0" y1="132.5" x2="242.2" y2="133.4" stroke="#555" stroke-width="0.30"/><text x="248.4" y="139.0" font-size="4.1" text-anchor="middle" style="font-family:'Liberation Sans',sans-serif" fill="#3a3a3a">200</text><text x="83" y="179.2" font-size="4.5" text-anchor="middle" style="font-family:'Liberation Sans',sans-serif" fill="#3a3a3a">Nodes</text><text x="172" y="179.0" font-size="4.5" text-anchor="middle" style="font-family:'Liberation Sans',sans-serif" fill="#3a3a3a">Time</text><text transform="translate(37.6,100.8) rotate(-90)" font-size="4.5" text-anchor="middle" style="font-family:'Liberation Sans',sans-serif" fill="#3a3a3a">Number of passengers</text></g>
<text x="285.4" y="20.8" font-size="7.17" text-anchor="middle" stroke="#333" stroke-width="0.1" style="font-family:'Liberation Serif',serif" fill="#141414">The number of passengers is at the same level</text>
<line x1="285.8" y1="23.3" x2="199.3" y2="61.6" stroke="#f41414" stroke-width="1.70"/><polygon points="194.8,63.6 198.7,59.1 200.7,63.7" fill="#f41414"/>
<line x1="285.8" y1="23.3" x2="239.4" y2="83.7" stroke="#f41414" stroke-width="1.70"/><polygon points="236.4,87.6 237.7,81.8 241.7,84.8" fill="#f41414"/>
<line x1="285.8" y1="23.3" x2="371.6" y2="88.5" stroke="#14a8ee" stroke-width="1.50"/><polygon points="374.5,90.7 369.9,89.8 372.4,86.6" fill="#14a8ee"/>
<line x1="285.8" y1="23.3" x2="405.1" y2="120.3" stroke="#14a8ee" stroke-width="1.50"/><polygon points="408.0,122.6 403.5,121.5 406.0,118.4" fill="#14a8ee"/>
<defs><linearGradient id="cb1" x1="0" y1="1" x2="0" y2="0"><stop offset="0" stop-color="#000080"/><stop offset="0.03125" stop-color="#00009f"/><stop offset="0.0625" stop-color="#0000bf"/><stop offset="0.09375" stop-color="#0000df"/><stop offset="0.125" stop-color="#0000ff"/><stop offset="0.1562" stop-color="#0020ff"/><stop offset="0.1875" stop-color="#0040ff"/><stop offset="0.2188" stop-color="#0060ff"/><stop offset="0.25" stop-color="#0080ff"/><stop offset="0.2812" stop-color="#009fff"/><stop offset="0.3125" stop-color="#00bfff"/><stop offset="0.3438" stop-color="#00dfff"/><stop offset="0.375" stop-color="#00ffff"/><stop offset="0.4062" stop-color="#20ffdf"/><stop offset="0.4375" stop-color="#40ffbf"/><stop offset="0.4688" stop-color="#60ff9f"/><stop offset="0.5" stop-color="#80ff80"/><stop offset="0.5312" stop-color="#9fff60"/><stop offset="0.5625" stop-color="#bfff40"/><stop offset="0.5938" stop-color="#dfff20"/><stop offset="0.625" stop-color="#ffff00"/><stop offset="0.6562" stop-color="#ffdf00"/><stop offset="0.6875" stop-color="#ffbf00"/><stop offset="0.7188" stop-color="#ff9f00"/><stop offset="0.75" stop-color="#ff8000"/><stop offset="0.7812" stop-color="#ff6000"/><stop offset="0.8125" stop-color="#ff4000"/><stop offset="0.8438" stop-color="#ff2000"/><stop offset="0.875" stop-color="#ff0000"/><stop offset="0.9062" stop-color="#df0000"/><stop offset="0.9375" stop-color="#bf0000"/><stop offset="0.9688" stop-color="#9f0000"/><stop offset="1" stop-color="#800000"/></linearGradient></defs><rect x="504.2" y="24.3" width="5.8" height="153.0" fill="url(#cb1)" stroke="#444" stroke-width="0.25"/><text x="512.0" y="178.7" font-size="3.9" style="font-family:'Liberation Sans',sans-serif" fill="#3a3a3a">0</text><line x1="509.0" y1="177.30" x2="510.0" y2="177.30" stroke="#444" stroke-width="0.25"/><text x="512.0" y="127.7" font-size="3.9" style="font-family:'Liberation Sans',sans-serif" fill="#3a3a3a">50</text><line x1="509.0" y1="126.30" x2="510.0" y2="126.30" stroke="#444" stroke-width="0.25"/><text x="512.0" y="76.7" font-size="3.9" style="font-family:'Liberation Sans',sans-serif" fill="#3a3a3a">100</text><line x1="509.0" y1="75.30" x2="510.0" y2="75.30" stroke="#444" stroke-width="0.25"/><text x="512.0" y="25.7" font-size="3.9" style="font-family:'Liberation Sans',sans-serif" fill="#3a3a3a">150</text><line x1="509.0" y1="24.30" x2="510.0" y2="24.30" stroke="#444" stroke-width="0.25"/>
<defs><linearGradient id="cb2" x1="0" y1="1" x2="0" y2="0"><stop offset="0" stop-color="#000080"/><stop offset="0.03125" stop-color="#00009f"/><stop offset="0.0625" stop-color="#0000bf"/><stop offset="0.09375" stop-color="#0000df"/><stop offset="0.125" stop-color="#0000ff"/><stop offset="0.1562" stop-color="#0020ff"/><stop offset="0.1875" stop-color="#0040ff"/><stop offset="0.2188" stop-color="#0060ff"/><stop offset="0.25" stop-color="#0080ff"/><stop offset="0.2812" stop-color="#009fff"/><stop offset="0.3125" stop-color="#00bfff"/><stop offset="0.3438" stop-color="#00dfff"/><stop offset="0.375" stop-color="#00ffff"/><stop offset="0.4062" stop-color="#20ffdf"/><stop offset="0.4375" stop-color="#40ffbf"/><stop offset="0.4688" stop-color="#60ff9f"/><stop offset="0.5" stop-color="#80ff80"/><stop offset="0.5312" stop-color="#9fff60"/><stop offset="0.5625" stop-color="#bfff40"/><stop offset="0.5938" stop-color="#dfff20"/><stop offset="0.625" stop-color="#ffff00"/><stop offset="0.6562" stop-color="#ffdf00"/><stop offset="0.6875" stop-color="#ffbf00"/><stop offset="0.7188" stop-color="#ff9f00"/><stop offset="0.75" stop-color="#ff8000"/><stop offset="0.7812" stop-color="#ff6000"/><stop offset="0.8125" stop-color="#ff4000"/><stop offset="0.8438" stop-color="#ff2000"/><stop offset="0.875" stop-color="#ff0000"/><stop offset="0.9062" stop-color="#df0000"/><stop offset="0.9375" stop-color="#bf0000"/><stop offset="0.9688" stop-color="#9f0000"/><stop offset="1" stop-color="#800000"/></linearGradient></defs><rect x="504.2" y="236.0" width="5.8" height="152.3" fill="url(#cb2)" stroke="#444" stroke-width="0.25"/><text x="512.0" y="389.7" font-size="3.9" style="font-family:'Liberation Sans',sans-serif" fill="#3a3a3a">0</text><line x1="509.0" y1="388.30" x2="510.0" y2="388.30" stroke="#444" stroke-width="0.25"/><text x="512.0" y="374.5" font-size="3.9" style="font-family:'Liberation Sans',sans-serif" fill="#3a3a3a">0.5</text><line x1="509.0" y1="373.07" x2="510.0" y2="373.07" stroke="#444" stroke-width="0.25"/><text x="512.0" y="359.2" font-size="3.9" style="font-family:'Liberation Sans',sans-serif" fill="#3a3a3a">1</text><line x1="509.0" y1="357.84" x2="510.0" y2="357.84" stroke="#444" stroke-width="0.25"/><text x="512.0" y="344.0" font-size="3.9" style="font-family:'Liberation Sans',sans-serif" fill="#3a3a3a">1.5</text><line x1="509.0" y1="342.61" x2="510.0" y2="342.61" stroke="#444" stroke-width="0.25"/><text x="512.0" y="328.8" font-size="3.9" style="font-family:'Liberation Sans',sans-serif" fill="#3a3a3a">2</text><line x1="509.0" y1="327.38" x2="510.0" y2="327.38" stroke="#444" stroke-width="0.25"/><text x="512.0" y="313.5" font-size="3.9" style="font-family:'Liberation Sans',sans-serif" fill="#3a3a3a">2.5</text><line x1="509.0" y1="312.15" x2="510.0" y2="312.15" stroke="#444" stroke-width="0.25"/><text x="512.0" y="298.3" font-size="3.9" style="font-family:'Liberation Sans',sans-serif" fill="#3a3a3a">3</text><line x1="509.0" y1="296.92" x2="510.0" y2="296.92" stroke="#444" stroke-width="0.25"/><text x="512.0" y="283.1" font-size="3.9" style="font-family:'Liberation Sans',sans-serif" fill="#3a3a3a">3.5</text><line x1="509.0" y1="281.69" x2="510.0" y2="281.69" stroke="#444" stroke-width="0.25"/><text x="512.0" y="267.9" font-size="3.9" style="font-family:'Liberation Sans',sans-serif" fill="#3a3a3a">4</text><line x1="509.0" y1="266.46" x2="510.0" y2="266.46" stroke="#444" stroke-width="0.25"/><text x="512.0" y="252.6" font-size="3.9" style="font-family:'Liberation Sans',sans-serif" fill="#3a3a3a">4.5</text><line x1="509.0" y1="251.23" x2="510.0" y2="251.23" stroke="#444" stroke-width="0.25"/><text x="512.0" y="237.4" font-size="3.9" style="font-family:'Liberation Sans',sans-serif" fill="#3a3a3a">5</text><line x1="509.0" y1="236.00" x2="510.0" y2="236.00" stroke="#444" stroke-width="0.25"/>
<defs><linearGradient id="hc1"><stop offset="0" stop-color="#0000ee"/><stop offset="0.275" stop-color="#0000ae" stop-opacity="0"/><stop offset="1" stop-color="#0000aa" stop-opacity="0"/></linearGradient><linearGradient id="hc2"><stop offset="0" stop-color="#004dff"/><stop offset="0.275" stop-color="#0000bd"/><stop offset="1" stop-color="#0000b2"/></linearGradient><linearGradient id="hc3"><stop offset="0" stop-color="#0042ff"/><stop offset="0.025" stop-color="#0082ff"/><stop offset="1" stop-color="#009eff"/></linearGradient><linearGradient id="hc4"><stop offset="0" stop-color="#05fffa"/><stop offset="0.025" stop-color="#94ff6b"/><stop offset="1" stop-color="#d1ff2e"/></linearGradient><linearGradient id="hc5"><stop offset="0" stop-color="#004bff"/><stop offset="0.015" stop-color="#00deff"/><stop offset="1" stop-color="#00e7ff"/></linearGradient><linearGradient id="hc6"><stop offset="0" stop-color="#1affe5"/><stop offset="0.0075" stop-color="#bdff42"/><stop offset="0.015" stop-color="#ff9e00"/><stop offset="1" stop-color="#ff8a00"/></linearGradient><linearGradient id="hc7"><stop offset="0" stop-color="#0000a5" stop-opacity="0"/><stop offset="0.865" stop-color="#0000a5" stop-opacity="0"/><stop offset="0.868" stop-color="#0047ff"/><stop offset="0.87" stop-color="#00e7ff"/><stop offset="1" stop-color="#00f0ff"/></linearGradient><linearGradient id="hc8"><stop offset="0" stop-color="#0000a8" stop-opacity="0"/><stop offset="0.865" stop-color="#0000a8" stop-opacity="0"/><stop offset="0.866" stop-color="#0038ff"/><stop offset="0.867" stop-color="#00c7ff"/><stop offset="0.868" stop-color="#57ffa8"/><stop offset="0.869" stop-color="#e6ff19"/><stop offset="0.87" stop-color="#ff8a00"/><stop offset="1" stop-color="#ff7500"/></linearGradient><linearGradient id="hc9"><stop offset="0" stop-color="#0000a5" stop-opacity="0"/><stop offset="0.915" stop-color="#0000a5" stop-opacity="0"/><stop offset="0.96" stop-color="#0039ff"/><stop offset="1" stop-color="#0039ff"/></linearGradient><linearGradient id="hc10"><stop offset="0" stop-color="#0000a8" stop-opacity="0"/><stop offset="0.915" stop-color="#0000a8" stop-opacity="0"/><stop offset="0.938" stop-color="#004dff"/><stop offset="0.96" stop-color="#00f0ff"/><stop offset="1" stop-color="#00f0ff"/></linearGradient><linearGradient id="hc11"><stop offset="0" stop-color="#0026ff"/><stop offset="0.07" stop-color="#0000a5" stop-opacity="0"/><stop offset="1" stop-color="#0000a5" stop-opacity="0"/></linearGradient><linearGradient id="hc12"><stop offset="0" stop-color="#00c7ff"/><stop offset="0.035" stop-color="#0038ff"/><stop offset="0.07" stop-color="#0000a8" stop-opacity="0"/><stop offset="1" stop-color="#0000a8" stop-opacity="0"/></linearGradient><linearGradient id="hc13"><stop offset="0" stop-color="#0042ff"/><stop offset="0.04" stop-color="#0030ff"/><stop offset="0.1" stop-color="#0000c0"/><stop offset="0.15" stop-color="#0000a5" stop-opacity="0"/><stop offset="1" stop-color="#0000a5" stop-opacity="0"/></linearGradient><linearGradient id="hc14"><stop offset="0" stop-color="#05fffa"/><stop offset="0.04" stop-color="#00dbff"/><stop offset="0.07" stop-color="#0061ff"/><stop offset="0.1" stop-color="#0000e6"/><stop offset="0.15" stop-color="#0000a8" stop-opacity="0"/><stop offset="1" stop-color="#0000a8" stop-opacity="0"/></linearGradient><linearGradient id="hc15"><stop offset="0" stop-color="#0000ca"/><stop offset="0.09" stop-color="#0042ff"/><stop offset="1" stop-color="#008bff"/></linearGradient><linearGradient id="hc16"><stop offset="0" stop-color="#0000fa"/><stop offset="0.045" stop-color="#0080ff"/><stop offset="0.09" stop-color="#05fffa"/><stop offset="0.3" stop-color="#1affe5"/><stop offset="0.7" stop-color="#80ff80"/><stop offset="1" stop-color="#a8ff57"/></linearGradient><linearGradient id="hc17"><stop offset="0" stop-color="#0000e5"/><stop offset="0.65" stop-color="#004bff"/><stop offset="0.685" stop-color="#0082ff"/><stop offset="0.875" stop-color="#008bff"/><stop offset="0.9" stop-color="#0067ff"/><stop offset="1" stop-color="#005eff"/></linearGradient><linearGradient id="hc18"><stop offset="0" stop-color="#0038ff"/><stop offset="0.2" stop-color="#0061ff"/><stop offset="0.65" stop-color="#1affe5"/><stop offset="0.685" stop-color="#94ff6b"/><stop offset="0.875" stop-color="#a8ff57"/><stop offset="0.9" stop-color="#57ffa8"/><stop offset="1" stop-color="#42ffbd"/></linearGradient><linearGradient id="hc19"><stop offset="0" stop-color="#0000dc"/><stop offset="0.2" stop-color="#0000ee"/><stop offset="0.315" stop-color="#0039ff"/><stop offset="0.55" stop-color="#0079ff"/><stop offset="0.565" stop-color="#00e7ff"/><stop offset="0.87" stop-color="#00f0ff"/><stop offset="0.88" stop-color="#56ffa9"/><stop offset="1" stop-color="#60ff9f"/></linearGradient><linearGradient id="hc20"><stop offset="0" stop-color="#0024ff"/><stop offset="0.2" stop-color="#004dff"/><stop offset="0.315" stop-color="#00f0ff"/><stop offset="0.55" stop-color="#80ff80"/><stop offset="0.557" stop-color="#faff05"/><stop offset="0.565" stop-color="#ff8a00"/><stop offset="0.87" stop-color="#ff7500"/><stop offset="0.88" stop-color="#940000"/><stop offset="1" stop-color="#800000"/></linearGradient><linearGradient id="hc21"><stop offset="0" stop-color="#0000ee"/><stop offset="0.075" stop-color="#0000a5" stop-opacity="0"/><stop offset="1" stop-color="#0000a5" stop-opacity="0"/></linearGradient><linearGradient id="hc22"><stop offset="0" stop-color="#004dff"/><stop offset="0.04" stop-color="#0000e6"/><stop offset="0.075" stop-color="#0000a8" stop-opacity="0"/><stop offset="1" stop-color="#0000a8" stop-opacity="0"/></linearGradient><linearGradient id="hc23"><stop offset="0" stop-color="#0000fa"/><stop offset="1" stop-color="#0000e6"/></linearGradient><linearGradient id="hc24"><stop offset="0" stop-color="#0000a5" stop-opacity="0"/><stop offset="0.5" stop-color="#0000a5" stop-opacity="0"/><stop offset="0.675" stop-color="#0000ee"/><stop offset="1" stop-color="#0014ff"/></linearGradient><linearGradient id="hc25"><stop offset="0" stop-color="#0000a8" stop-opacity="0"/><stop offset="0.5" stop-color="#0000a8" stop-opacity="0"/><stop offset="0.675" stop-color="#004dff"/><stop offset="1" stop-color="#009eff"/></linearGradient><linearGradient id="hc26"><stop offset="0" stop-color="#0000dc"/><stop offset="0.2" stop-color="#0000ee"/><stop offset="0.75" stop-color="#0079ff"/><stop offset="1" stop-color="#0082ff"/></linearGradient><linearGradient id="hc27"><stop offset="0" stop-color="#0024ff"/><stop offset="0.2" stop-color="#004dff"/><stop offset="0.475" stop-color="#00e5ff"/><stop offset="0.75" stop-color="#80ff80"/><stop offset="1" stop-color="#94ff6b"/></linearGradient><linearGradient id="hc28"><stop offset="0" stop-color="#0000dc"/><stop offset="0.25" stop-color="#0000ee"/><stop offset="0.45" stop-color="#0026ff"/><stop offset="1" stop-color="#0039ff"/></linearGradient><linearGradient id="hc29"><stop offset="0" stop-color="#0024ff"/><stop offset="0.25" stop-color="#004dff"/><stop offset="0.45" stop-color="#00c7ff"/><stop offset="1" stop-color="#00f0ff"/></linearGradient><linearGradient id="hc30"><stop offset="0" stop-color="#0000dc"/><stop offset="0.3" stop-color="#0000ee"/><stop offset="0.5" stop-color="#001dff"/><stop offset="1" stop-color="#0039ff"/></linearGradient><linearGradient id="hc31"><stop offset="0" stop-color="#0024ff"/><stop offset="0.3" stop-color="#004dff"/><stop offset="0.5" stop-color="#00b2ff"/><stop offset="1" stop-color="#00f0ff"/></linearGradient><linearGradient id="hc32"><stop offset="0" stop-color="#0039ff"/><stop offset="0.025" stop-color="#005eff"/><stop offset="0.04" stop-color="#00deff"/><stop offset="1" stop-color="#00e7ff"/></linearGradient><linearGradient id="hc33"><stop offset="0" stop-color="#00f0ff"/><stop offset="0.025" stop-color="#42ffbd"/><stop offset="0.0325" stop-color="#d1ff2e"/><stop offset="0.04" stop-color="#ff9e00"/><stop offset="1" stop-color="#ff8a00"/></linearGradient><linearGradient id="hc34"><stop offset="0" stop-color="#0039ff"/><stop offset="0.05" stop-color="#0026ff"/><stop offset="0.125" stop-color="#0000ca"/><stop offset="0.175" stop-color="#0000a5" stop-opacity="0"/><stop offset="1" stop-color="#0000a5" stop-opacity="0"/></linearGradient><linearGradient id="hc35"><stop offset="0" stop-color="#00f0ff"/><stop offset="0.05" stop-color="#00c7ff"/><stop offset="0.125" stop-color="#0000fa"/><stop offset="0.175" stop-color="#0000a8" stop-opacity="0"/><stop offset="1" stop-color="#0000a8" stop-opacity="0"/></linearGradient><linearGradient id="hc36"><stop offset="0" stop-color="#0000c0"/><stop offset="1" stop-color="#0000d7"/></linearGradient><linearGradient id="hc37"><stop offset="0" stop-color="#0000e6"/><stop offset="0.3" stop-color="#000fff"/><stop offset="1" stop-color="#0019ff"/></linearGradient><linearGradient id="hc38"><stop offset="0" stop-color="#0000b7"/><stop offset="0.11" stop-color="#0030ff"/><stop offset="0.315" stop-color="#0000ee"/><stop offset="1" stop-color="#0000d3"/></linearGradient><linearGradient id="hc39"><stop offset="0" stop-color="#0000d1"/><stop offset="0.055" stop-color="#0057ff"/><stop offset="0.11" stop-color="#00dbff"/><stop offset="0.315" stop-color="#004dff"/><stop offset="0.6" stop-color="#0024ff"/><stop offset="1" stop-color="#000fff"/></linearGradient><linearGradient id="hc40"><stop offset="0" stop-color="#0000dc"/><stop offset="0.25" stop-color="#0000ee"/><stop offset="0.45" stop-color="#0026ff"/><stop offset="1" stop-color="#0067ff"/></linearGradient><linearGradient id="hc41"><stop offset="0" stop-color="#0024ff"/><stop offset="0.25" stop-color="#004dff"/><stop offset="0.45" stop-color="#00c7ff"/><stop offset="0.685" stop-color="#1affe5"/><stop offset="1" stop-color="#57ffa8"/></linearGradient><linearGradient id="hc42"><stop offset="0" stop-color="#0000dc"/><stop offset="1" stop-color="#001dff"/></linearGradient><linearGradient id="hc43"><stop offset="0" stop-color="#0024ff"/><stop offset="1" stop-color="#00b2ff"/></linearGradient><linearGradient id="hc44"><stop offset="0" stop-color="#0000d3"/><stop offset="1" stop-color="#0000e5"/></linearGradient><linearGradient id="hc45"><stop offset="0" stop-color="#000fff"/><stop offset="1" stop-color="#0038ff"/></linearGradient><linearGradient id="hc46"><stop offset="0" stop-color="#0000ee"/><stop offset="0.06" stop-color="#0000a5" stop-opacity="0"/><stop offset="1" stop-color="#0000a5" stop-opacity="0"/></linearGradient><linearGradient id="hc47"><stop offset="0" stop-color="#004dff"/><stop offset="0.03" stop-color="#0000e6"/><stop offset="0.06" stop-color="#0000a8" stop-opacity="0"/><stop offset="1" stop-color="#0000a8" stop-opacity="0"/></linearGradient><linearGradient id="hc48"><stop offset="0" stop-color="#004bff"/><stop offset="0.175" stop-color="#005eff"/><stop offset="0.2" stop-color="#00b9ff"/><stop offset="1" stop-color="#00b9ff"/></linearGradient><linearGradient id="hc49"><stop offset="0" stop-color="#1affe5"/><stop offset="0.175" stop-color="#42ffbd"/><stop offset="0.2" stop-color="#fff000"/><stop offset="1" stop-color="#fff000"/></linearGradient><linearGradient id="hc50"><stop offset="0" stop-color="#0082ff"/><stop offset="0.05" stop-color="#00a7ff"/><stop offset="0.18" stop-color="#00b0ff"/><stop offset="0.19" stop-color="#32ffcd"/><stop offset="0.26" stop-color="#32ffcd"/><stop offset="0.275" stop-color="#00deff"/><stop offset="0.315" stop-color="#00d5ff"/><stop offset="0.325" stop-color="#32ffcd"/><stop offset="0.395" stop-color="#32ffcd"/><stop offset="0.405" stop-color="#00f0ff"/><stop offset="0.495" stop-color="#00ccff"/><stop offset="0.505" stop-color="#60ff9f"/><stop offset="0.685" stop-color="#60ff9f"/><stop offset="0.695" stop-color="#00f0ff"/><stop offset="0.82" stop-color="#00ccff"/><stop offset="0.83" stop-color="#32ffcd"/><stop offset="0.965" stop-color="#32ffcd"/><stop offset="0.975" stop-color="#00f0ff"/><stop offset="1" stop-color="#00f0ff"/></linearGradient><linearGradient id="hc51"><stop offset="0" stop-color="#94ff6b"/><stop offset="0.05" stop-color="#e5ff1a"/><stop offset="0.18" stop-color="#faff05"/><stop offset="0.185" stop-color="#ff7500"/><stop offset="0.19" stop-color="#e50000"/><stop offset="0.26" stop-color="#e50000"/><stop offset="0.275" stop-color="#ff9e00"/><stop offset="0.315" stop-color="#ffb300"/><stop offset="0.325" stop-color="#e50000"/><stop offset="0.395" stop-color="#e50000"/><stop offset="0.405" stop-color="#ff7500"/><stop offset="0.495" stop-color="#ffc700"/><stop offset="0.5" stop-color="#ff2400"/><stop offset="0.505" stop-color="#800000"/><stop offset="0.685" stop-color="#800000"/><stop offset="0.69" stop-color="#fa0000"/><stop offset="0.695" stop-color="#ff7500"/><stop offset="0.82" stop-color="#ffc700"/><stop offset="0.83" stop-color="#e50000"/><stop offset="0.965" stop-color="#e50000"/><stop offset="0.975" stop-color="#ff7500"/><stop offset="1" stop-color="#ff7500"/></linearGradient><linearGradient id="hc52"><stop offset="0" stop-color="#008bff"/><stop offset="0.05" stop-color="#00b0ff"/><stop offset="0.205" stop-color="#00b9ff"/><stop offset="0.215" stop-color="#1fffe0"/><stop offset="0.29" stop-color="#1fffe0"/><stop offset="0.3" stop-color="#00e7ff"/><stop offset="0.4" stop-color="#00c3ff"/><stop offset="0.49" stop-color="#0082ff"/><stop offset="0.505" stop-color="#32ffcd"/><stop offset="0.75" stop-color="#32ffcd"/><stop offset="0.76" stop-color="#00ccff"/><stop offset="1" stop-color="#00b9ff"/></linearGradient><linearGradient id="hc53"><stop offset="0" stop-color="#a8ff57"/><stop offset="0.05" stop-color="#faff05"/><stop offset="0.205" stop-color="#fff000"/><stop offset="0.215" stop-color="#ff0f00"/><stop offset="0.29" stop-color="#ff0f00"/><stop offset="0.3" stop-color="#ff8a00"/><stop offset="0.4" stop-color="#ffdb00"/><stop offset="0.49" stop-color="#94ff6b"/><stop offset="0.495" stop-color="#ffe900"/><stop offset="0.5" stop-color="#ff6800"/><stop offset="0.505" stop-color="#e50000"/><stop offset="0.75" stop-color="#e50000"/><stop offset="0.76" stop-color="#ffc700"/><stop offset="1" stop-color="#fff000"/></linearGradient><linearGradient id="hc54"><stop offset="0" stop-color="#0082ff"/><stop offset="0.25" stop-color="#00a7ff"/><stop offset="0.4" stop-color="#009eff"/><stop offset="0.475" stop-color="#0079ff"/><stop offset="0.505" stop-color="#00deff"/><stop offset="0.75" stop-color="#00f0ff"/><stop offset="0.76" stop-color="#00b0ff"/><stop offset="1" stop-color="#009eff"/></linearGradient><linearGradient id="hc55"><stop offset="0" stop-color="#94ff6b"/><stop offset="0.25" stop-color="#e5ff1a"/><stop offset="0.4" stop-color="#d1ff2e"/><stop offset="0.475" stop-color="#80ff80"/><stop offset="0.505" stop-color="#ff9e00"/><stop offset="0.75" stop-color="#ff7500"/><stop offset="0.76" stop-color="#faff05"/><stop offset="1" stop-color="#d1ff2e"/></linearGradient><linearGradient id="hc56"><stop offset="0" stop-color="#00f0ff"/><stop offset="1" stop-color="#05fffa"/></linearGradient><linearGradient id="hc57"><stop offset="0" stop-color="#0039ff"/><stop offset="0.07" stop-color="#0000e5"/><stop offset="1" stop-color="#0000e5"/></linearGradient><linearGradient id="hc58"><stop offset="0" stop-color="#00f0ff"/><stop offset="0.03" stop-color="#00b2ff"/><stop offset="0.07" stop-color="#0038ff"/><stop offset="1" stop-color="#0038ff"/></linearGradient><linearGradient id="hc59"><stop offset="0" stop-color="#05fffa"/><stop offset="1" stop-color="#1affe5"/></linearGradient><linearGradient id="hc60"><stop offset="0" stop-color="#0000e5"/><stop offset="1" stop-color="#0026ff"/></linearGradient><linearGradient id="hc61"><stop offset="0" stop-color="#0038ff"/><stop offset="1" stop-color="#00c7ff"/></linearGradient><linearGradient id="hc62"><stop offset="0" stop-color="#0070ff"/><stop offset="0.125" stop-color="#004bff"/><stop offset="1" stop-color="#0067ff"/></linearGradient><linearGradient id="hc63"><stop offset="0" stop-color="#6bff94"/><stop offset="0.04" stop-color="#42ffbd"/><stop offset="0.125" stop-color="#1affe5"/><stop offset="0.3" stop-color="#42ffbd"/><stop offset="1" stop-color="#57ffa8"/></linearGradient><linearGradient id="hc64"><stop offset="0" stop-color="#001dff"/><stop offset="1" stop-color="#0030ff"/></linearGradient><linearGradient id="hc65"><stop offset="0" stop-color="#00b2ff"/><stop offset="1" stop-color="#00dbff"/></linearGradient><linearGradient id="hc66"><stop offset="0" stop-color="#001dff"/><stop offset="0.2" stop-color="#0026ff"/><stop offset="0.75" stop-color="#0082ff"/><stop offset="1" stop-color="#008bff"/></linearGradient><linearGradient id="hc67"><stop offset="0" stop-color="#00b2ff"/><stop offset="0.2" stop-color="#00c7ff"/><stop offset="0.75" stop-color="#94ff6b"/><stop offset="1" stop-color="#a8ff57"/></linearGradient><linearGradient id="hc68"><stop offset="0" stop-color="#0000a5" stop-opacity="0"/><stop offset="0.3" stop-color="#0000a5" stop-opacity="0"/><stop offset="0.685" stop-color="#0000dc"/><stop offset="1" stop-color="#0000e5"/></linearGradient><linearGradient id="hc69"><stop offset="0" stop-color="#0000a8" stop-opacity="0"/><stop offset="0.3" stop-color="#0000a8" stop-opacity="0"/><stop offset="0.685" stop-color="#0024ff"/><stop offset="1" stop-color="#0038ff"/></linearGradient><linearGradient id="hc70"><stop offset="0" stop-color="#0000e5"/><stop offset="0.4" stop-color="#001dff"/><stop offset="1" stop-color="#003dff"/></linearGradient><linearGradient id="hc71"><stop offset="0" stop-color="#0038ff"/><stop offset="0.4" stop-color="#00b2ff"/><stop offset="0.685" stop-color="#00e5ff"/><stop offset="1" stop-color="#00faff"/></linearGradient><linearGradient id="hc72"><stop offset="0" stop-color="#0042ff"/><stop offset="0.4" stop-color="#004bff"/><stop offset="1" stop-color="#0095ff"/></linearGradient><linearGradient id="hc73"><stop offset="0" stop-color="#05fffa"/><stop offset="0.15" stop-color="#00f0ff"/><stop offset="0.4" stop-color="#1affe5"/><stop offset="0.75" stop-color="#94ff6b"/><stop offset="1" stop-color="#bdff42"/></linearGradient><linearGradient id="hc74"><stop offset="0" stop-color="#0039ff"/><stop offset="0.05" stop-color="#001dff"/><stop offset="0.1" stop-color="#0000ae" stop-opacity="0"/><stop offset="1" stop-color="#0000a5" stop-opacity="0"/></linearGradient><linearGradient id="hc75"><stop offset="0" stop-color="#00f0ff"/><stop offset="0.05" stop-color="#00b2ff"/><stop offset="0.075" stop-color="#0038ff"/><stop offset="0.1" stop-color="#0000bd"/><stop offset="1" stop-color="#0000a8" stop-opacity="0"/></linearGradient><linearGradient id="hc76"><stop offset="0" stop-color="#001dff"/><stop offset="0.3" stop-color="#0000dc"/><stop offset="1" stop-color="#0000d3"/></linearGradient><linearGradient id="hc77"><stop offset="0" stop-color="#00b2ff"/><stop offset="0.3" stop-color="#0024ff"/><stop offset="1" stop-color="#000fff"/></linearGradient><linearGradient id="hc78"><stop offset="0" stop-color="#000bff"/><stop offset="1" stop-color="#0030ff"/></linearGradient><linearGradient id="hc79"><stop offset="0" stop-color="#008aff"/><stop offset="1" stop-color="#00dbff"/></linearGradient><linearGradient id="hc80"><stop offset="0" stop-color="#004bff"/><stop offset="0.11" stop-color="#0054ff"/><stop offset="0.135" stop-color="#0095ff"/><stop offset="1" stop-color="#009eff"/></linearGradient><linearGradient id="hc81"><stop offset="0" stop-color="#1affe5"/><stop offset="0.11" stop-color="#2effd1"/><stop offset="0.135" stop-color="#bdff42"/><stop offset="1" stop-color="#d1ff2e"/></linearGradient></defs><rect x="44.6" y="235.8" width="206.8" height="152.5" fill="#0000a2"/><rect x="44.6" y="271.55" width="206.8" height="2.30" fill="#0000ca"/><rect x="44.6" y="293.90" width="206.8" height="4.20" fill="url(#hc36)"/><rect x="44.6" y="386.00" width="206.8" height="2.60" fill="#0000dc"/><rect x="44.6" y="306.00" width="206.8" height="1.80" fill="url(#hc44)"/><rect x="44.6" y="347.85" width="206.8" height="1.70" fill="url(#hc68)"/><rect x="44.6" y="242.20" width="206.8" height="2.00" fill="url(#hc1)"/><rect x="44.6" y="268.90" width="206.8" height="1.80" fill="url(#hc21)"/><rect x="44.6" y="309.10" width="206.8" height="1.80" fill="url(#hc46)"/><rect x="44.6" y="276.35" width="206.8" height="1.70" fill="url(#hc24)"/><rect x="44.6" y="288.20" width="206.8" height="3.40" fill="#0014ff"/><rect x="44.6" y="334.70" width="206.8" height="3.40" fill="#0014ff"/><rect x="44.6" y="364.70" width="206.8" height="3.60" fill="#0014ff"/><rect x="44.6" y="246.80" width="206.8" height="4.20" fill="#001dff"/><rect x="44.6" y="302.40" width="206.8" height="2.60" fill="url(#hc42)"/><rect x="44.6" y="372.30" width="206.8" height="1.80" fill="url(#hc76)"/><rect x="44.6" y="253.90" width="206.8" height="2.00" fill="url(#hc11)"/><rect x="44.6" y="329.30" width="206.8" height="3.80" fill="url(#hc60)"/><rect x="44.6" y="296.00" width="206.8" height="2.40" fill="url(#hc38)"/><rect x="44.6" y="337.75" width="206.8" height="1.70" fill="url(#hc64)"/><rect x="44.6" y="383.50" width="206.8" height="3.80" fill="url(#hc78)"/><rect x="44.6" y="246.15" width="206.8" height="1.70" fill="url(#hc9)"/><rect x="44.6" y="282.40" width="206.8" height="2.00" fill="url(#hc28)"/><rect x="44.6" y="284.30" width="206.8" height="2.00" fill="url(#hc30)"/><rect x="44.6" y="294.50" width="206.8" height="2.20" fill="url(#hc34)"/><rect x="44.6" y="322.05" width="206.8" height="1.90" fill="url(#hc57)"/><rect x="44.6" y="357.10" width="206.8" height="3.80" fill="url(#hc74)"/><rect x="44.6" y="351.20" width="206.8" height="4.80" fill="url(#hc70)"/><rect x="44.6" y="256.40" width="206.8" height="2.40" fill="url(#hc13)"/><rect x="44.6" y="320.30" width="206.8" height="1.80" fill="#0039ff"/><rect x="44.6" y="325.15" width="206.8" height="1.70" fill="#0042ff"/><rect x="44.6" y="299.60" width="206.8" height="1.80" fill="url(#hc40)"/><rect x="44.6" y="335.45" width="206.8" height="1.90" fill="url(#hc62)"/><rect x="44.6" y="278.10" width="206.8" height="4.00" fill="url(#hc26)"/><rect x="44.6" y="257.60" width="206.8" height="2.60" fill="url(#hc15)"/><rect x="44.6" y="261.20" width="206.8" height="2.60" fill="url(#hc17)"/><rect x="44.6" y="343.90" width="206.8" height="3.20" fill="url(#hc66)"/><rect x="44.6" y="357.45" width="206.8" height="2.90" fill="url(#hc72)"/><rect x="44.6" y="247.15" width="206.8" height="1.90" fill="url(#hc3)"/><rect x="44.6" y="384.55" width="206.8" height="1.90" fill="url(#hc80)"/><rect x="44.6" y="314.00" width="206.8" height="1.80" fill="url(#hc48)"/><rect x="44.6" y="248.40" width="206.8" height="2.10" fill="url(#hc5)"/><rect x="44.6" y="289.00" width="206.8" height="1.80" fill="url(#hc32)"/><rect x="44.6" y="247.40" width="206.8" height="3.20" fill="url(#hc7)"/><rect x="44.6" y="318.65" width="206.8" height="2.30" fill="url(#hc54)"/><rect x="44.6" y="365.45" width="206.8" height="2.10" fill="#0dfff2"/><rect x="44.6" y="317.00" width="206.8" height="2.40" fill="url(#hc52)"/><rect x="44.6" y="264.65" width="206.8" height="1.70" fill="url(#hc19)"/><rect x="44.6" y="315.40" width="206.8" height="2.40" fill="url(#hc50)"/><rect x="44.6" y="272.01" width="206.8" height="1.38" fill="url(#hc23)"/><rect x="44.6" y="294.36" width="206.8" height="3.28" fill="url(#hc37)"/><rect x="44.6" y="386.46" width="206.8" height="1.68" fill="#0024ff"/><rect x="44.6" y="306.46" width="206.8" height="0.88" fill="url(#hc45)"/><rect x="44.6" y="348.31" width="206.8" height="0.78" fill="url(#hc69)"/><rect x="44.6" y="242.66" width="206.8" height="1.08" fill="url(#hc2)"/><rect x="44.6" y="269.36" width="206.8" height="0.88" fill="url(#hc22)"/><rect x="44.6" y="309.56" width="206.8" height="0.88" fill="url(#hc47)"/><rect x="44.6" y="276.81" width="206.8" height="0.78" fill="url(#hc25)"/><rect x="44.6" y="288.89" width="206.8" height="2.02" fill="#009eff"/><rect x="44.6" y="335.39" width="206.8" height="2.02" fill="#009eff"/><rect x="44.6" y="365.39" width="206.8" height="2.22" fill="#009eff"/><rect x="44.6" y="247.49" width="206.8" height="2.82" fill="#00b2ff"/><rect x="44.6" y="302.86" width="206.8" height="1.68" fill="url(#hc43)"/><rect x="44.6" y="372.76" width="206.8" height="0.88" fill="url(#hc77)"/><rect x="44.6" y="254.36" width="206.8" height="1.08" fill="url(#hc12)"/><rect x="44.6" y="329.76" width="206.8" height="2.88" fill="url(#hc61)"/><rect x="44.6" y="296.46" width="206.8" height="1.48" fill="url(#hc39)"/><rect x="44.6" y="338.21" width="206.8" height="0.78" fill="url(#hc65)"/><rect x="44.6" y="384.19" width="206.8" height="2.42" fill="url(#hc79)"/><rect x="44.6" y="246.61" width="206.8" height="0.78" fill="url(#hc10)"/><rect x="44.6" y="282.86" width="206.8" height="1.08" fill="url(#hc29)"/><rect x="44.6" y="284.76" width="206.8" height="1.08" fill="url(#hc31)"/><rect x="44.6" y="294.96" width="206.8" height="1.28" fill="url(#hc35)"/><rect x="44.6" y="322.51" width="206.8" height="0.98" fill="url(#hc58)"/><rect x="44.6" y="357.56" width="206.8" height="2.88" fill="url(#hc75)"/><rect x="44.6" y="351.55" width="206.8" height="4.11" fill="url(#hc71)"/><rect x="44.6" y="256.86" width="206.8" height="1.48" fill="url(#hc14)"/><rect x="44.6" y="320.76" width="206.8" height="0.88" fill="url(#hc56)"/><rect x="44.6" y="325.61" width="206.8" height="0.78" fill="url(#hc59)"/><rect x="44.6" y="300.06" width="206.8" height="0.88" fill="url(#hc41)"/><rect x="44.6" y="335.91" width="206.8" height="0.98" fill="url(#hc63)"/><rect x="44.6" y="278.56" width="206.8" height="3.08" fill="url(#hc27)"/><rect x="44.6" y="258.06" width="206.8" height="1.68" fill="url(#hc16)"/><rect x="44.6" y="261.66" width="206.8" height="1.68" fill="url(#hc18)"/><rect x="44.6" y="344.36" width="206.8" height="2.28" fill="url(#hc67)"/><rect x="44.6" y="357.91" width="206.8" height="1.98" fill="url(#hc73)"/><rect x="44.6" y="247.61" width="206.8" height="0.98" fill="url(#hc4)"/><rect x="44.6" y="385.01" width="206.8" height="0.98" fill="url(#hc81)"/><rect x="44.6" y="314.46" width="206.8" height="0.88" fill="url(#hc49)"/><rect x="44.6" y="248.86" width="206.8" height="1.18" fill="url(#hc6)"/><rect x="44.6" y="289.46" width="206.8" height="0.88" fill="url(#hc33)"/><rect x="44.6" y="247.86" width="206.8" height="2.28" fill="url(#hc8)"/><rect x="44.6" y="319.11" width="206.8" height="1.38" fill="url(#hc55)"/><rect x="44.6" y="365.91" width="206.8" height="1.18" fill="#ff3800"/><rect x="44.6" y="317.46" width="206.8" height="1.48" fill="url(#hc53)"/><rect x="44.6" y="265.11" width="206.8" height="0.78" fill="url(#hc20)"/><rect x="44.6" y="315.86" width="206.8" height="1.48" fill="url(#hc51)"/><line x1="54.9" y1="248.10" x2="223.5" y2="248.10" stroke="#05fffa" stroke-width="0.90" stroke-dasharray="1.99 3.71"/><line x1="189.4" y1="249.55" x2="226.6" y2="249.55" stroke="#e50000" stroke-width="0.80" stroke-dasharray="2.70 6.30"/><line x1="186.3" y1="262.50" x2="226.6" y2="262.50" stroke="#fff000" stroke-width="0.80" stroke-dasharray="1.72 2.58"/><line x1="148.0" y1="283.40" x2="251.4" y2="283.40" stroke="#e5ff1a" stroke-width="0.50" stroke-dasharray="1.50 4.50"/><line x1="63.2" y1="289.90" x2="251.4" y2="289.90" stroke="#80ff80" stroke-width="0.90" stroke-dasharray="1.50 2.79"/><line x1="44.6" y1="314.90" x2="82.9" y2="314.90" stroke="#d1ff2e" stroke-width="1.00" stroke-dasharray="2.15 2.15"/><line x1="86.0" y1="314.90" x2="251.4" y2="314.90" stroke="#e50000" stroke-width="1.00" stroke-dasharray="2.15 2.15"/><line x1="186.3" y1="314.70" x2="251.4" y2="314.70" stroke="#00f0ff" stroke-width="0.80" stroke-dasharray="2.15 6.45"/><line x1="47.7" y1="316.60" x2="81.8" y2="316.60" stroke="#57ffa8" stroke-width="1.20" stroke-dasharray="1.50 3.50"/><line x1="49.8" y1="318.20" x2="86.0" y2="318.20" stroke="#6bff94" stroke-width="1.20" stroke-dasharray="1.80 4.20"/><line x1="73.6" y1="336.40" x2="109.7" y2="336.40" stroke="#ff9e00" stroke-width="1.00" stroke-dasharray="1.05 1.95"/><line x1="109.7" y1="336.40" x2="251.4" y2="336.40" stroke="#fa0000" stroke-width="1.10" stroke-dasharray="1.20 1.80"/><line x1="189.4" y1="345.50" x2="251.4" y2="345.50" stroke="#fff000" stroke-width="0.80" stroke-dasharray="1.75 3.25"/><line x1="215.2" y1="358.90" x2="251.4" y2="358.90" stroke="#fff000" stroke-width="0.80" stroke-dasharray="2.00 3.00"/><line x1="44.6" y1="366.50" x2="251.4" y2="366.50" stroke="#d1ff2e" stroke-width="1.30" stroke-dasharray="1.78 3.31"/><line x1="70.5" y1="385.50" x2="251.4" y2="385.50" stroke="#42ffbd" stroke-width="1.00" stroke-dasharray="2.10 4.90"/><line x1="74.6" y1="385.50" x2="251.4" y2="385.50" stroke="#ffc700" stroke-width="1.00" stroke-dasharray="3.30 7.70"/><rect x="44.6" y="235.8" width="206.8" height="152.5" fill="none" stroke="#335" stroke-opacity="0.35" stroke-width="0.25"/><text x="64.9" y="394.9" font-size="4.1" text-anchor="middle" style="font-family:'Liberation Sans',sans-serif" fill="#3a3a3a">20</text><text x="85.6" y="394.9" font-size="4.1" text-anchor="middle" style="font-family:'Liberation Sans',sans-serif" fill="#3a3a3a">40</text><text x="106.2" y="394.9" font-size="4.1" text-anchor="middle" style="font-family:'Liberation Sans',sans-serif" fill="#3a3a3a">60</text><text x="126.9" y="394.9" font-size="4.1" text-anchor="middle" style="font-family:'Liberation Sans',sans-serif" fill="#3a3a3a">80</text><text x="147.6" y="394.9" font-size="4.1" text-anchor="middle" style="font-family:'Liberation Sans',sans-serif" fill="#3a3a3a">100</text><text x="168.3" y="394.9" font-size="4.1" text-anchor="middle" style="font-family:'Liberation Sans',sans-serif" fill="#3a3a3a">120</text><text x="189.0" y="394.9" font-size="4.1" text-anchor="middle" style="font-family:'Liberation Sans',sans-serif" fill="#3a3a3a">140</text><text x="209.6" y="394.9" font-size="4.1" text-anchor="middle" style="font-family:'Liberation Sans',sans-serif" fill="#3a3a3a">160</text><text x="230.3" y="394.9" font-size="4.1" text-anchor="middle" style="font-family:'Liberation Sans',sans-serif" fill="#3a3a3a">180</text><text x="251.0" y="394.9" font-size="4.1" text-anchor="middle" style="font-family:'Liberation Sans',sans-serif" fill="#3a3a3a">200</text><text x="42.0" y="256.9" font-size="4.1" text-anchor="end" style="font-family:'Liberation Sans',sans-serif" fill="#3a3a3a">20</text><text x="42.0" y="276.9" font-size="4.1" text-anchor="end" style="font-family:'Liberation Sans',sans-serif" fill="#3a3a3a">40</text><text x="42.0" y="297.0" font-size="4.1" text-anchor="end" style="font-family:'Liberation Sans',sans-serif" fill="#3a3a3a">60</text><text x="42.0" y="317.1" font-size="4.1" text-anchor="end" style="font-family:'Liberation Sans',sans-serif" fill="#3a3a3a">80</text><text x="42.0" y="337.1" font-size="4.1" text-anchor="end" style="font-family:'Liberation Sans',sans-serif" fill="#3a3a3a">100</text><text x="42.0" y="357.2" font-size="4.1" text-anchor="end" style="font-family:'Liberation Sans',sans-serif" fill="#3a3a3a">120</text><text x="42.0" y="377.3" font-size="4.1" text-anchor="end" style="font-family:'Liberation Sans',sans-serif" fill="#3a3a3a">140</text><text x="147.0" y="400.6" font-size="4.5" text-anchor="middle" style="font-family:'Liberation Sans',sans-serif" fill="#3a3a3a">Time</text><text transform="translate(34.0,312.3) rotate(-90)" font-size="4.5" text-anchor="middle" style="font-family:'Liberation Sans',sans-serif" fill="#3a3a3a">Nodes</text>
<defs><linearGradient id="hd1"><stop offset="0" stop-color="#0000ee"/><stop offset="0.275" stop-color="#0000ae" stop-opacity="0"/><stop offset="1" stop-color="#0000aa" stop-opacity="0"/></linearGradient><linearGradient id="hd2"><stop offset="0" stop-color="#004dff"/><stop offset="0.275" stop-color="#0000bd"/><stop offset="1" stop-color="#0000b2"/></linearGradient><linearGradient id="hd3"><stop offset="0" stop-color="#0039ff"/><stop offset="0.3" stop-color="#0042ff"/><stop offset="0.33" stop-color="#0070ff"/><stop offset="0.68" stop-color="#0070ff"/><stop offset="0.7" stop-color="#00ccff"/><stop offset="0.85" stop-color="#00a7ff"/><stop offset="0.86" stop-color="#0039ff"/><stop offset="0.96" stop-color="#0039ff"/><stop offset="0.965" stop-color="#00e4ff"/><stop offset="0.97" stop-color="#3bffc4"/><stop offset="1" stop-color="#3bffc4"/></linearGradient><linearGradient id="hd4"><stop offset="0" stop-color="#00f0ff"/><stop offset="0.3" stop-color="#05fffa"/><stop offset="0.33" stop-color="#6bff94"/><stop offset="0.68" stop-color="#6bff94"/><stop offset="0.7" stop-color="#ffc700"/><stop offset="0.85" stop-color="#e5ff1a"/><stop offset="0.855" stop-color="#6bff94"/><stop offset="0.86" stop-color="#00f0ff"/><stop offset="0.96" stop-color="#00f0ff"/><stop offset="0.962" stop-color="#70ff8f"/><stop offset="0.963" stop-color="#efff10"/><stop offset="0.965" stop-color="#ff9100"/><stop offset="0.97" stop-color="#d10000"/><stop offset="1" stop-color="#d10000"/></linearGradient><linearGradient id="hd5"><stop offset="0" stop-color="#32ffcd"/><stop offset="0.015" stop-color="#28ffd7"/><stop offset="0.03" stop-color="#00e7ff"/><stop offset="0.93" stop-color="#00e7ff"/><stop offset="0.94" stop-color="#0042ff"/><stop offset="1" stop-color="#0039ff"/></linearGradient><linearGradient id="hd6"><stop offset="0" stop-color="#e50000"/><stop offset="0.015" stop-color="#fa0000"/><stop offset="0.03" stop-color="#ff8a00"/><stop offset="0.93" stop-color="#ff8a00"/><stop offset="0.933" stop-color="#faff05"/><stop offset="0.937" stop-color="#80ff80"/><stop offset="0.94" stop-color="#05fffa"/><stop offset="1" stop-color="#00f0ff"/></linearGradient><linearGradient id="hd7"><stop offset="0" stop-color="#0026ff"/><stop offset="0.07" stop-color="#0000a5" stop-opacity="0"/><stop offset="1" stop-color="#0000a5" stop-opacity="0"/></linearGradient><linearGradient id="hd8"><stop offset="0" stop-color="#00c7ff"/><stop offset="0.035" stop-color="#0038ff"/><stop offset="0.07" stop-color="#0000a8" stop-opacity="0"/><stop offset="1" stop-color="#0000a8" stop-opacity="0"/></linearGradient><linearGradient id="hd9"><stop offset="0" stop-color="#0042ff"/><stop offset="0.04" stop-color="#0030ff"/><stop offset="0.1" stop-color="#0000c0"/><stop offset="0.15" stop-color="#0000a5" stop-opacity="0"/><stop offset="1" stop-color="#0000a5" stop-opacity="0"/></linearGradient><linearGradient id="hd10"><stop offset="0" stop-color="#05fffa"/><stop offset="0.04" stop-color="#00dbff"/><stop offset="0.07" stop-color="#0061ff"/><stop offset="0.1" stop-color="#0000e6"/><stop offset="0.15" stop-color="#0000a8" stop-opacity="0"/><stop offset="1" stop-color="#0000a8" stop-opacity="0"/></linearGradient><linearGradient id="hd11"><stop offset="0" stop-color="#0000ca"/><stop offset="0.09" stop-color="#004bff"/><stop offset="0.95" stop-color="#00a7ff"/><stop offset="0.97" stop-color="#00deff"/><stop offset="1" stop-color="#00e7ff"/></linearGradient><linearGradient id="hd12"><stop offset="0" stop-color="#0000fa"/><stop offset="0.045" stop-color="#008aff"/><stop offset="0.09" stop-color="#1affe5"/><stop offset="0.5" stop-color="#6bff94"/><stop offset="0.8" stop-color="#d1ff2e"/><stop offset="0.95" stop-color="#e5ff1a"/><stop offset="0.97" stop-color="#ff9e00"/><stop offset="1" stop-color="#ff8a00"/></linearGradient><linearGradient id="hd13"><stop offset="0" stop-color="#0000e5"/><stop offset="0.15" stop-color="#0000f8"/><stop offset="0.25" stop-color="#0030ff"/><stop offset="0.39" stop-color="#004bff"/><stop offset="0.4" stop-color="#008bff"/><stop offset="1" stop-color="#0095ff"/></linearGradient><linearGradient id="hd14"><stop offset="0" stop-color="#0038ff"/><stop offset="0.15" stop-color="#0061ff"/><stop offset="0.25" stop-color="#00dbff"/><stop offset="0.39" stop-color="#1affe5"/><stop offset="0.4" stop-color="#a8ff57"/><stop offset="1" stop-color="#bdff42"/></linearGradient><linearGradient id="hd15"><stop offset="0" stop-color="#0000a5" stop-opacity="0"/><stop offset="0.38" stop-color="#0000a5" stop-opacity="0"/><stop offset="0.39" stop-color="#0030ff"/><stop offset="0.4" stop-color="#00b9ff"/><stop offset="0.455" stop-color="#00d5ff"/><stop offset="1" stop-color="#00b0ff"/></linearGradient><linearGradient id="hd16"><stop offset="0" stop-color="#0000a8" stop-opacity="0"/><stop offset="0.38" stop-color="#0000a8" stop-opacity="0"/><stop offset="0.384" stop-color="#0024ff"/><stop offset="0.388" stop-color="#009eff"/><stop offset="0.392" stop-color="#19ffe6"/><stop offset="0.396" stop-color="#94ff6b"/><stop offset="0.4" stop-color="#fff000"/><stop offset="0.455" stop-color="#ffb300"/><stop offset="0.65" stop-color="#ffb300"/><stop offset="0.68" stop-color="#fff000"/><stop offset="1" stop-color="#faff05"/></linearGradient><linearGradient id="hd17"><stop offset="0" stop-color="#0000dc"/><stop offset="0.15" stop-color="#0000ee"/><stop offset="0.25" stop-color="#0095ff"/><stop offset="0.26" stop-color="#00deff"/><stop offset="0.315" stop-color="#00d5ff"/><stop offset="0.35" stop-color="#00a7ff"/><stop offset="0.55" stop-color="#00b0ff"/><stop offset="0.65" stop-color="#0095ff"/><stop offset="0.68" stop-color="#0026ff"/><stop offset="0.93" stop-color="#0014ff"/><stop offset="0.94" stop-color="#00deff"/><stop offset="1" stop-color="#00e7ff"/></linearGradient><linearGradient id="hd18"><stop offset="0" stop-color="#0024ff"/><stop offset="0.15" stop-color="#004dff"/><stop offset="0.18" stop-color="#00c7ff"/><stop offset="0.21" stop-color="#42ffbd"/><stop offset="0.25" stop-color="#bdff42"/><stop offset="0.26" stop-color="#ff9e00"/><stop offset="0.315" stop-color="#ffb300"/><stop offset="0.35" stop-color="#e5ff1a"/><stop offset="0.55" stop-color="#faff05"/><stop offset="0.65" stop-color="#bdff42"/><stop offset="0.68" stop-color="#00c7ff"/><stop offset="0.93" stop-color="#009eff"/><stop offset="0.933" stop-color="#35ffca"/><stop offset="0.937" stop-color="#caff35"/><stop offset="0.94" stop-color="#ff9e00"/><stop offset="1" stop-color="#ff8a00"/></linearGradient><linearGradient id="hd19"><stop offset="0" stop-color="#0000ee"/><stop offset="0.075" stop-color="#0000a5" stop-opacity="0"/><stop offset="1" stop-color="#0000a5" stop-opacity="0"/></linearGradient><linearGradient id="hd20"><stop offset="0" stop-color="#004dff"/><stop offset="0.04" stop-color="#0000e6"/><stop offset="0.075" stop-color="#0000a8" stop-opacity="0"/><stop offset="1" stop-color="#0000a8" stop-opacity="0"/></linearGradient><linearGradient id="hd21"><stop offset="0" stop-color="#0000fa"/><stop offset="1" stop-color="#0000e6"/></linearGradient><linearGradient id="hd22"><stop offset="0" stop-color="#0000a5" stop-opacity="0"/><stop offset="0.4" stop-color="#0000a5" stop-opacity="0"/><stop offset="0.68" stop-color="#000bff"/><stop offset="0.925" stop-color="#0014ff"/><stop offset="0.95" stop-color="#00ccff"/><stop offset="1" stop-color="#00d5ff"/></linearGradient><linearGradient id="hd23"><stop offset="0" stop-color="#0000a8" stop-opacity="0"/><stop offset="0.4" stop-color="#0000a8" stop-opacity="0"/><stop offset="0.68" stop-color="#008aff"/><stop offset="0.925" stop-color="#009eff"/><stop offset="0.933" stop-color="#27ffd8"/><stop offset="0.942" stop-color="#afff50"/><stop offset="0.95" stop-color="#ffc700"/><stop offset="1" stop-color="#ffb300"/></linearGradient><linearGradient id="hd24"><stop offset="0" stop-color="#0000dc"/><stop offset="0.15" stop-color="#0000ee"/><stop offset="0.45" stop-color="#0067ff"/><stop offset="1" stop-color="#008bff"/></linearGradient><linearGradient id="hd25"><stop offset="0" stop-color="#0024ff"/><stop offset="0.15" stop-color="#004dff"/><stop offset="0.315" stop-color="#00f0ff"/><stop offset="0.45" stop-color="#57ffa8"/><stop offset="0.68" stop-color="#94ff6b"/><stop offset="1" stop-color="#a8ff57"/></linearGradient><linearGradient id="hd26"><stop offset="0" stop-color="#0000dc"/><stop offset="0.2" stop-color="#0000ee"/><stop offset="0.315" stop-color="#0042ff"/><stop offset="1" stop-color="#004bff"/></linearGradient><linearGradient id="hd27"><stop offset="0" stop-color="#0024ff"/><stop offset="0.2" stop-color="#004dff"/><stop offset="0.315" stop-color="#05fffa"/><stop offset="1" stop-color="#1affe5"/></linearGradient><linearGradient id="hd28"><stop offset="0" stop-color="#0000e5"/><stop offset="0.25" stop-color="#0002ff"/><stop offset="0.315" stop-color="#0030ff"/><stop offset="1" stop-color="#0054ff"/></linearGradient><linearGradient id="hd29"><stop offset="0" stop-color="#0038ff"/><stop offset="0.25" stop-color="#0075ff"/><stop offset="0.315" stop-color="#00dbff"/><stop offset="0.68" stop-color="#1affe5"/><stop offset="1" stop-color="#2effd1"/></linearGradient><linearGradient id="hd30"><stop offset="0" stop-color="#0039ff"/><stop offset="0.05" stop-color="#005eff"/><stop offset="1" stop-color="#0079ff"/></linearGradient><linearGradient id="hd31"><stop offset="0" stop-color="#00f0ff"/><stop offset="0.05" stop-color="#42ffbd"/><stop offset="1" stop-color="#80ff80"/></linearGradient><linearGradient id="hd32"><stop offset="0" stop-color="#0039ff"/><stop offset="0.05" stop-color="#0026ff"/><stop offset="0.125" stop-color="#0000ca"/><stop offset="0.175" stop-color="#0000a5" stop-opacity="0"/><stop offset="1" stop-color="#0000a5" stop-opacity="0"/></linearGradient><linearGradient id="hd33"><stop offset="0" stop-color="#00f0ff"/><stop offset="0.05" stop-color="#00c7ff"/><stop offset="0.125" stop-color="#0000fa"/><stop offset="0.175" stop-color="#0000a8" stop-opacity="0"/><stop offset="1" stop-color="#0000a8" stop-opacity="0"/></linearGradient><linearGradient id="hd34"><stop offset="0" stop-color="#0000c0"/><stop offset="1" stop-color="#0000d7"/></linearGradient><linearGradient id="hd35"><stop offset="0" stop-color="#0000e6"/><stop offset="0.3" stop-color="#000fff"/><stop offset="1" stop-color="#0019ff"/></linearGradient><linearGradient id="hd36"><stop offset="0" stop-color="#0000b7"/><stop offset="0.11" stop-color="#0030ff"/><stop offset="0.315" stop-color="#0000ee"/><stop offset="1" stop-color="#0000d3"/></linearGradient><linearGradient id="hd37"><stop offset="0" stop-color="#0000d1"/><stop offset="0.055" stop-color="#0057ff"/><stop offset="0.11" stop-color="#00dbff"/><stop offset="0.315" stop-color="#004dff"/><stop offset="0.6" stop-color="#0024ff"/><stop offset="1" stop-color="#000fff"/></linearGradient><linearGradient id="hd38"><stop offset="0" stop-color="#0000dc"/><stop offset="0.2" stop-color="#0000ee"/><stop offset="0.315" stop-color="#0026ff"/><stop offset="1" stop-color="#0039ff"/></linearGradient><linearGradient id="hd39"><stop offset="0" stop-color="#0024ff"/><stop offset="0.2" stop-color="#004dff"/><stop offset="0.315" stop-color="#00c7ff"/><stop offset="1" stop-color="#00f0ff"/></linearGradient><linearGradient id="hd40"><stop offset="0" stop-color="#0000dc"/><stop offset="1" stop-color="#001dff"/></linearGradient><linearGradient id="hd41"><stop offset="0" stop-color="#0024ff"/><stop offset="0.68" stop-color="#009eff"/><stop offset="1" stop-color="#00b2ff"/></linearGradient><linearGradient id="hd42"><stop offset="0" stop-color="#0000d3"/><stop offset="1" stop-color="#0000e5"/></linearGradient><linearGradient id="hd43"><stop offset="0" stop-color="#000fff"/><stop offset="1" stop-color="#0038ff"/></linearGradient><linearGradient id="hd44"><stop offset="0" stop-color="#0000ee"/><stop offset="0.06" stop-color="#0000a5" stop-opacity="0"/><stop offset="1" stop-color="#0000a5" stop-opacity="0"/></linearGradient><linearGradient id="hd45"><stop offset="0" stop-color="#004dff"/><stop offset="0.03" stop-color="#0000e6"/><stop offset="0.06" stop-color="#0000a8" stop-opacity="0"/><stop offset="1" stop-color="#0000a8" stop-opacity="0"/></linearGradient><linearGradient id="hd46"><stop offset="0" stop-color="#004bff"/><stop offset="0.15" stop-color="#005eff"/><stop offset="0.175" stop-color="#00b9ff"/><stop offset="1" stop-color="#00b9ff"/></linearGradient><linearGradient id="hd47"><stop offset="0" stop-color="#1affe5"/><stop offset="0.15" stop-color="#42ffbd"/><stop offset="0.175" stop-color="#fff000"/><stop offset="1" stop-color="#fff000"/></linearGradient><linearGradient id="hd48"><stop offset="0" stop-color="#0082ff"/><stop offset="0.04" stop-color="#00a7ff"/><stop offset="0.165" stop-color="#00b0ff"/><stop offset="0.175" stop-color="#00deff"/><stop offset="0.235" stop-color="#00ccff"/><stop offset="0.24" stop-color="#0082ff"/><stop offset="0.26" stop-color="#0082ff"/><stop offset="0.27" stop-color="#28ffd7"/><stop offset="0.35" stop-color="#28ffd7"/><stop offset="0.36" stop-color="#00c3ff"/><stop offset="0.415" stop-color="#00b0ff"/><stop offset="0.42" stop-color="#0082ff"/><stop offset="0.44" stop-color="#0082ff"/><stop offset="0.445" stop-color="#32ffcd"/><stop offset="0.575" stop-color="#32ffcd"/><stop offset="0.585" stop-color="#00f0ff"/><stop offset="0.68" stop-color="#00deff"/><stop offset="0.685" stop-color="#009eff"/><stop offset="0.695" stop-color="#009eff"/><stop offset="0.7" stop-color="#60ff9f"/><stop offset="0.815" stop-color="#60ff9f"/><stop offset="0.96" stop-color="#00ccff"/><stop offset="1" stop-color="#00b9ff"/></linearGradient><linearGradient id="hd49"><stop offset="0" stop-color="#94ff6b"/><stop offset="0.04" stop-color="#e5ff1a"/><stop offset="0.165" stop-color="#faff05"/><stop offset="0.175" stop-color="#ff9e00"/><stop offset="0.235" stop-color="#ffc700"/><stop offset="0.24" stop-color="#94ff6b"/><stop offset="0.26" stop-color="#94ff6b"/><stop offset="0.263" stop-color="#fff000"/><stop offset="0.267" stop-color="#ff7500"/><stop offset="0.27" stop-color="#fa0000"/><stop offset="0.35" stop-color="#fa0000"/><stop offset="0.36" stop-color="#ffdb00"/><stop offset="0.415" stop-color="#faff05"/><stop offset="0.42" stop-color="#94ff6b"/><stop offset="0.44" stop-color="#94ff6b"/><stop offset="0.442" stop-color="#ffe900"/><stop offset="0.443" stop-color="#ff6800"/><stop offset="0.445" stop-color="#e50000"/><stop offset="0.575" stop-color="#e50000"/><stop offset="0.585" stop-color="#ff7500"/><stop offset="0.68" stop-color="#ff9e00"/><stop offset="0.685" stop-color="#d1ff2e"/><stop offset="0.695" stop-color="#d1ff2e"/><stop offset="0.697" stop-color="#ff9e00"/><stop offset="0.698" stop-color="#ff0f00"/><stop offset="0.7" stop-color="#800000"/><stop offset="0.815" stop-color="#800000"/><stop offset="0.887" stop-color="#ff2400"/><stop offset="0.96" stop-color="#ffc700"/><stop offset="1" stop-color="#fff000"/></linearGradient><linearGradient id="hd50"><stop offset="0" stop-color="#0082ff"/><stop offset="0.04" stop-color="#00a7ff"/><stop offset="0.165" stop-color="#00b0ff"/><stop offset="0.175" stop-color="#00deff"/><stop offset="0.235" stop-color="#00ccff"/><stop offset="0.24" stop-color="#0082ff"/><stop offset="0.26" stop-color="#0082ff"/><stop offset="0.27" stop-color="#28ffd7"/><stop offset="0.35" stop-color="#28ffd7"/><stop offset="0.36" stop-color="#00c3ff"/><stop offset="0.415" stop-color="#00b0ff"/><stop offset="0.42" stop-color="#0082ff"/><stop offset="0.44" stop-color="#0082ff"/><stop offset="0.445" stop-color="#32ffcd"/><stop offset="0.575" stop-color="#32ffcd"/><stop offset="0.585" stop-color="#00f0ff"/><stop offset="0.68" stop-color="#00deff"/><stop offset="0.685" stop-color="#009eff"/><stop offset="0.695" stop-color="#009eff"/><stop offset="0.7" stop-color="#60ff9f"/><stop offset="0.815" stop-color="#60ff9f"/><stop offset="0.96" stop-color="#00ccff"/><stop offset="1" stop-color="#00b9ff"/></linearGradient><linearGradient id="hd51"><stop offset="0" stop-color="#94ff6b"/><stop offset="0.04" stop-color="#e5ff1a"/><stop offset="0.165" stop-color="#faff05"/><stop offset="0.175" stop-color="#ff9e00"/><stop offset="0.235" stop-color="#ffc700"/><stop offset="0.24" stop-color="#94ff6b"/><stop offset="0.26" stop-color="#94ff6b"/><stop offset="0.263" stop-color="#fff000"/><stop offset="0.267" stop-color="#ff7500"/><stop offset="0.27" stop-color="#fa0000"/><stop offset="0.35" stop-color="#fa0000"/><stop offset="0.36" stop-color="#ffdb00"/><stop offset="0.415" stop-color="#faff05"/><stop offset="0.42" stop-color="#94ff6b"/><stop offset="0.44" stop-color="#94ff6b"/><stop offset="0.442" stop-color="#ffe900"/><stop offset="0.443" stop-color="#ff6800"/><stop offset="0.445" stop-color="#e50000"/><stop offset="0.575" stop-color="#e50000"/><stop offset="0.585" stop-color="#ff7500"/><stop offset="0.68" stop-color="#ff9e00"/><stop offset="0.685" stop-color="#d1ff2e"/><stop offset="0.695" stop-color="#d1ff2e"/><stop offset="0.697" stop-color="#ff9e00"/><stop offset="0.698" stop-color="#ff0f00"/><stop offset="0.7" stop-color="#800000"/><stop offset="0.815" stop-color="#800000"/><stop offset="0.887" stop-color="#ff2400"/><stop offset="0.96" stop-color="#ffc700"/><stop offset="1" stop-color="#fff000"/></linearGradient><linearGradient id="hd52"><stop offset="0" stop-color="#0082ff"/><stop offset="0.165" stop-color="#009eff"/><stop offset="0.27" stop-color="#00deff"/><stop offset="0.35" stop-color="#00deff"/><stop offset="0.36" stop-color="#00a7ff"/><stop offset="0.42" stop-color="#0082ff"/><stop offset="0.445" stop-color="#00faff"/><stop offset="0.575" stop-color="#00faff"/><stop offset="0.68" stop-color="#00ccff"/><stop offset="0.7" stop-color="#28ffd7"/><stop offset="0.825" stop-color="#16ffe9"/><stop offset="1" stop-color="#00a7ff"/></linearGradient><linearGradient id="hd53"><stop offset="0" stop-color="#94ff6b"/><stop offset="0.165" stop-color="#d1ff2e"/><stop offset="0.27" stop-color="#ff9e00"/><stop offset="0.35" stop-color="#ff9e00"/><stop offset="0.36" stop-color="#e5ff1a"/><stop offset="0.42" stop-color="#94ff6b"/><stop offset="0.432" stop-color="#ffe500"/><stop offset="0.445" stop-color="#ff6100"/><stop offset="0.575" stop-color="#ff6100"/><stop offset="0.68" stop-color="#ffc700"/><stop offset="0.7" stop-color="#fa0000"/><stop offset="0.825" stop-color="#ff2400"/><stop offset="0.9" stop-color="#ff9e00"/><stop offset="1" stop-color="#e5ff1a"/></linearGradient><linearGradient id="hd54"><stop offset="0" stop-color="#00f0ff"/><stop offset="1" stop-color="#05fffa"/></linearGradient><linearGradient id="hd55"><stop offset="0" stop-color="#0039ff"/><stop offset="0.07" stop-color="#0000e5"/><stop offset="0.68" stop-color="#0000ee"/><stop offset="1" stop-color="#0026ff"/></linearGradient><linearGradient id="hd56"><stop offset="0" stop-color="#00f0ff"/><stop offset="0.03" stop-color="#00b2ff"/><stop offset="0.07" stop-color="#0038ff"/><stop offset="0.68" stop-color="#004dff"/><stop offset="1" stop-color="#00c7ff"/></linearGradient><linearGradient id="hd57"><stop offset="0" stop-color="#0042ff"/><stop offset="1" stop-color="#0054ff"/></linearGradient><linearGradient id="hd58"><stop offset="0" stop-color="#05fffa"/><stop offset="1" stop-color="#2effd1"/></linearGradient><linearGradient id="hd59"><stop offset="0" stop-color="#0000e5"/><stop offset="1" stop-color="#0022ff"/></linearGradient><linearGradient id="hd60"><stop offset="0" stop-color="#0038ff"/><stop offset="1" stop-color="#00bdff"/></linearGradient><linearGradient id="hd61"><stop offset="0" stop-color="#0070ff"/><stop offset="0.04" stop-color="#0054ff"/><stop offset="1" stop-color="#0070ff"/></linearGradient><linearGradient id="hd62"><stop offset="0" stop-color="#6bff94"/><stop offset="0.04" stop-color="#2effd1"/><stop offset="1" stop-color="#6bff94"/></linearGradient><linearGradient id="hd63"><stop offset="0" stop-color="#001dff"/><stop offset="1" stop-color="#0039ff"/></linearGradient><linearGradient id="hd64"><stop offset="0" stop-color="#00b2ff"/><stop offset="1" stop-color="#00f0ff"/></linearGradient><linearGradient id="hd65"><stop offset="0" stop-color="#0000a5" stop-opacity="0"/><stop offset="0.625" stop-color="#0000a5" stop-opacity="0"/><stop offset="0.7" stop-color="#0026ff"/><stop offset="1" stop-color="#0030ff"/></linearGradient><linearGradient id="hd66"><stop offset="0" stop-color="#0000a8" stop-opacity="0"/><stop offset="0.625" stop-color="#0000a8" stop-opacity="0"/><stop offset="0.662" stop-color="#0038ff"/><stop offset="0.7" stop-color="#00c7ff"/><stop offset="1" stop-color="#00dbff"/></linearGradient><linearGradient id="hd67"><stop offset="0" stop-color="#0000c0"/><stop offset="1" stop-color="#0000d3"/></linearGradient><linearGradient id="hd68"><stop offset="0" stop-color="#0000e6"/><stop offset="1" stop-color="#000fff"/></linearGradient><linearGradient id="hd69"><stop offset="0" stop-color="#0026ff"/><stop offset="0.315" stop-color="#004bff"/><stop offset="0.68" stop-color="#0095ff"/><stop offset="1" stop-color="#00a7ff"/></linearGradient><linearGradient id="hd70"><stop offset="0" stop-color="#00c7ff"/><stop offset="0.315" stop-color="#1affe5"/><stop offset="0.45" stop-color="#6bff94"/><stop offset="0.68" stop-color="#bdff42"/><stop offset="1" stop-color="#e5ff1a"/></linearGradient><linearGradient id="hd71"><stop offset="0" stop-color="#0000a5" stop-opacity="0"/><stop offset="0.2" stop-color="#0000a5" stop-opacity="0"/><stop offset="0.315" stop-color="#0000dc"/><stop offset="1" stop-color="#0000e5"/></linearGradient><linearGradient id="hd72"><stop offset="0" stop-color="#0000a8" stop-opacity="0"/><stop offset="0.2" stop-color="#0000a8" stop-opacity="0"/><stop offset="0.315" stop-color="#0024ff"/><stop offset="1" stop-color="#0038ff"/></linearGradient><linearGradient id="hd73"><stop offset="0" stop-color="#0000e5"/><stop offset="1" stop-color="#0026ff"/></linearGradient><linearGradient id="hd74"><stop offset="0" stop-color="#0038ff"/><stop offset="1" stop-color="#00c7ff"/></linearGradient><linearGradient id="hd75"><stop offset="0" stop-color="#0000ee"/><stop offset="0.05" stop-color="#0002ff"/><stop offset="0.09" stop-color="#0039ff"/><stop offset="0.165" stop-color="#005eff"/><stop offset="0.25" stop-color="#00a7ff"/><stop offset="0.445" stop-color="#00a7ff"/><stop offset="0.45" stop-color="#00e7ff"/><stop offset="0.485" stop-color="#00e7ff"/><stop offset="0.49" stop-color="#008bff"/><stop offset="0.52" stop-color="#008bff"/><stop offset="0.525" stop-color="#28ffd7"/><stop offset="0.575" stop-color="#28ffd7"/><stop offset="0.585" stop-color="#00b9ff"/><stop offset="0.625" stop-color="#00b9ff"/><stop offset="0.635" stop-color="#28ffd7"/><stop offset="0.67" stop-color="#28ffd7"/><stop offset="0.68" stop-color="#00d5ff"/><stop offset="0.755" stop-color="#00ccff"/><stop offset="0.765" stop-color="#32ffcd"/><stop offset="0.855" stop-color="#32ffcd"/><stop offset="0.865" stop-color="#00d5ff"/><stop offset="0.92" stop-color="#00c3ff"/><stop offset="0.925" stop-color="#0082ff"/><stop offset="0.945" stop-color="#0082ff"/><stop offset="0.95" stop-color="#60ff9f"/><stop offset="1" stop-color="#60ff9f"/></linearGradient><linearGradient id="hd76"><stop offset="0" stop-color="#004dff"/><stop offset="0.05" stop-color="#0075ff"/><stop offset="0.09" stop-color="#00f0ff"/><stop offset="0.165" stop-color="#42ffbd"/><stop offset="0.21" stop-color="#a8ff57"/><stop offset="0.25" stop-color="#e5ff1a"/><stop offset="0.445" stop-color="#e5ff1a"/><stop offset="0.45" stop-color="#ff8a00"/><stop offset="0.485" stop-color="#ff8a00"/><stop offset="0.49" stop-color="#a8ff57"/><stop offset="0.52" stop-color="#a8ff57"/><stop offset="0.522" stop-color="#ffa800"/><stop offset="0.525" stop-color="#fa0000"/><stop offset="0.575" stop-color="#fa0000"/><stop offset="0.58" stop-color="#ff7500"/><stop offset="0.585" stop-color="#fff000"/><stop offset="0.625" stop-color="#fff000"/><stop offset="0.63" stop-color="#ff7500"/><stop offset="0.635" stop-color="#fa0000"/><stop offset="0.67" stop-color="#fa0000"/><stop offset="0.68" stop-color="#ffb300"/><stop offset="0.755" stop-color="#ffc700"/><stop offset="0.765" stop-color="#e50000"/><stop offset="0.855" stop-color="#e50000"/><stop offset="0.865" stop-color="#ffb300"/><stop offset="0.92" stop-color="#ffdb00"/><stop offset="0.925" stop-color="#94ff6b"/><stop offset="0.945" stop-color="#94ff6b"/><stop offset="0.946" stop-color="#fff000"/><stop offset="0.948" stop-color="#ff7500"/><stop offset="0.949" stop-color="#fa0000"/><stop offset="0.95" stop-color="#800000"/><stop offset="1" stop-color="#800000"/></linearGradient><linearGradient id="hd77"><stop offset="0" stop-color="#0042ff"/><stop offset="0.15" stop-color="#0042ff"/><stop offset="0.315" stop-color="#0082ff"/><stop offset="1" stop-color="#00a7ff"/></linearGradient><linearGradient id="hd78"><stop offset="0" stop-color="#05fffa"/><stop offset="0.15" stop-color="#05fffa"/><stop offset="0.2" stop-color="#42ffbd"/><stop offset="0.315" stop-color="#94ff6b"/><stop offset="0.68" stop-color="#d1ff2e"/><stop offset="1" stop-color="#e5ff1a"/></linearGradient><linearGradient id="hd79"><stop offset="0" stop-color="#0039ff"/><stop offset="0.05" stop-color="#001dff"/><stop offset="0.1" stop-color="#0000ae" stop-opacity="0"/><stop offset="1" stop-color="#0000a5" stop-opacity="0"/></linearGradient><linearGradient id="hd80"><stop offset="0" stop-color="#00f0ff"/><stop offset="0.05" stop-color="#00b2ff"/><stop offset="0.075" stop-color="#0038ff"/><stop offset="0.1" stop-color="#0000bd"/><stop offset="1" stop-color="#0000a8" stop-opacity="0"/></linearGradient><linearGradient id="hd81"><stop offset="0" stop-color="#0000c0"/><stop offset="1" stop-color="#0000f8"/></linearGradient><linearGradient id="hd82"><stop offset="0" stop-color="#0000e6"/><stop offset="0.315" stop-color="#0024ff"/><stop offset="1" stop-color="#0061ff"/></linearGradient><linearGradient id="hd83"><stop offset="0" stop-color="#0000a5" stop-opacity="0"/><stop offset="0.5" stop-color="#0000a5" stop-opacity="0"/><stop offset="0.68" stop-color="#0000e5"/><stop offset="1" stop-color="#0000e5"/></linearGradient><linearGradient id="hd84"><stop offset="0" stop-color="#0000a8" stop-opacity="0"/><stop offset="0.5" stop-color="#0000a8" stop-opacity="0"/><stop offset="0.68" stop-color="#0038ff"/><stop offset="1" stop-color="#0038ff"/></linearGradient><linearGradient id="hd85"><stop offset="0" stop-color="#0002ff"/><stop offset="0.315" stop-color="#0014ff"/><stop offset="1" stop-color="#0000ee"/></linearGradient><linearGradient id="hd86"><stop offset="0" stop-color="#0075ff"/><stop offset="0.315" stop-color="#009eff"/><stop offset="0.68" stop-color="#0061ff"/><stop offset="1" stop-color="#004dff"/></linearGradient><linearGradient id="hd87"><stop offset="0" stop-color="#0000a5" stop-opacity="0"/><stop offset="0.5" stop-color="#0000a5" stop-opacity="0"/><stop offset="0.68" stop-color="#001dff"/><stop offset="1" stop-color="#0026ff"/></linearGradient><linearGradient id="hd88"><stop offset="0" stop-color="#0000a8" stop-opacity="0"/><stop offset="0.5" stop-color="#0000a8" stop-opacity="0"/><stop offset="0.59" stop-color="#002eff"/><stop offset="0.68" stop-color="#00b2ff"/><stop offset="1" stop-color="#00c7ff"/></linearGradient><linearGradient id="hd89"><stop offset="0" stop-color="#0002ff"/><stop offset="0.025" stop-color="#0000b7"/><stop offset="0.05" stop-color="#0000a5" stop-opacity="0"/><stop offset="1" stop-color="#0000a5" stop-opacity="0"/></linearGradient><linearGradient id="hd90"><stop offset="0" stop-color="#0075ff"/><stop offset="0.025" stop-color="#0000d1"/><stop offset="0.05" stop-color="#0000a8" stop-opacity="0"/><stop offset="1" stop-color="#0000a8" stop-opacity="0"/></linearGradient><linearGradient id="hd91"><stop offset="0" stop-color="#000bff"/><stop offset="1" stop-color="#0030ff"/></linearGradient><linearGradient id="hd92"><stop offset="0" stop-color="#008aff"/><stop offset="1" stop-color="#00dbff"/></linearGradient><linearGradient id="hd93"><stop offset="0" stop-color="#004bff"/><stop offset="0.11" stop-color="#005eff"/><stop offset="0.135" stop-color="#009eff"/><stop offset="1" stop-color="#00a7ff"/></linearGradient><linearGradient id="hd94"><stop offset="0" stop-color="#1affe5"/><stop offset="0.11" stop-color="#42ffbd"/><stop offset="0.135" stop-color="#d1ff2e"/><stop offset="1" stop-color="#e5ff1a"/></linearGradient></defs><rect x="291.1" y="235.8" width="207.3" height="152.5" fill="#0000a2"/><rect x="291.1" y="271.55" width="207.3" height="2.30" fill="#0000ca"/><rect x="291.1" y="340.80" width="207.3" height="1.80" fill="url(#hd67)"/><rect x="291.1" y="293.90" width="207.3" height="4.20" fill="url(#hd34)"/><rect x="291.1" y="386.00" width="207.3" height="2.60" fill="#0000dc"/><rect x="291.1" y="306.00" width="207.3" height="1.80" fill="url(#hd42)"/><rect x="291.1" y="347.85" width="207.3" height="1.70" fill="url(#hd71)"/><rect x="291.1" y="368.10" width="207.3" height="1.80" fill="url(#hd83)"/><rect x="291.1" y="242.20" width="207.3" height="2.00" fill="url(#hd1)"/><rect x="291.1" y="268.90" width="207.3" height="1.80" fill="url(#hd19)"/><rect x="291.1" y="309.10" width="207.3" height="1.80" fill="url(#hd44)"/><rect x="291.1" y="362.50" width="207.3" height="1.80" fill="url(#hd81)"/><rect x="291.1" y="379.60" width="207.3" height="1.80" fill="url(#hd89)"/><rect x="291.1" y="288.20" width="207.3" height="3.40" fill="#0014ff"/><rect x="291.1" y="334.70" width="207.3" height="3.40" fill="#0014ff"/><rect x="291.1" y="364.70" width="207.3" height="3.60" fill="#0014ff"/><rect x="291.1" y="372.60" width="207.3" height="1.80" fill="url(#hd85)"/><rect x="291.1" y="302.40" width="207.3" height="2.60" fill="url(#hd40)"/><rect x="291.1" y="329.30" width="207.3" height="3.80" fill="url(#hd59)"/><rect x="291.1" y="246.20" width="207.3" height="4.60" fill="#0026ff"/><rect x="291.1" y="253.90" width="207.3" height="2.00" fill="url(#hd7)"/><rect x="291.1" y="351.10" width="207.3" height="5.40" fill="url(#hd73)"/><rect x="291.1" y="374.95" width="207.3" height="1.70" fill="url(#hd87)"/><rect x="291.1" y="296.00" width="207.3" height="2.40" fill="url(#hd36)"/><rect x="291.1" y="338.10" width="207.3" height="2.40" fill="url(#hd65)"/><rect x="291.1" y="383.50" width="207.3" height="3.80" fill="url(#hd91)"/><rect x="291.1" y="294.50" width="207.3" height="2.20" fill="url(#hd32)"/><rect x="291.1" y="299.60" width="207.3" height="1.80" fill="url(#hd38)"/><rect x="291.1" y="322.05" width="207.3" height="1.90" fill="url(#hd55)"/><rect x="291.1" y="337.95" width="207.3" height="1.70" fill="url(#hd63)"/><rect x="291.1" y="357.10" width="207.3" height="3.80" fill="url(#hd79)"/><rect x="291.1" y="256.40" width="207.3" height="2.40" fill="url(#hd9)"/><rect x="291.1" y="320.30" width="207.3" height="1.80" fill="#0039ff"/><rect x="291.1" y="282.40" width="207.3" height="2.00" fill="url(#hd26)"/><rect x="291.1" y="284.30" width="207.3" height="2.00" fill="url(#hd28)"/><rect x="291.1" y="325.15" width="207.3" height="1.70" fill="url(#hd57)"/><rect x="291.1" y="335.45" width="207.3" height="1.90" fill="url(#hd61)"/><rect x="291.1" y="289.00" width="207.3" height="1.80" fill="url(#hd30)"/><rect x="291.1" y="278.10" width="207.3" height="4.00" fill="url(#hd24)"/><rect x="291.1" y="261.20" width="207.3" height="2.60" fill="url(#hd13)"/><rect x="291.1" y="343.90" width="207.3" height="3.20" fill="url(#hd69)"/><rect x="291.1" y="357.50" width="207.3" height="2.80" fill="url(#hd77)"/><rect x="291.1" y="384.55" width="207.3" height="1.90" fill="url(#hd93)"/><rect x="291.1" y="314.00" width="207.3" height="1.80" fill="url(#hd46)"/><rect x="291.1" y="262.15" width="207.3" height="2.10" fill="url(#hd15)"/><rect x="291.1" y="274.45" width="207.3" height="1.70" fill="url(#hd22)"/><rect x="291.1" y="257.40" width="207.3" height="3.00" fill="url(#hd11)"/><rect x="291.1" y="264.65" width="207.3" height="1.70" fill="url(#hd17)"/><rect x="291.1" y="365.45" width="207.3" height="2.10" fill="#16ffe9"/><rect x="291.1" y="318.65" width="207.3" height="2.30" fill="url(#hd52)"/><rect x="291.1" y="248.50" width="207.3" height="2.00" fill="url(#hd5)"/><rect x="291.1" y="246.40" width="207.3" height="2.00" fill="url(#hd3)"/><rect x="291.1" y="315.40" width="207.3" height="2.40" fill="url(#hd48)"/><rect x="291.1" y="317.00" width="207.3" height="2.40" fill="url(#hd50)"/><rect x="291.1" y="351.80" width="207.3" height="4.00" fill="url(#hd75)"/><rect x="291.1" y="272.01" width="207.3" height="1.38" fill="url(#hd21)"/><rect x="291.1" y="341.26" width="207.3" height="0.88" fill="url(#hd68)"/><rect x="291.1" y="294.36" width="207.3" height="3.28" fill="url(#hd35)"/><rect x="291.1" y="386.46" width="207.3" height="1.68" fill="#0024ff"/><rect x="291.1" y="306.46" width="207.3" height="0.88" fill="url(#hd43)"/><rect x="291.1" y="348.31" width="207.3" height="0.78" fill="url(#hd72)"/><rect x="291.1" y="368.56" width="207.3" height="0.88" fill="url(#hd84)"/><rect x="291.1" y="242.66" width="207.3" height="1.08" fill="url(#hd2)"/><rect x="291.1" y="269.36" width="207.3" height="0.88" fill="url(#hd20)"/><rect x="291.1" y="309.56" width="207.3" height="0.88" fill="url(#hd45)"/><rect x="291.1" y="362.96" width="207.3" height="0.88" fill="url(#hd82)"/><rect x="291.1" y="380.06" width="207.3" height="0.88" fill="url(#hd90)"/><rect x="291.1" y="288.89" width="207.3" height="2.02" fill="#009eff"/><rect x="291.1" y="335.39" width="207.3" height="2.02" fill="#009eff"/><rect x="291.1" y="365.39" width="207.3" height="2.22" fill="#009eff"/><rect x="291.1" y="373.06" width="207.3" height="0.88" fill="url(#hd86)"/><rect x="291.1" y="302.86" width="207.3" height="1.68" fill="url(#hd41)"/><rect x="291.1" y="329.76" width="207.3" height="2.88" fill="url(#hd60)"/><rect x="291.1" y="246.89" width="207.3" height="3.22" fill="#00c7ff"/><rect x="291.1" y="254.36" width="207.3" height="1.08" fill="url(#hd8)"/><rect x="291.1" y="351.56" width="207.3" height="4.48" fill="url(#hd74)"/><rect x="291.1" y="375.41" width="207.3" height="0.78" fill="url(#hd88)"/><rect x="291.1" y="296.46" width="207.3" height="1.48" fill="url(#hd37)"/><rect x="291.1" y="338.56" width="207.3" height="1.48" fill="url(#hd66)"/><rect x="291.1" y="384.19" width="207.3" height="2.42" fill="url(#hd92)"/><rect x="291.1" y="294.96" width="207.3" height="1.28" fill="url(#hd33)"/><rect x="291.1" y="300.06" width="207.3" height="0.88" fill="url(#hd39)"/><rect x="291.1" y="322.51" width="207.3" height="0.98" fill="url(#hd56)"/><rect x="291.1" y="338.41" width="207.3" height="0.78" fill="url(#hd64)"/><rect x="291.1" y="357.56" width="207.3" height="2.88" fill="url(#hd80)"/><rect x="291.1" y="256.86" width="207.3" height="1.48" fill="url(#hd10)"/><rect x="291.1" y="320.76" width="207.3" height="0.88" fill="url(#hd54)"/><rect x="291.1" y="282.86" width="207.3" height="1.08" fill="url(#hd27)"/><rect x="291.1" y="284.76" width="207.3" height="1.08" fill="url(#hd29)"/><rect x="291.1" y="325.61" width="207.3" height="0.78" fill="url(#hd58)"/><rect x="291.1" y="335.91" width="207.3" height="0.98" fill="url(#hd62)"/><rect x="291.1" y="289.46" width="207.3" height="0.88" fill="url(#hd31)"/><rect x="291.1" y="278.56" width="207.3" height="3.08" fill="url(#hd25)"/><rect x="291.1" y="261.66" width="207.3" height="1.68" fill="url(#hd14)"/><rect x="291.1" y="344.36" width="207.3" height="2.28" fill="url(#hd70)"/><rect x="291.1" y="357.96" width="207.3" height="1.88" fill="url(#hd78)"/><rect x="291.1" y="385.01" width="207.3" height="0.98" fill="url(#hd94)"/><rect x="291.1" y="314.46" width="207.3" height="0.88" fill="url(#hd47)"/><rect x="291.1" y="262.61" width="207.3" height="1.18" fill="url(#hd16)"/><rect x="291.1" y="274.91" width="207.3" height="0.78" fill="url(#hd23)"/><rect x="291.1" y="257.86" width="207.3" height="2.08" fill="url(#hd12)"/><rect x="291.1" y="265.11" width="207.3" height="0.78" fill="url(#hd18)"/><rect x="291.1" y="365.91" width="207.3" height="1.18" fill="#ff2400"/><rect x="291.1" y="319.11" width="207.3" height="1.38" fill="url(#hd53)"/><rect x="291.1" y="248.96" width="207.3" height="1.08" fill="url(#hd6)"/><rect x="291.1" y="246.86" width="207.3" height="1.08" fill="url(#hd4)"/><rect x="291.1" y="315.86" width="207.3" height="1.48" fill="url(#hd49)"/><rect x="291.1" y="317.46" width="207.3" height="1.48" fill="url(#hd51)"/><rect x="291.1" y="352.26" width="207.3" height="3.08" fill="url(#hd76)"/><line x1="359.5" y1="247.40" x2="432.1" y2="247.40" stroke="#ffb300" stroke-width="0.80" stroke-dasharray="1.80 4.20"/><line x1="294.2" y1="249.50" x2="356.4" y2="249.50" stroke="#d10000" stroke-width="1.00" stroke-dasharray="2.30 2.30"/><line x1="371.9" y1="263.20" x2="389.6" y2="263.20" stroke="#42ffbd" stroke-width="1.00" stroke-dasharray="1.40 2.10"/><line x1="363.7" y1="283.40" x2="498.4" y2="283.40" stroke="#faff05" stroke-width="0.50" stroke-dasharray="1.50 4.50"/><line x1="306.6" y1="289.90" x2="498.4" y2="289.90" stroke="#ffb300" stroke-width="0.70" stroke-dasharray="1.38 3.22"/><line x1="291.1" y1="314.90" x2="325.3" y2="314.90" stroke="#d1ff2e" stroke-width="1.00" stroke-dasharray="2.15 2.15"/><line x1="327.4" y1="314.90" x2="498.4" y2="314.90" stroke="#e50000" stroke-width="1.00" stroke-dasharray="2.15 2.15"/><line x1="415.5" y1="314.70" x2="498.4" y2="314.70" stroke="#00f0ff" stroke-width="0.80" stroke-dasharray="2.15 6.45"/><line x1="294.2" y1="316.60" x2="325.3" y2="316.60" stroke="#57ffa8" stroke-width="1.20" stroke-dasharray="1.50 3.50"/><line x1="296.3" y1="318.20" x2="325.3" y2="318.20" stroke="#6bff94" stroke-width="1.20" stroke-dasharray="1.80 4.20"/><line x1="311.8" y1="336.40" x2="342.9" y2="336.40" stroke="#ff9e00" stroke-width="1.00" stroke-dasharray="1.05 1.95"/><line x1="342.9" y1="336.40" x2="498.4" y2="336.40" stroke="#e50000" stroke-width="1.10" stroke-dasharray="1.35 1.65"/><line x1="363.7" y1="345.50" x2="498.4" y2="345.50" stroke="#ffdb00" stroke-width="0.80" stroke-dasharray="2.40 3.60"/><line x1="334.6" y1="353.80" x2="384.4" y2="353.80" stroke="#80ff80" stroke-width="2.00" stroke-dasharray="2.00 3.00"/><line x1="330.5" y1="358.90" x2="498.4" y2="358.90" stroke="#ffc700" stroke-width="0.90" stroke-dasharray="2.25 2.75"/><line x1="291.1" y1="366.50" x2="498.4" y2="366.50" stroke="#e5ff1a" stroke-width="1.30" stroke-dasharray="1.78 3.31"/><line x1="317.0" y1="385.50" x2="498.4" y2="385.50" stroke="#57ffa8" stroke-width="1.00" stroke-dasharray="2.10 4.90"/><line x1="321.2" y1="385.50" x2="498.4" y2="385.50" stroke="#ffb300" stroke-width="1.00" stroke-dasharray="3.30 7.70"/><rect x="291.1" y="235.8" width="207.3" height="152.5" fill="none" stroke="#335" stroke-opacity="0.35" stroke-width="0.25"/><text x="311.4" y="394.9" font-size="4.1" text-anchor="middle" style="font-family:'Liberation Sans',sans-serif" fill="#3a3a3a">20</text><text x="332.2" y="394.9" font-size="4.1" text-anchor="middle" style="font-family:'Liberation Sans',sans-serif" fill="#3a3a3a">40</text><text x="352.9" y="394.9" font-size="4.1" text-anchor="middle" style="font-family:'Liberation Sans',sans-serif" fill="#3a3a3a">60</text><text x="373.6" y="394.9" font-size="4.1" text-anchor="middle" style="font-family:'Liberation Sans',sans-serif" fill="#3a3a3a">80</text><text x="394.4" y="394.9" font-size="4.1" text-anchor="middle" style="font-family:'Liberation Sans',sans-serif" fill="#3a3a3a">100</text><text x="415.1" y="394.9" font-size="4.1" text-anchor="middle" style="font-family:'Liberation Sans',sans-serif" fill="#3a3a3a">120</text><text x="435.8" y="394.9" font-size="4.1" text-anchor="middle" style="font-family:'Liberation Sans',sans-serif" fill="#3a3a3a">140</text><text x="456.5" y="394.9" font-size="4.1" text-anchor="middle" style="font-family:'Liberation Sans',sans-serif" fill="#3a3a3a">160</text><text x="477.3" y="394.9" font-size="4.1" text-anchor="middle" style="font-family:'Liberation Sans',sans-serif" fill="#3a3a3a">180</text><text x="498.0" y="394.9" font-size="4.1" text-anchor="middle" style="font-family:'Liberation Sans',sans-serif" fill="#3a3a3a">200</text><text x="288.5" y="256.9" font-size="4.1" text-anchor="end" style="font-family:'Liberation Sans',sans-serif" fill="#3a3a3a">20</text><text x="288.5" y="276.9" font-size="4.1" text-anchor="end" style="font-family:'Liberation Sans',sans-serif" fill="#3a3a3a">40</text><text x="288.5" y="297.0" font-size="4.1" text-anchor="end" style="font-family:'Liberation Sans',sans-serif" fill="#3a3a3a">60</text><text x="288.5" y="317.1" font-size="4.1" text-anchor="end" style="font-family:'Liberation Sans',sans-serif" fill="#3a3a3a">80</text><text x="288.5" y="337.1" font-size="4.1" text-anchor="end" style="font-family:'Liberation Sans',sans-serif" fill="#3a3a3a">100</text><text x="288.5" y="357.2" font-size="4.1" text-anchor="end" style="font-family:'Liberation Sans',sans-serif" fill="#3a3a3a">120</text><text x="288.5" y="377.3" font-size="4.1" text-anchor="end" style="font-family:'Liberation Sans',sans-serif" fill="#3a3a3a">140</text><text x="393.8" y="400.6" font-size="4.5" text-anchor="middle" style="font-family:'Liberation Sans',sans-serif" fill="#3a3a3a">Time</text><text transform="translate(280.5,312.3) rotate(-90)" font-size="4.5" text-anchor="middle" style="font-family:'Liberation Sans',sans-serif" fill="#3a3a3a">Nodes</text>
<text x="152.2" y="208.5" font-size="7.18" text-anchor="middle" stroke="#333" stroke-width="0.1" style="font-family:'Liberation Serif',serif" fill="#141414">(a)Simulation of collection and distribution within Xi-Pu</text>
<text x="152.2" y="216.8" font-size="7.18" text-anchor="middle" stroke="#333" stroke-width="0.1" style="font-family:'Liberation Serif',serif" fill="#141414">comprehensive transportation hubs during peak hours</text>
<text x="410.0" y="206.5" font-size="7.18" text-anchor="middle" stroke="#333" stroke-width="0.1" style="font-family:'Liberation Serif',serif" fill="#141414">(b)Simulation of collection and distribution within Xi-Pu comprehensive transportation</text>
<text x="410.0" y="215.6" font-size="7.18" text-anchor="middle" stroke="#333" stroke-width="0.1" style="font-family:'Liberation Serif',serif" fill="#141414">hubs during peak hours (Increasing passenger arrival expectations by 100%)</text>
<text x="148.0" y="422.6" font-size="7.18" text-anchor="middle" stroke="#333" stroke-width="0.1" style="font-family:'Liberation Serif',serif" fill="#141414">(c)Time series of passenger density during peak periods</text>
<text x="398.6" y="419.0" font-size="7.18" text-anchor="middle" stroke="#333" stroke-width="0.1" style="font-family:'Liberation Serif',serif" fill="#141414">(d)Time series of passenger density during peak</text>
<text x="398.6" y="429.0" font-size="7.18" text-anchor="middle" stroke="#333" stroke-width="0.1" style="font-family:'Liberation Serif',serif" fill="#141414">periods(Increasing passenger arrival expectations by 100%)</text>
</svg>
</body></html>
